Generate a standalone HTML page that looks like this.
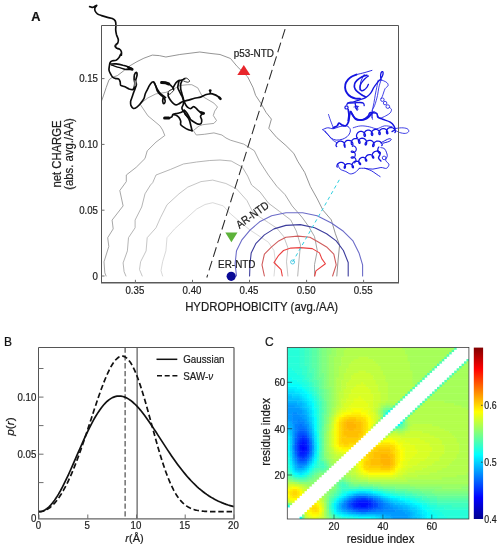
<!DOCTYPE html>
<html><head><meta charset="utf-8"><title>Figure</title>
<style>html,body{margin:0;padding:0;background:#fff}svg{display:block}text{stroke:#222;stroke-width:0.22px;paint-order:stroke}</style></head>
<body><svg width="501" height="550" viewBox="0 0 501 550" font-family="'Liberation Sans', sans-serif">
<rect width="501" height="550" fill="#fff"/>
<clipPath id="clipA"><rect x="101.5" y="25.5" width="297.0" height="257.3"/></clipPath>
<g clip-path="url(#clipA)">
<path d="M100.0,104.0 L101.3,101.5 L103.4,95.9 L106.2,87.5 L109.0,79.8 L112.0,77.5 L117.4,75.6 L122.9,71.4 L129.9,65.8 L136.9,61.7 L143.9,58.2 L152.3,55.1 L159.3,55.6 L165.9,57.0 L179.8,54.5 L199.8,52.0 L211.0,53.5 L220.0,54.5 L230.5,58.5 L237.1,66.4 L247.7,76.9 L253.0,87.5 L255.6,95.4 L260.9,103.3 L266.1,112.5 L271.4,119.1 L268.8,128.3 L276.7,137.5 L285.9,145.5 L293.8,153.4 L297.7,161.2 L304.7,172.4 L310.3,186.3 L317.3,198.9 L322.9,210.1 L331.3,219.9 L335.4,233.8 L339.6,245.0 L338.2,259.0 L336.8,276.0" fill="none" stroke="#828282" stroke-width="0.85" stroke-linejoin="round" stroke-linecap="round" />
<path d="M106.1,276.0 L104.8,272.8 L104.0,261.8 L108.8,246.5 L107.7,237.7 L113.2,228.9 L112.1,220.1 L123.1,205.9 L119.8,190.5 L126.3,181.6 L126.3,175.0 L136.2,167.3 L145.0,158.5 L147.2,150.9 L156.0,142.1 L164.8,135.5 L162.6,130.0 L159.9,125.8 L147.9,115.8 L139.9,103.9 L147.9,97.9 L155.9,93.9 L165.9,92.4 L173.9,88.9 L179.8,85.5 L187.8,84.7 L191.8,84.7 L197.8,87.9 L201.5,95.0 L204.3,97.5 L213.9,103.1 L217.5,107.0 L214.7,111.1 L213.3,115.5 L216.5,120.5 L213.9,123.4 L202.7,124.7 L199.0,126.0 L193.3,130.6 L196.3,135.0 L204.3,134.3 L213.9,132.9 L221.9,135.0 L226.0,138.0 L230.5,140.2 L243.7,144.1 L254.3,150.7 L259.5,161.3 L268.4,175.1 L276.8,186.3 L285.1,194.7 L292.1,205.9 L301.9,217.1 L308.9,226.8 L314.5,236.6 L317.3,250.6 L314.5,264.6 L314.5,276.0" fill="none" stroke="#969696" stroke-width="0.85" stroke-linejoin="round" stroke-linecap="round" />
<path d="M125.9,276.0 L124.1,271.7 L123.1,262.9 L127.4,250.9 L128.5,237.7 L135.1,227.8 L135.1,220.1 L141.7,207.0 L145.0,193.8 L150.5,185.0 L152.7,182.7 L156.0,175.0 L170.3,169.5 L183.4,164.0 L196.6,162.0 L209.8,160.5 L220.0,160.0 L231.2,161.0 L242.4,167.2 L247.7,176.1 L251.6,185.0 L260.0,191.9 L268.4,203.1 L279.6,211.5 L290.7,219.9 L296.3,231.0 L300.5,245.0 L299.1,259.0 L297.7,276.0" fill="none" stroke="#a8a8a8" stroke-width="0.85" stroke-linejoin="round" stroke-linecap="round" />
<path d="M142.2,276.0 L139.5,269.5 L140.6,261.8 L146.1,250.9 L147.2,237.7 L156.0,227.8 L160.4,217.9 L167.0,204.8 L179.0,193.8 L187.8,187.1 L201.0,181.6 L212.7,180.1 L225.9,183.5 L236.5,188.8 L247.0,200.6 L252.3,211.2 L260.0,217.1 L268.4,222.6 L276.8,228.2 L283.8,236.6 L287.9,247.8 L286.5,261.8 L287.9,276.0" fill="none" stroke="#bcbcbc" stroke-width="0.85" stroke-linejoin="round" stroke-linecap="round" />
<path d="M162.6,276.0 L161.0,270.6 L162.6,261.8 L165.9,250.9 L167.0,237.7 L174.6,228.9 L185.6,219.0 L196.6,209.1 L205.0,204.5 L212.7,202.7 L223.3,205.9 L229.1,212.5 L240.0,222.0 L250.0,230.0 L260.0,236.6 L268.4,242.2 L274.0,250.6 L275.4,261.8 L274.0,276.0" fill="none" stroke="#d2d2d2" stroke-width="0.85" stroke-linejoin="round" stroke-linecap="round" />
<path d="M236.5,276.0 L235.1,263.9 L236.5,250.7 L241.7,240.2 L250.0,230.1 L259.6,221.8 L271.6,215.8 L285.9,212.7 L302.7,212.7 L317.1,215.8 L331.4,223.0 L343.4,231.3 L353.0,240.9 L359.0,252.9 L362.6,264.9 L362.6,276.0" fill="none" stroke="#6c6cc8" stroke-width="1.1" stroke-linejoin="round" stroke-linecap="round" />
<path d="M249.6,276.0 L250.0,264.0 L251.2,252.9 L256.0,243.3 L264.4,234.9 L274.0,228.9 L285.9,225.4 L300.3,224.6 L314.7,227.8 L326.6,233.7 L336.2,240.9 L343.4,250.5 L348.2,262.5 L348.2,276.0" fill="none" stroke="#3c3c9c" stroke-width="1.1" stroke-linejoin="round" stroke-linecap="round" />
<path d="M264.4,276.0 L262.0,264.9 L264.4,254.1 L271.6,246.9 L278.7,240.9 L285.9,237.3 L297.9,236.1 L309.9,237.3 L318.3,242.1 L326.6,246.9 L333.8,254.1 L336.2,264.9 L332.6,276.0" fill="none" stroke="#d05c5c" stroke-width="1.1" stroke-linejoin="round" stroke-linecap="round" />
<path d="M282.3,276.0 L281.1,269.7 L274.0,262.5 L278.7,255.3 L283.5,250.5 L290.7,248.1 L300.3,247.6 L312.3,248.6 L319.5,252.9 L321.9,258.9 L325.4,263.7 L315.9,270.9 L314.7,276.0" fill="none" stroke="#ea4040" stroke-width="1.1" stroke-linejoin="round" stroke-linecap="round" />
</g>
<line x1="206.8" y1="277.5" x2="286.2" y2="25.5" stroke="#2a2a2a" stroke-width="1.05" stroke-dasharray="10 4.3" stroke-dashoffset="6.9"/>
<line x1="292.6" y1="262" x2="339.6" y2="179.3" stroke="#30d0e0" stroke-width="1" stroke-dasharray="3.5 3"/>
<circle cx="292.6" cy="262" r="2" fill="none" stroke="#30c0e0" stroke-width="0.8"/>
<polygon points="243.8,65 237.3,75 250.3,75" fill="#e8262c"/>
<text transform="translate(233.7,57.3) scale(0.885,1)" font-size="11.2" text-anchor="start" fill="#1c1c1c" >p53-NTD</text>
<polygon points="225.3,232.4 237.5,232.4 231.4,242.3" fill="#5db23a"/>
<circle cx="231.2" cy="276.3" r="4.6" fill="#0a0a96"/>
<text transform="translate(218.1,268.0) scale(0.885,1)" font-size="11.2" text-anchor="start" fill="#1c1c1c" >ER-NTD</text>
<text transform="translate(239.5,229.0) rotate(-36) scale(0.885,1)" font-size="11.2" text-anchor="start" fill="#1c1c1c" >AR-NTD</text>
<path d="M89.6,6.6 C90.0,6.7 91.2,7.4 92.0,7.4 C92.8,7.4 93.6,6.9 94.4,6.6 C95.2,6.2 96.7,5.2 96.8,5.4 C96.9,5.6 95.3,6.9 95.0,7.8 C94.7,8.7 94.6,9.8 95.0,10.8 C95.4,11.8 96.3,13.0 97.4,13.8 C98.5,14.6 99.9,15.0 101.6,15.6 C103.3,16.2 105.7,16.9 107.5,17.4 C109.3,17.9 111.0,18.0 112.3,18.6 C113.6,19.2 114.7,19.9 115.3,21.0 C115.9,22.1 115.9,23.7 115.9,25.1 C116.0,26.6 115.6,28.3 115.7,29.9 C115.8,31.5 116.1,33.1 116.5,34.7 C117.0,36.3 118.1,38.2 118.3,39.5 C118.5,40.9 118.3,41.9 117.8,42.9 C117.4,43.8 115.9,44.4 115.7,45.3 C115.4,46.1 115.6,47.3 116.3,47.9 C116.9,48.5 118.7,48.5 119.5,49.1 C120.4,49.7 121.0,50.5 121.3,51.5 C121.6,52.5 121.5,54.7 121.4,55.1 C121.4,55.5 121.2,53.6 120.8,54.0 C120.4,54.4 119.8,56.4 119.0,57.5 C118.2,58.5 117.2,59.7 116.0,60.3 C114.7,60.8 112.7,60.6 111.8,61.0 C110.8,61.4 110.5,61.8 110.1,62.6 C109.7,63.5 109.6,64.6 109.4,65.8 C109.2,67.1 108.8,68.8 109.0,70.0 C109.1,71.3 109.8,72.4 110.4,73.5 C111.0,74.7 111.7,76.2 112.5,77.0 C113.3,77.8 114.2,78.1 115.3,78.4 C116.3,78.8 117.9,78.5 118.8,79.1 C119.6,79.7 119.8,80.9 120.2,81.9 C120.5,83.0 120.0,84.6 120.8,85.4 C121.7,86.2 123.6,86.2 125.0,86.8 C126.4,87.4 128.0,88.4 129.2,88.9 C130.5,89.4 131.9,89.8 132.7,89.6 C133.5,89.4 133.8,88.6 134.1,87.5 C134.5,86.5 134.8,84.7 134.8,83.3 C134.8,81.9 134.2,80.5 134.1,79.1 C134.1,77.7 134.1,76.0 134.4,74.9 C134.8,73.8 135.8,72.4 136.2,72.4 C136.7,72.4 137.1,73.6 137.1,74.9 C137.0,76.3 135.8,78.9 135.7,80.5 C135.5,82.1 136.5,83.3 136.4,84.7 C136.2,86.1 135.4,87.5 135.0,88.9 C134.5,90.3 133.9,91.7 133.4,93.1 C132.9,94.5 132.5,95.9 132.0,97.3 C131.6,98.7 130.8,100.1 130.6,101.5 C130.5,102.9 130.6,104.5 131.0,105.7 C131.5,106.8 132.4,108.2 133.4,108.5 C134.4,108.7 135.8,107.9 136.9,107.1 C138.1,106.3 139.2,105.0 140.4,103.6 C141.6,102.2 143.1,100.3 143.9,98.7 C144.7,97.1 144.7,95.3 145.3,93.8 C145.9,92.3 146.7,91.0 147.4,89.6 C148.1,88.2 148.8,86.6 149.5,85.4 C150.2,84.2 150.9,83.2 151.6,82.6 C152.3,82.0 153.0,81.3 153.7,81.9 C154.4,82.5 155.1,84.7 155.8,86.1 C156.5,87.5 157.1,89.0 157.9,90.3 C158.7,91.6 159.7,92.9 160.7,93.8 C161.6,94.7 162.6,95.3 163.5,95.9 C164.3,96.5 165.2,97.3 165.6,97.6" fill="none" stroke="#0c0c0c" stroke-width="1.65" stroke-linejoin="round" stroke-linecap="round" />
<path d="M117.8,42.9 C117.4,43.2 115.5,43.9 115.0,44.6 C114.5,45.2 114.4,46.2 114.7,46.9 C115.1,47.7 116.3,48.5 117.1,48.9 C118.0,49.3 119.3,49.3 119.8,49.3" fill="none" stroke="#0c0c0c" stroke-width="0.7" stroke-linejoin="round" stroke-linecap="round" />
<path d="M110.6,64.0 C111.5,64.0 113.9,63.7 116.0,63.9 C118.0,64.1 120.7,64.6 122.9,65.2 C125.2,65.7 127.7,66.6 129.2,67.2 C130.8,67.9 131.7,68.5 132.2,68.8" fill="none" stroke="#0c0c0c" stroke-width="1.6" stroke-linejoin="round" stroke-linecap="round" />
<path d="M111.5,65.2 C112.7,65.5 116.4,66.7 118.8,67.4 C121.1,68.1 123.6,69.1 125.7,69.5 C127.9,69.9 130.9,69.6 131.9,69.6" fill="none" stroke="#0c0c0c" stroke-width="1.3" stroke-linejoin="round" stroke-linecap="round" />
<path d="M128.5,67.9 L132.2,69.2" fill="none" stroke="#0c0c0c" stroke-width="2.8" stroke-linejoin="round" stroke-linecap="round" />
<path d="M134.5,79.8 L136.4,81.2 L136.1,85.4 L134.1,86.8 Z" fill="#8a8a8a" stroke="none"/>
<path d="M154.0,82.5 C154.2,82.8 154.6,83.1 155.0,84.0 C155.4,84.8 155.8,86.4 156.2,87.6 C156.6,88.8 156.8,90.1 157.4,91.2 C158.0,92.3 158.9,93.3 159.8,94.2 C160.7,95.1 162.0,95.8 162.8,96.6 C163.6,97.3 164.2,98.0 164.6,98.9 C165.0,99.8 165.2,101.2 165.1,101.9 C164.9,102.7 164.3,103.7 163.9,103.6 C163.5,103.5 162.8,102.3 162.7,101.3 C162.5,100.4 163.1,98.6 163.1,98.1" fill="none" stroke="#0c0c0c" stroke-width="1.65" stroke-linejoin="round" stroke-linecap="round" />
<path d="M161.6,82.5 L165.8,82.8 L168.8,84.0" fill="none" stroke="#0c0c0c" stroke-width="3.0" stroke-linejoin="round" stroke-linecap="round" />
<path d="M161.6,82.5 C162.3,82.6 164.6,82.5 165.8,82.8 C167.0,83.0 167.9,83.5 168.8,84.0 C169.7,84.5 170.5,85.2 171.2,85.8 C171.9,86.4 172.6,87.0 173.0,87.6 C173.4,88.2 173.5,89.1 173.6,89.4" fill="none" stroke="#0c0c0c" stroke-width="1.65" stroke-linejoin="round" stroke-linecap="round" />
<path d="M173.0,88.2 C173.3,87.6 174.2,85.6 174.8,84.6 C175.4,83.6 175.9,82.8 176.6,82.2 C177.3,81.5 178.1,81.0 179.0,80.6 C179.9,80.3 181.0,80.5 181.9,80.1 C182.9,79.8 184.2,78.9 184.7,78.7" fill="none" stroke="#0c0c0c" stroke-width="1.65" stroke-linejoin="round" stroke-linecap="round" />
<path d="M181.9,79.9 C182.6,79.6 184.8,77.8 186.1,78.0 C187.4,78.2 189.5,80.3 189.7,81.0 C189.9,81.7 188.3,82.2 187.3,82.2 C186.3,82.2 184.3,81.2 183.7,81.0" fill="none" stroke="#0c0c0c" stroke-width="0.8" stroke-linejoin="round" stroke-linecap="round" />
<path d="M181.9,81.0 C181.7,81.5 180.9,82.7 180.7,84.0 C180.5,85.3 180.5,87.2 180.7,88.8 C180.9,90.4 181.5,92.1 181.9,93.6 C182.3,95.1 182.8,96.5 183.1,97.7 C183.4,99.0 183.7,100.1 183.7,101.3 C183.7,102.5 183.4,103.8 183.1,104.9 C182.8,106.0 181.9,106.9 181.9,107.9 C181.9,108.9 182.5,109.9 183.1,110.9 C183.7,111.9 184.7,112.8 185.5,113.9 C186.3,115.0 187.2,116.3 187.9,117.5 C188.6,118.7 189.2,119.7 189.7,121.1 C190.2,122.5 190.5,124.3 190.9,125.9 C191.3,127.5 191.9,129.9 192.1,130.7" fill="none" stroke="#0c0c0c" stroke-width="1.65" stroke-linejoin="round" stroke-linecap="round" />
<path d="M179.0,80.6 C178.9,81.2 178.6,82.8 178.4,84.0 C178.2,85.1 177.6,86.3 177.8,87.6 C178.0,88.9 178.9,90.4 179.6,91.8 C180.2,93.2 181.2,94.5 181.9,96.0 C182.6,97.4 183.0,99.1 183.7,100.7 C184.4,102.3 185.3,104.3 186.1,105.5 C186.9,106.7 187.7,107.4 188.5,107.9 C189.3,108.4 190.1,108.7 190.9,108.5 C191.7,108.3 192.5,106.8 193.3,106.7 C194.1,106.6 194.9,107.3 195.7,107.9 C196.5,108.5 197.2,109.5 198.1,110.3 C199.0,111.1 200.2,112.2 201.1,112.7 C202.0,113.2 203.1,113.2 203.5,113.3" fill="none" stroke="#0c0c0c" stroke-width="1.65" stroke-linejoin="round" stroke-linecap="round" />
<path d="M201.1,112.5 L203.6,113.4" fill="none" stroke="#0c0c0c" stroke-width="2.8" stroke-linejoin="round" stroke-linecap="round" />
<path d="M173.0,88.8 C172.3,89.1 170.0,90.1 169.1,90.9 C168.3,91.7 167.8,93.0 167.9,93.6 C168.1,94.1 168.9,94.8 169.9,94.3 C170.8,93.7 173.2,90.9 173.9,90.2" fill="none" stroke="#0c0c0c" stroke-width="0.8" stroke-linejoin="round" stroke-linecap="round" />
<path d="M168.4,93.3 C168.4,93.8 167.9,94.9 168.2,96.0 C168.4,97.0 169.2,98.3 170.0,99.5 C170.8,100.7 172.0,102.2 173.0,103.1 C174.0,104.0 175.0,104.8 176.0,104.9 C177.0,105.0 178.0,104.2 179.0,103.7 C180.0,103.2 181.1,102.3 181.9,101.9 C182.7,101.5 182.6,101.6 183.7,101.3 C184.8,101.0 186.7,100.6 188.5,100.1 C190.3,99.6 192.5,98.8 194.5,98.3 C196.5,97.8 198.9,97.6 200.5,97.1 C202.1,96.7 202.9,95.9 204.1,95.4 C205.3,94.9 206.7,94.5 207.7,94.2 C208.7,93.9 209.7,94.1 210.1,93.6 C210.5,93.0 210.2,91.3 210.2,90.8" fill="none" stroke="#0c0c0c" stroke-width="1.65" stroke-linejoin="round" stroke-linecap="round" />
<circle cx="210.2" cy="90.6" r="1.4" fill="#0c0c0c"/>
<path d="M210.1,93.6 C210.7,93.7 212.5,93.9 213.7,94.3 C214.9,94.7 216.2,95.2 217.3,96.0 C218.4,96.7 219.8,98.1 220.3,98.6" fill="none" stroke="#0c0c0c" stroke-width="1.75" stroke-linejoin="round" stroke-linecap="round" />
<path d="M219.4,97.7 L220.5,98.8" fill="none" stroke="#0c0c0c" stroke-width="2.5" stroke-linejoin="round" stroke-linecap="round" />
<path d="M164.6,118.1 L168.8,118.1" fill="none" stroke="#0c0c0c" stroke-width="3.0" stroke-linejoin="round" stroke-linecap="round" />
<path d="M164.6,118.1 C165.3,118.1 167.6,118.3 168.8,118.1 C170.0,117.9 171.1,117.5 171.8,116.9 C172.5,116.3 172.0,115.1 173.0,114.5 C174.0,113.9 176.3,113.7 177.8,113.3 C179.3,112.9 180.8,112.6 181.9,112.1 C183.0,111.6 183.5,110.2 184.3,110.3 C185.1,110.4 185.9,111.6 186.7,112.7 C187.5,113.8 188.4,115.7 189.1,116.9 C189.8,118.1 190.0,119.0 190.9,119.9 C191.8,120.8 193.3,121.6 194.5,122.3 C195.7,123.0 197.0,123.9 198.1,124.1 C199.2,124.3 200.5,124.2 201.1,123.5 C201.7,122.8 201.8,121.1 201.7,119.9 C201.6,118.7 200.4,117.3 200.5,116.3 C200.6,115.3 201.8,114.4 202.3,113.9 C202.8,113.4 203.3,113.4 203.5,113.3" fill="none" stroke="#0c0c0c" stroke-width="1.65" stroke-linejoin="round" stroke-linecap="round" />
<path d="M173.0,114.5 C173.6,114.7 175.6,114.9 176.6,115.4 C177.6,115.9 178.3,116.6 179.0,117.5 C179.7,118.5 180.4,119.9 180.7,121.1 C181.0,122.3 180.2,123.7 180.7,124.7 C181.2,125.7 182.5,126.3 183.7,127.1 C184.9,127.9 186.5,128.9 187.9,129.5 C189.3,130.1 191.4,130.5 192.1,130.7" fill="none" stroke="#0c0c0c" stroke-width="1.65" stroke-linejoin="round" stroke-linecap="round" />
<path d="M184.3,110.3 C184.4,110.9 184.4,112.9 184.9,113.9 C185.4,114.9 186.5,115.6 187.3,116.3 C188.1,117.0 189.3,117.8 189.7,118.1" fill="none" stroke="#0c0c0c" stroke-width="1.6" stroke-linejoin="round" stroke-linecap="round" />
<path d="M371.9,70.4 C370.8,70.7 367.5,71.8 364.9,72.5 C362.4,73.2 357.9,74.2 356.5,74.6" fill="none" stroke="#1414e0" stroke-width="0.9" stroke-linejoin="round" stroke-linecap="round" />
<path d="M356.5,74.6 C355.5,75.0 352.0,76.1 350.3,77.4 C348.5,78.7 346.9,80.5 346.1,82.3 C345.2,84.0 345.0,86.1 345.1,87.8 C345.2,89.6 345.8,91.2 346.8,92.7 C347.7,94.3 349.4,96.0 351.0,96.9 C352.5,97.9 354.3,98.3 355.8,98.6 C357.4,98.9 359.3,98.6 360.0,98.6" fill="none" stroke="#1414e0" stroke-width="1.9" stroke-linejoin="round" stroke-linecap="round" />
<path d="M367.0,75.3 C366.2,75.5 363.8,75.9 362.1,76.7 C360.5,77.5 358.5,78.9 357.2,80.2 C356.0,81.4 354.8,82.8 354.5,84.4 C354.1,85.9 354.5,87.8 355.2,89.2 C355.8,90.6 357.4,91.7 358.6,92.7 C359.9,93.8 361.7,94.8 362.8,95.5 C364.0,96.2 365.2,96.7 365.6,96.9" fill="none" stroke="#1414e0" stroke-width="1.7" stroke-linejoin="round" stroke-linecap="round" />
<path d="M368.4,76.0 C367.8,76.4 366.1,77.6 364.9,78.8 C363.8,79.9 362.3,81.6 361.4,83.0 C360.6,84.4 360.0,85.9 360.0,87.2 C360.0,88.4 360.7,90.2 361.4,90.6 C362.1,91.1 363.3,90.5 364.2,89.9 C365.2,89.4 366.3,88.1 367.0,87.2 C367.7,86.2 368.2,84.8 368.4,84.4" fill="none" stroke="#1414e0" stroke-width="1.3" stroke-linejoin="round" stroke-linecap="round" />
<path d="M364.2,74.6 C363.8,75.5 362.1,78.3 361.4,80.2 C360.7,82.0 360.3,84.1 360.0,85.8 C359.8,87.4 360.0,89.2 360.0,89.9" fill="none" stroke="#1414e0" stroke-width="1.0" stroke-linejoin="round" stroke-linecap="round" />
<path d="M381.0,80.2 C380.9,79.3 380.5,76.7 380.6,75.3 C380.7,73.9 381.3,72.2 381.7,71.8 C382.1,71.3 383.0,71.8 383.1,72.5 C383.2,73.2 382.9,74.8 382.4,76.0 C381.9,77.1 381.1,78.4 380.3,79.5 C379.5,80.5 378.6,81.0 377.5,82.3 C376.5,83.5 375.2,85.3 374.0,87.2 C372.8,89.0 371.9,91.7 370.5,93.4 C369.1,95.2 367.4,96.6 365.6,97.6 C363.9,98.7 362.0,99.0 360.0,99.7 C358.1,100.4 355.6,101.4 353.8,101.8 C351.9,102.3 350.0,102.1 348.9,102.5 C347.7,103.0 347.1,104.3 346.8,104.6" fill="none" stroke="#1414e0" stroke-width="1.3" stroke-linejoin="round" stroke-linecap="round" />
<path d="M378.2,80.2 C378.0,81.3 377.3,84.8 376.8,87.2 C376.3,89.5 375.9,91.6 375.4,94.1 C374.9,96.7 374.5,100.0 374.0,102.5 C373.5,105.1 373.0,106.9 372.6,109.5 C372.3,112.1 372.0,116.5 371.9,117.9" fill="none" stroke="#1414e0" stroke-width="0.8" stroke-linejoin="round" stroke-linecap="round" />
<path d="M381.0,80.2 C380.6,81.3 379.5,84.6 378.9,87.2 C378.3,89.7 378.2,92.5 377.5,95.5 C376.8,98.6 375.6,102.9 374.7,105.3 C373.8,107.8 372.4,109.4 371.9,110.2" fill="none" stroke="#1414e0" stroke-width="0.8" stroke-linejoin="round" stroke-linecap="round" />
<path d="M380.3,79.5 C380.9,79.7 382.6,80.3 383.8,80.9 C385.0,81.4 386.6,82.1 387.3,83.0 C388.0,83.8 388.3,84.8 388.0,85.8 C387.6,86.7 385.9,87.5 385.2,88.5 C384.5,89.6 384.3,90.8 383.8,92.0 C383.3,93.3 382.9,95.1 382.4,96.2 C381.9,97.3 381.2,98.2 381.0,98.6" fill="none" stroke="#1414e0" stroke-width="0.8" stroke-linejoin="round" stroke-linecap="round" />
<circle cx="382.4" cy="99.7" r="1.75" fill="none" stroke="#1414e0" stroke-width="0.8"/>
<circle cx="385.1" cy="103.1" r="1.75" fill="none" stroke="#1414e0" stroke-width="0.8"/>
<circle cx="387.8" cy="106.6" r="1.82" fill="none" stroke="#1414e0" stroke-width="0.8"/>
<path d="M389.4,107.4 C389.7,107.8 391.4,108.6 391.5,109.5 C391.6,110.4 391.0,112.0 390.1,113.0 C389.1,114.0 387.5,115.0 385.9,115.8 C384.3,116.6 381.7,118.0 380.3,117.9 C378.9,117.8 378.4,116.1 377.5,115.1 C376.6,114.0 375.6,111.8 374.7,111.6 C373.8,111.4 372.3,112.4 371.9,113.7 C371.6,115.0 372.5,118.4 372.6,119.3" fill="none" stroke="#1414e0" stroke-width="0.8" stroke-linejoin="round" stroke-linecap="round" />
<circle cx="346.5" cy="107.4" r="1.6" fill="none" stroke="#1414e0" stroke-width="1.2"/>
<path d="M347.5,103.2 C348.6,103.1 352.4,102.9 354.5,102.8 C356.5,102.7 358.5,102.4 360.0,102.5 C361.6,102.6 362.8,102.7 363.5,103.2 C364.2,103.7 364.1,105.2 364.2,105.6" fill="none" stroke="#1414e0" stroke-width="1.3" stroke-linejoin="round" stroke-linecap="round" />
<path d="M355.2,103.2 C355.3,103.9 355.5,106.2 355.8,107.4 C356.2,108.6 357.0,109.7 357.2,110.2" fill="none" stroke="#1414e0" stroke-width="1.3" stroke-linejoin="round" stroke-linecap="round" />
<path d="M354.0,107.0 C354.8,106.9 358.3,106.1 358.6,106.4 C358.9,106.7 356.2,108.9 355.8,108.8 C355.5,108.7 356.5,105.5 356.8,105.6 C357.2,105.7 357.8,108.9 357.9,109.5" fill="none" stroke="#1414e0" stroke-width="0.9" stroke-linejoin="round" stroke-linecap="round" />
<path d="M348.2,109.5 C348.3,110.4 348.9,113.2 348.9,115.1 C348.9,117.0 348.3,119.8 348.2,120.7" fill="none" stroke="#1414e0" stroke-width="1.7" stroke-linejoin="round" stroke-linecap="round" />
<path d="M351.0,111.6 C351.3,112.3 352.2,114.5 353.1,115.8 C353.9,117.1 354.7,118.6 355.8,119.3 C357.0,120.0 358.5,120.1 360.0,120.0 C361.6,119.9 363.5,119.3 364.9,118.6 C366.3,117.9 367.6,116.7 368.4,115.8 C369.2,114.9 369.0,113.6 369.8,113.0 C370.6,112.4 372.7,112.4 373.3,112.3" fill="none" stroke="#1414e0" stroke-width="1.6" stroke-linejoin="round" stroke-linecap="round" />
<path d="M350.3,111.6 C350.2,112.4 349.7,114.6 349.4,116.4 C349.1,118.1 349.1,120.5 348.4,122.1 C347.8,123.6 346.7,125.4 345.6,125.9 C344.5,126.3 342.9,125.4 341.8,124.9 C340.7,124.4 339.8,122.9 339.0,123.0 C338.2,123.2 338.0,125.1 337.1,125.9 C336.1,126.6 333.9,127.4 333.3,127.8" fill="none" stroke="#1414e0" stroke-width="1.7" stroke-linejoin="round" stroke-linecap="round" />
<path d="M333.3,127.8 C332.8,126.5 331.2,122.4 330.4,120.2 C329.6,118.0 328.8,115.4 328.5,114.5" fill="none" stroke="#1414e0" stroke-width="0.8" stroke-linejoin="round" stroke-linecap="round" />
<path d="M351.3,112.6 C351.9,113.5 353.5,117.0 355.1,118.3 C356.7,119.5 358.9,120.1 360.8,120.2 C362.7,120.2 364.9,119.4 366.5,118.7 C368.0,117.9 369.3,116.4 370.2,115.4 C371.2,114.4 371.8,113.1 372.1,112.6" fill="none" stroke="#1414e0" stroke-width="1.7" stroke-linejoin="round" stroke-linecap="round" />
<path d="M372.1,112.6 C372.9,112.7 375.9,112.7 376.9,113.5 C377.8,114.3 376.9,116.4 377.8,117.3 C378.8,118.3 380.5,118.4 382.6,119.2 C384.6,120.0 388.3,121.0 390.2,122.1 C392.1,123.2 393.2,124.6 393.9,125.9 C394.7,127.1 395.2,128.7 394.9,129.6 C394.6,130.6 392.5,131.2 392.1,131.5" fill="none" stroke="#1414e0" stroke-width="1.5" stroke-linejoin="round" stroke-linecap="round" />
<path d="M394.9,128.7 C396.0,128.5 399.5,127.8 401.5,127.8 C403.6,127.8 406.0,128.1 407.2,128.7 C408.4,129.3 409.1,130.8 408.7,131.5 C408.4,132.3 406.8,133.3 405.3,133.4 C403.8,133.6 401.2,133.0 399.6,132.5 C398.1,132.0 396.5,130.9 395.8,130.6" fill="none" stroke="#1414e0" stroke-width="0.8" stroke-linejoin="round" stroke-linecap="round" />
<path d="M322.8,129.6 C323.6,129.3 325.8,127.9 327.6,127.8 C329.3,127.6 331.4,128.9 333.3,128.7 C335.2,128.5 336.7,127.3 339.0,126.8 C341.2,126.3 344.6,125.4 346.5,125.9 C348.4,126.3 350.0,128.1 350.3,129.6 C350.7,131.2 349.7,133.8 348.4,135.3 C347.2,136.9 344.8,138.3 342.8,139.1 C340.7,139.9 338.0,140.2 336.1,140.1 C334.2,139.9 332.8,139.1 331.4,138.2 C330.0,137.2 329.0,135.8 327.6,134.4 C326.2,133.0 323.6,130.4 322.8,129.6" fill="none" stroke="#1414e0" stroke-width="0.9" stroke-linejoin="round" stroke-linecap="round" />
<path d="M357.5,137.8 L357.0,137.6 L356.6,136.9 L356.5,135.7 L356.8,134.3 L357.5,133.0 L358.7,132.0 L360.2,131.4 L361.7,131.4 L363.2,132.0 L364.4,133.0 L365.2,134.1 L365.5,135.3 L365.3,136.1 L364.9,136.5 L364.4,136.3 L364.0,135.5 L363.9,134.4 L364.2,133.0 L365.0,131.7 L366.3,130.5 L367.8,130.1 L369.4,130.2 L370.8,130.9 L371.9,132.0 L372.6,133.2 L372.8,134.3 L372.6,135.2 L372.2,135.5 L371.7,135.3 L371.3,134.5 L371.3,133.3 L371.7,132.0 L372.6,130.7 L373.8,129.8 L375.4,129.4 L376.9,129.5 L378.3,130.2 L379.4,131.2 L380.1,132.4 L380.3,133.6 L380.1,134.4 L379.7,134.7 L379.2,134.5 L378.8,133.7 L378.8,132.6 L379.2,131.2 L380.1,130.0 L381.4,129.0 L382.9,128.6 L384.4,128.7 L385.9,129.4 L387.0,130.5 L387.6,131.7 L387.8,132.8 L387.9,133.5 L387.5,133.9 L386.9,133.7 L386.5,133.0 L386.4,131.8 L386.7,130.4 L387.4,129.1 L388.6,128.1 L390.1,127.5 L391.6,127.5 L393.1,128.0 L394.3,129.0 L395.1,130.2 L395.4,131.3 L395.3,132.1 L394.9,132.5" fill="none" stroke="#1414e0" stroke-width="1.25" stroke-linejoin="round" stroke-linecap="round" />
<path d="M353.2,127.8 C354.4,127.4 358.1,126.0 360.8,125.9 C363.5,125.7 366.6,126.3 369.3,126.8 C372.0,127.3 374.4,128.9 376.9,128.7 C379.4,128.5 381.9,126.2 384.5,125.9 C387.0,125.5 390.8,126.6 392.1,126.8" fill="none" stroke="#1414e0" stroke-width="0.8" stroke-linejoin="round" stroke-linecap="round" />
<path d="M336.7,146.5 L336.2,146.1 L336.0,145.3 L336.3,144.1 L336.9,142.9 L338.0,141.9 L339.5,141.2 L341.0,141.1 L342.5,141.6 L343.8,142.5 L344.6,143.8 L345.0,145.1 L345.0,146.3 L344.6,147.1 L345.3,147.1 L344.8,146.9 L344.3,146.2 L344.0,145.1 L344.2,143.7 L344.8,142.3 L345.8,141.1 L347.2,140.4 L348.8,140.3 L350.3,140.6 L351.6,141.5 L352.5,142.5 L352.9,143.6 L352.9,144.5 L352.5,144.9 L351.7,144.7 L351.3,144.0 L351.2,142.8 L351.4,141.5 L352.2,140.1 L353.3,139.1 L354.8,138.5 L356.4,138.5 L357.8,139.0 L359.0,139.9 L359.8,141.1 L360.1,142.2 L360.0,143.1 L359.6,143.4 L359.1,143.2 L358.7,142.5 L358.3,140.5 L359.2,139.4 L360.4,138.6 L362.0,138.2 L363.5,138.4 L364.9,139.1 L366.0,140.2 L366.6,141.6 L366.7,143.0 L366.5,144.2 L366.0,144.9 L365.5,145.0 L365.1,144.6 L365.1,143.8 L365.5,142.7 L366.3,141.8 L367.5,140.8 L369.0,140.3 L370.5,140.3 L372.0,140.9 L373.1,141.9 L373.9,143.3 L374.2,144.6 L374.0,145.8 L373.6,146.5 L373.1,146.7 L372.7,146.4 L372.6,145.5 L372.9,144.4 L373.7,143.2 L374.0,143.2 L375.0,142.0 L376.4,141.2 L378.0,141.0 L379.5,141.3 L380.8,142.1 L381.7,143.2 L382.2,144.3 L382.2,145.1 L381.8,145.5" fill="none" stroke="#1414e0" stroke-width="1.25" stroke-linejoin="round" stroke-linecap="round" />
<path d="M380.9,142.8 C381.3,142.6 382.0,142.2 383.3,141.5 C384.6,140.8 387.5,139.1 388.9,138.8 C390.2,138.5 391.3,139.1 391.3,139.6 C391.3,140.0 390.2,140.9 388.9,141.5 C387.5,142.1 384.2,142.8 383.3,143.1" fill="none" stroke="#1414e0" stroke-width="1.0" stroke-linejoin="round" stroke-linecap="round" />
<path d="M325.0,130.8 C325.5,131.5 327.0,133.3 328.2,134.8 C329.4,136.3 330.7,138.3 332.2,139.6 C333.6,140.9 336.2,142.2 337.0,142.8" fill="none" stroke="#1414e0" stroke-width="0.8" stroke-linejoin="round" stroke-linecap="round" />
<path d="M352.3,146.3 L352.6,145.9 L353.3,145.8 L354.2,146.1 L355.2,146.7 L355.9,147.7 L356.3,148.9 L356.2,150.1 L355.6,151.2 L354.7,152.0 L353.6,152.5 L352.5,152.5 L351.6,152.3 L351.2,151.9 L351.2,151.4 L351.6,151.1 L352.4,151.1 L353.4,151.5 L354.2,152.2 L354.6,152.7 L355.2,153.8 L355.3,155.0 L355.0,156.2 L354.3,157.2 L353.4,157.9 L352.4,158.2 L351.6,158.1 L351.1,157.8 L351.1,157.4 L351.6,157.0 L352.4,156.8 L353.5,156.9 L354.5,157.5 L355.4,158.4 L355.9,159.5 L355.9,160.7 L355.4,161.9 L354.6,162.8" fill="none" stroke="#1414e0" stroke-width="1.1" stroke-linejoin="round" stroke-linecap="round" />
<path d="M337.3,167.0 L336.9,166.6 L336.9,165.9 L337.2,164.8 L337.9,163.7 L339.0,162.9 L340.4,162.4 L341.9,162.4 L343.3,162.9 L344.4,163.9 L345.2,165.1 L345.5,166.4 L345.4,167.5 L345.0,168.2 L344.6,168.3 L344.2,168.0 L344.2,167.2 L344.5,166.2 L345.2,165.1 L346.3,164.2 L347.7,163.7 L349.2,163.7 L349.3,163.7 L350.8,164.0 L352.0,164.7 L352.9,165.6 L353.4,166.6 L353.5,167.4 L353.2,167.8 L352.7,167.6 L352.2,167.0 L352.0,166.0 L352.1,164.6 L352.6,163.3 L353.5,162.2 L354.8,161.4 L356.3,161.2 L357.8,161.4 L358.7,161.7 L359.8,162.5 L360.4,163.3 L360.7,164.1 L360.5,164.5 L360.0,164.5 L359.4,164.0 L358.9,163.0 L358.7,161.7 L359.0,160.3 L359.6,159.0 L360.7,158.0 L362.1,157.4 L363.6,157.4 L365.3,158.2 L366.2,159.1 L366.7,160.1 L366.8,160.8 L366.5,161.2 L366.0,161.1 L365.5,160.5 L365.3,159.5 L365.3,158.1 L365.9,156.8 L366.8,155.6 L368.1,154.9 L369.5,154.6 L370.8,154.7 L372.1,155.3 L373.1,156.1 L373.7,157.0 L373.8,157.8 L373.6,158.2 L373.1,158.2 L372.6,157.6 L372.2,156.6 L372.1,155.3 L372.5,153.9 L373.3,152.6 L374.5,151.7 L375.0,151.5 L376.5,151.1 L377.9,151.2 L379.1,151.6 L380.0,152.3 L380.4,152.9 L380.3,153.4 L379.8,153.5 L379.1,153.2 L378.4,152.3 L377.9,151.1 L377.8,149.7 L378.1,148.2 L378.9,147.0" fill="none" stroke="#1414e0" stroke-width="1.25" stroke-linejoin="round" stroke-linecap="round" />
<path d="M380.9,147.6 C381.6,147.8 383.8,147.8 384.9,149.2 C385.9,150.5 387.1,153.7 387.3,155.5 C387.4,157.4 385.4,158.9 385.7,160.3 C385.9,161.8 388.7,163.0 388.9,164.3 C389.0,165.7 387.8,167.8 386.5,168.3 C385.1,168.9 383.2,167.4 380.9,167.5 C378.6,167.7 375.6,169.0 372.9,169.1 C370.2,169.3 367.2,168.5 364.9,168.3 C362.7,168.2 360.3,168.3 359.3,168.3" fill="none" stroke="#1414e0" stroke-width="0.9" stroke-linejoin="round" stroke-linecap="round" />
<path d="M337.8,164.3 C338.2,165.1 338.8,167.9 340.2,169.1 C341.5,170.3 344.0,170.7 345.8,171.5 C347.5,172.3 349.0,173.8 350.5,173.9 C352.1,174.0 353.9,173.2 355.3,172.3 C356.8,171.4 358.7,169.0 359.3,168.3" fill="none" stroke="#1414e0" stroke-width="0.9" stroke-linejoin="round" stroke-linecap="round" />
<path d="M364.9,168.3 C366.0,168.7 369.4,169.8 371.3,170.7 C373.2,171.7 374.6,172.9 376.1,173.9 C377.6,174.9 379.4,176.2 380.1,176.6" fill="none" stroke="#1414e0" stroke-width="0.9" stroke-linejoin="round" stroke-linecap="round" />
<circle cx="384.1" cy="157.9" r="1.8" fill="none" stroke="#1414e0" stroke-width="0.8"/>
<path d="M377.7,150.8 C378.1,151.3 380.0,152.8 380.1,154.0 C380.2,155.1 378.4,156.7 378.5,157.9 C378.6,159.1 380.5,160.6 380.9,161.1" fill="none" stroke="#1414e0" stroke-width="1.4" stroke-linejoin="round" stroke-linecap="round" />
<path d="M101.5,282.8 V25.5 H398.5 V282.8" fill="none" stroke="#555" stroke-width="1"/>
<line x1="101.0" y1="282.8" x2="399.0" y2="282.8" stroke="#5a5a5a" stroke-width="1.4"/>
<line x1="135.4" y1="282.8" x2="135.4" y2="279.8" stroke="#6e6e6e" stroke-width="1"/>
<text transform="translate(134.9,294.0) scale(0.88,1)" font-size="11.0" text-anchor="middle" fill="#1c1c1c" >0.35</text>
<line x1="192.5" y1="282.8" x2="192.5" y2="279.8" stroke="#6e6e6e" stroke-width="1"/>
<text transform="translate(192.0,294.0) scale(0.88,1)" font-size="11.0" text-anchor="middle" fill="#1c1c1c" >0.40</text>
<line x1="249.5" y1="282.8" x2="249.5" y2="279.8" stroke="#6e6e6e" stroke-width="1"/>
<text transform="translate(249.0,294.0) scale(0.88,1)" font-size="11.0" text-anchor="middle" fill="#1c1c1c" >0.45</text>
<line x1="306.6" y1="282.8" x2="306.6" y2="279.8" stroke="#6e6e6e" stroke-width="1"/>
<text transform="translate(306.1,294.0) scale(0.88,1)" font-size="11.0" text-anchor="middle" fill="#1c1c1c" >0.50</text>
<line x1="363.6" y1="282.8" x2="363.6" y2="279.8" stroke="#6e6e6e" stroke-width="1"/>
<text transform="translate(363.1,294.0) scale(0.88,1)" font-size="11.0" text-anchor="middle" fill="#1c1c1c" >0.55</text>
<line x1="101.5" y1="276.0" x2="104.5" y2="276.0" stroke="#6e6e6e" stroke-width="1"/>
<text transform="translate(98.0,279.8) scale(0.88,1)" font-size="11.0" text-anchor="end" fill="#1c1c1c" >0</text>
<line x1="101.5" y1="210.2" x2="104.5" y2="210.2" stroke="#6e6e6e" stroke-width="1"/>
<text transform="translate(98.0,214.0) scale(0.88,1)" font-size="11.0" text-anchor="end" fill="#1c1c1c" >0.05</text>
<line x1="101.5" y1="144.4" x2="104.5" y2="144.4" stroke="#6e6e6e" stroke-width="1"/>
<text transform="translate(98.0,148.2) scale(0.88,1)" font-size="11.0" text-anchor="end" fill="#1c1c1c" >0.10</text>
<line x1="101.5" y1="78.6" x2="104.5" y2="78.6" stroke="#6e6e6e" stroke-width="1"/>
<text transform="translate(98.0,82.4) scale(0.88,1)" font-size="11.0" text-anchor="end" fill="#1c1c1c" >0.15</text>
<text transform="translate(261.6,310.5) scale(0.905,1)" font-size="12.6" text-anchor="middle" fill="#1c1c1c" >HYDROPHOBICITY (avg./AA)</text>
<text transform="translate(60.8,154.0) rotate(-90) scale(0.905,1)" font-size="12.5" text-anchor="middle" fill="#1c1c1c" >net CHARGE</text>
<text transform="translate(72.9,154.0) rotate(-90) scale(0.905,1)" font-size="12.5" text-anchor="middle" fill="#1c1c1c" >(abs. avg./AA)</text>
<text transform="translate(31.2,21.4)" font-size="12.8" text-anchor="start" fill="#111" font-weight="bold">A</text>
<line x1="137.1" y1="347.5" x2="137.1" y2="518.8" stroke="#3a3a3a" stroke-width="1.0"/>
<line x1="125.1" y1="347.5" x2="125.1" y2="518.8" stroke="#333" stroke-width="1.05" stroke-dasharray="5.3 2.5"/>
<polyline points="39.00,511.70 40.95,511.51 42.90,510.96 44.85,510.03 46.80,508.75 48.75,507.12 50.70,505.14 52.65,502.84 54.60,500.23 56.55,497.33 58.50,494.16 60.45,490.74 62.40,487.09 64.35,483.24 66.30,479.22 68.25,475.04 70.20,470.75 72.15,466.37 74.10,461.92 76.05,457.43 78.00,452.94 79.95,448.47 81.90,444.05 83.85,439.71 85.80,435.46 87.75,431.34 89.70,427.36 91.65,423.56 93.60,419.94 95.55,416.54 97.50,413.36 99.45,410.41 101.40,407.72 103.35,405.29 105.30,403.14 107.25,401.26 109.20,399.66 111.15,398.36 113.10,397.34 115.05,396.60 117.00,396.15 118.95,395.99 120.90,396.09 122.85,396.47 124.80,397.10 126.75,397.98 128.70,399.10 130.65,400.44 132.60,402.00 134.55,403.76 136.50,405.70 138.45,407.82 140.40,410.09 142.35,412.50 144.30,415.04 146.25,417.69 148.20,420.43 150.15,423.26 152.10,426.15 154.05,429.10 156.00,432.08 157.95,435.09 159.90,438.12 161.85,441.14 163.80,444.15 165.75,447.15 167.70,450.11 169.65,453.03 171.60,455.91 173.55,458.73 175.50,461.48 177.45,464.17 179.40,466.79 181.35,469.33 183.30,471.79 185.25,474.16 187.20,476.45 189.15,478.65 191.10,480.76 193.05,482.77 195.00,484.70 196.95,486.54 198.90,488.28 200.85,489.94 202.80,491.51 204.75,492.99 206.70,494.39 208.65,495.71 210.60,496.95 212.55,498.11 214.50,499.20 216.45,500.22 218.40,501.17 220.35,502.06 222.30,502.88 224.25,503.64 226.20,504.35 228.15,505.01 230.10,505.61 232.05,506.17 234.00,506.69" fill="none" stroke="#111" stroke-width="1.7"/>
<polyline points="39.00,511.70 39.98,511.67 40.95,511.58 41.92,511.42 42.90,511.19 43.88,510.90 44.85,510.54 45.83,510.11 46.80,509.61 47.77,509.04 48.75,508.40 49.73,507.70 50.70,506.92 51.67,506.07 52.65,505.16 53.62,504.17 54.60,503.11 55.58,501.99 56.55,500.79 57.53,499.52 58.50,498.18 59.48,496.77 60.45,495.29 61.43,493.75 62.40,492.13 63.38,490.45 64.35,488.69 65.33,486.87 66.30,484.98 67.28,483.03 68.25,481.01 69.22,478.93 70.20,476.78 71.18,474.57 72.15,472.30 73.12,469.97 74.10,467.58 75.08,465.14 76.05,462.64 77.03,460.09 78.00,457.49 78.98,454.85 79.95,452.15 80.92,449.42 81.90,446.64 82.88,443.83 83.85,440.98 84.83,438.11 85.80,435.21 86.78,432.28 87.75,429.34 88.73,426.38 89.70,423.41 90.68,420.44 91.65,417.46 92.62,414.49 93.60,411.53 94.58,408.58 95.55,405.65 96.53,402.75 97.50,399.88 98.48,397.04 99.45,394.25 100.43,391.51 101.40,388.82 102.38,386.19 103.35,383.64 104.33,381.15 105.30,378.75 106.28,376.44 107.25,374.22 108.23,372.10 109.20,370.08 110.18,368.18 111.15,366.40 112.12,364.74 113.10,363.22 114.08,361.83 115.05,360.58 116.03,359.48 117.00,358.53 117.97,357.73 118.95,357.10 119.93,356.63 120.90,356.32 121.88,356.19 122.85,356.22 123.83,356.43 124.80,356.82 125.78,357.38 126.75,358.12 127.72,359.03 128.70,360.12 129.68,361.38 130.65,362.81 131.62,364.41 132.60,366.18 133.58,368.10 134.55,370.18 135.53,372.42 136.50,374.79 137.48,377.31 138.45,379.96 139.43,382.73 140.40,385.63 141.38,388.63 142.35,391.73 143.33,394.92 144.30,398.19 145.28,401.54 146.25,404.95 147.23,408.41 148.20,411.92 149.18,415.46 150.15,419.02 151.12,422.59 152.10,426.17 153.08,429.74 154.05,433.29 155.03,436.82 156.00,440.31 156.98,443.76 157.95,447.16 158.93,450.50 159.90,453.77 160.88,456.97 161.85,460.09 162.83,463.12 163.80,466.07 164.78,468.92 165.75,471.67 166.73,474.32 167.70,476.86 168.68,479.30 169.65,481.63 170.62,483.86 171.60,485.97 172.58,487.98 173.55,489.87 174.53,491.66 175.50,493.35 176.48,494.93 177.45,496.41 178.43,497.79 179.40,499.08 180.38,500.28 181.35,501.39 182.33,502.41 183.30,503.35 184.28,504.22 185.25,505.01 186.23,505.74 187.20,506.40 188.18,507.00 189.15,507.54 190.12,508.03 191.10,508.47 192.08,508.87 193.05,509.22 194.03,509.54 195.00,509.82 195.98,510.07 196.95,510.29 197.93,510.48 198.90,510.66 199.88,510.80 200.85,510.94 201.82,511.05 202.80,511.15 203.78,511.23 204.75,511.31 205.73,511.37 206.70,511.42 207.68,511.47 208.65,511.51 209.62,511.54 210.60,511.57 211.57,511.59 212.55,511.61 213.53,511.63 214.50,511.64 215.48,511.65 216.45,511.66 217.43,511.67 218.40,511.67 219.38,511.68 220.35,511.68 221.32,511.69 222.30,511.69 223.28,511.69 224.25,511.69 225.23,511.70 226.20,511.70 227.18,511.70 228.15,511.70 229.12,511.70 230.10,511.70 231.08,511.70 232.05,511.70 233.03,511.70 234.00,511.70" fill="none" stroke="#111" stroke-width="1.7" stroke-dasharray="5.5 2.8"/>
<path d="M38.5,518.8 V347.5 H234.0" fill="none" stroke="#555" stroke-width="1"/>
<path d="M38.0,518.8 H234.0 V347.5" fill="none" stroke="#666" stroke-width="1.3"/>
<line x1="39.0" y1="518.8" x2="39.0" y2="514.5" stroke="#6e6e6e" stroke-width="1"/>
<text transform="translate(38.4,529.2) scale(0.88,1)" font-size="11.0" text-anchor="middle" fill="#1c1c1c" >0</text>
<line x1="87.8" y1="518.8" x2="87.8" y2="514.5" stroke="#6e6e6e" stroke-width="1"/>
<text transform="translate(87.2,529.2) scale(0.88,1)" font-size="11.0" text-anchor="middle" fill="#1c1c1c" >5</text>
<line x1="136.5" y1="518.8" x2="136.5" y2="514.5" stroke="#6e6e6e" stroke-width="1"/>
<text transform="translate(135.9,529.2) scale(0.88,1)" font-size="11.0" text-anchor="middle" fill="#1c1c1c" >10</text>
<line x1="185.2" y1="518.8" x2="185.2" y2="514.5" stroke="#6e6e6e" stroke-width="1"/>
<text transform="translate(184.7,529.2) scale(0.88,1)" font-size="11.0" text-anchor="middle" fill="#1c1c1c" >15</text>
<line x1="234.0" y1="518.8" x2="234.0" y2="514.5" stroke="#6e6e6e" stroke-width="1"/>
<text transform="translate(233.4,529.2) scale(0.88,1)" font-size="11.0" text-anchor="middle" fill="#1c1c1c" >20</text>
<line x1="38.5" y1="368.5" x2="43.5" y2="368.5" stroke="#6e6e6e" stroke-width="1"/>
<line x1="38.5" y1="397.1" x2="43.5" y2="397.1" stroke="#6e6e6e" stroke-width="1"/>
<line x1="38.5" y1="425.6" x2="43.5" y2="425.6" stroke="#6e6e6e" stroke-width="1"/>
<line x1="38.5" y1="454.2" x2="43.5" y2="454.2" stroke="#6e6e6e" stroke-width="1"/>
<line x1="38.5" y1="482.6" x2="43.5" y2="482.6" stroke="#6e6e6e" stroke-width="1"/>
<text transform="translate(36.3,401.0) scale(0.88,1)" font-size="11.0" text-anchor="end" fill="#1c1c1c" >0.10</text>
<text transform="translate(36.3,458.2) scale(0.88,1)" font-size="11.0" text-anchor="end" fill="#1c1c1c" >0.05</text>
<text transform="translate(36.3,521.5) scale(0.88,1)" font-size="11.0" text-anchor="end" fill="#1c1c1c" >0</text>
<text transform="translate(14.2,426.5) rotate(-90)" font-size="11.8" text-anchor="middle" fill="#1c1c1c" ><tspan font-style="italic">p</tspan>(<tspan font-style="italic">r</tspan>)</text>
<text transform="translate(134.5,542.4) scale(0.95,1)" font-size="11.6" text-anchor="middle" fill="#1c1c1c" ><tspan font-style="italic">r</tspan>(Å)</text>
<text x="4" y="346" font-size="12" fill="#111">B</text>
<line x1="156.5" y1="359.3" x2="177.3" y2="359.3" stroke="#111" stroke-width="1.5"/>
<line x1="157" y1="375.8" x2="177.5" y2="375.8" stroke="#111" stroke-width="1.5" stroke-dasharray="5 2.7"/>
<text transform="translate(183.2,363.0) scale(0.89,1)" font-size="11.0" text-anchor="start" fill="#1c1c1c" >Gaussian</text>
<text transform="translate(183.2,379.5) scale(0.89,1)" font-size="11.0" text-anchor="start" fill="#1c1c1c" >SAW-<tspan font-style="italic">ν</tspan></text>
<g><rect x="287.30" y="516.18" width="12.77" height="2.82" fill="#fff"/><rect x="299.57" y="516.18" width="2.95" height="2.82" fill="#0dfff2"/><rect x="302.02" y="516.18" width="2.95" height="2.82" fill="#66ff99"/><rect x="304.48" y="516.18" width="2.95" height="2.82" fill="#bfff40"/><rect x="306.93" y="516.18" width="2.95" height="2.82" fill="#ccff33"/><rect x="309.39" y="516.18" width="2.95" height="2.82" fill="#d9ff26"/><rect x="311.84" y="516.18" width="5.41" height="2.82" fill="#e5ff1a"/><rect x="316.75" y="516.18" width="2.95" height="2.82" fill="#d9ff26"/><rect x="319.20" y="516.18" width="2.95" height="2.82" fill="#ccff33"/><rect x="321.66" y="516.18" width="2.95" height="2.82" fill="#bfff40"/><rect x="324.11" y="516.18" width="2.95" height="2.82" fill="#a6ff59"/><rect x="326.56" y="516.18" width="2.95" height="2.82" fill="#8cff73"/><rect x="329.02" y="516.18" width="2.95" height="2.82" fill="#73ff8c"/><rect x="331.47" y="516.18" width="2.95" height="2.82" fill="#59ffa6"/><rect x="333.93" y="516.18" width="2.95" height="2.82" fill="#4dffb3"/><rect x="336.38" y="516.18" width="2.95" height="2.82" fill="#40ffbf"/><rect x="338.84" y="516.18" width="2.95" height="2.82" fill="#33ffcc"/><rect x="341.29" y="516.18" width="5.41" height="2.82" fill="#26ffd9"/><rect x="346.20" y="516.18" width="7.86" height="2.82" fill="#1affe5"/><rect x="353.56" y="516.18" width="5.41" height="2.82" fill="#0dfff2"/><rect x="358.47" y="516.18" width="12.77" height="2.82" fill="#00ffff"/><rect x="370.74" y="516.18" width="5.41" height="2.82" fill="#00f2ff"/><rect x="375.65" y="516.18" width="2.95" height="2.82" fill="#00e5ff"/><rect x="378.10" y="516.18" width="2.95" height="2.82" fill="#00d9ff"/><rect x="380.55" y="516.18" width="2.95" height="2.82" fill="#00ccff"/><rect x="383.01" y="516.18" width="2.95" height="2.82" fill="#00bfff"/><rect x="385.46" y="516.18" width="5.41" height="2.82" fill="#00b3ff"/><rect x="390.37" y="516.18" width="2.95" height="2.82" fill="#00a6ff"/><rect x="392.82" y="516.18" width="15.22" height="2.82" fill="#0099ff"/><rect x="407.55" y="516.18" width="2.95" height="2.82" fill="#00a6ff"/><rect x="410.00" y="516.18" width="2.95" height="2.82" fill="#00b3ff"/><rect x="412.46" y="516.18" width="5.41" height="2.82" fill="#00bfff"/><rect x="417.36" y="516.18" width="2.95" height="2.82" fill="#00ccff"/><rect x="419.82" y="516.18" width="2.95" height="2.82" fill="#00d9ff"/><rect x="422.27" y="516.18" width="2.95" height="2.82" fill="#00e5ff"/><rect x="424.73" y="516.18" width="2.95" height="2.82" fill="#00f2ff"/><rect x="427.18" y="516.18" width="5.41" height="2.82" fill="#00ffff"/><rect x="432.09" y="516.18" width="5.41" height="2.82" fill="#0dfff2"/><rect x="437.00" y="516.18" width="10.32" height="2.82" fill="#1affe5"/><rect x="446.81" y="516.18" width="22.09" height="2.82" fill="#26ffd9"/><rect x="287.30" y="513.86" width="15.22" height="2.82" fill="#fff"/><rect x="302.02" y="513.86" width="2.95" height="2.82" fill="#80ff80"/><rect x="304.48" y="513.86" width="2.95" height="2.82" fill="#ccff33"/><rect x="306.93" y="513.86" width="2.95" height="2.82" fill="#e5ff1a"/><rect x="309.39" y="513.86" width="2.95" height="2.82" fill="#f2ff0d"/><rect x="311.84" y="513.86" width="5.41" height="2.82" fill="#ffff00"/><rect x="316.75" y="513.86" width="2.95" height="2.82" fill="#f2ff0d"/><rect x="319.20" y="513.86" width="2.95" height="2.82" fill="#e5ff1a"/><rect x="321.66" y="513.86" width="2.95" height="2.82" fill="#ccff33"/><rect x="324.11" y="513.86" width="2.95" height="2.82" fill="#a6ff59"/><rect x="326.56" y="513.86" width="2.95" height="2.82" fill="#80ff80"/><rect x="329.02" y="513.86" width="2.95" height="2.82" fill="#66ff99"/><rect x="331.47" y="513.86" width="2.95" height="2.82" fill="#4dffb3"/><rect x="333.93" y="513.86" width="2.95" height="2.82" fill="#33ffcc"/><rect x="336.38" y="513.86" width="2.95" height="2.82" fill="#1affe5"/><rect x="338.84" y="513.86" width="2.95" height="2.82" fill="#0dfff2"/><rect x="341.29" y="513.86" width="2.95" height="2.82" fill="#00ffff"/><rect x="343.74" y="513.86" width="5.41" height="2.82" fill="#00f2ff"/><rect x="348.65" y="513.86" width="5.41" height="2.82" fill="#00e5ff"/><rect x="353.56" y="513.86" width="5.41" height="2.82" fill="#00d9ff"/><rect x="358.47" y="513.86" width="17.68" height="2.82" fill="#00ccff"/><rect x="375.65" y="513.86" width="5.41" height="2.82" fill="#00bfff"/><rect x="380.55" y="513.86" width="5.41" height="2.82" fill="#00b3ff"/><rect x="385.46" y="513.86" width="5.41" height="2.82" fill="#00a6ff"/><rect x="390.37" y="513.86" width="17.68" height="2.82" fill="#0099ff"/><rect x="407.55" y="513.86" width="2.95" height="2.82" fill="#00a6ff"/><rect x="410.00" y="513.86" width="2.95" height="2.82" fill="#00b3ff"/><rect x="412.46" y="513.86" width="2.95" height="2.82" fill="#00bfff"/><rect x="414.91" y="513.86" width="5.41" height="2.82" fill="#00ccff"/><rect x="419.82" y="513.86" width="2.95" height="2.82" fill="#00d9ff"/><rect x="422.27" y="513.86" width="2.95" height="2.82" fill="#00e5ff"/><rect x="424.73" y="513.86" width="2.95" height="2.82" fill="#00f2ff"/><rect x="427.18" y="513.86" width="5.41" height="2.82" fill="#00ffff"/><rect x="432.09" y="513.86" width="5.41" height="2.82" fill="#0dfff2"/><rect x="437.00" y="513.86" width="7.86" height="2.82" fill="#1affe5"/><rect x="444.36" y="513.86" width="24.54" height="2.82" fill="#26ffd9"/><rect x="287.30" y="511.54" width="17.68" height="2.82" fill="#fff"/><rect x="304.48" y="511.54" width="2.95" height="2.82" fill="#d9ff26"/><rect x="306.93" y="511.54" width="2.95" height="2.82" fill="#f2ff0d"/><rect x="309.39" y="511.54" width="2.95" height="2.82" fill="#ffff00"/><rect x="311.84" y="511.54" width="7.86" height="2.82" fill="#fff200"/><rect x="319.20" y="511.54" width="2.95" height="2.82" fill="#f2ff0d"/><rect x="321.66" y="511.54" width="2.95" height="2.82" fill="#ccff33"/><rect x="324.11" y="511.54" width="2.95" height="2.82" fill="#a6ff59"/><rect x="326.56" y="511.54" width="2.95" height="2.82" fill="#80ff80"/><rect x="329.02" y="511.54" width="2.95" height="2.82" fill="#59ffa6"/><rect x="331.47" y="511.54" width="2.95" height="2.82" fill="#33ffcc"/><rect x="333.93" y="511.54" width="2.95" height="2.82" fill="#0dfff2"/><rect x="336.38" y="511.54" width="2.95" height="2.82" fill="#00f2ff"/><rect x="338.84" y="511.54" width="2.95" height="2.82" fill="#00e5ff"/><rect x="341.29" y="511.54" width="2.95" height="2.82" fill="#00d9ff"/><rect x="343.74" y="511.54" width="2.95" height="2.82" fill="#00ccff"/><rect x="346.20" y="511.54" width="2.95" height="2.82" fill="#00bfff"/><rect x="348.65" y="511.54" width="2.95" height="2.82" fill="#00b3ff"/><rect x="351.11" y="511.54" width="5.41" height="2.82" fill="#00a6ff"/><rect x="356.01" y="511.54" width="5.41" height="2.82" fill="#0099ff"/><rect x="360.92" y="511.54" width="5.41" height="2.82" fill="#008cff"/><rect x="365.83" y="511.54" width="39.76" height="2.82" fill="#0099ff"/><rect x="405.09" y="511.54" width="5.41" height="2.82" fill="#00a6ff"/><rect x="410.00" y="511.54" width="2.95" height="2.82" fill="#00b3ff"/><rect x="412.46" y="511.54" width="2.95" height="2.82" fill="#00bfff"/><rect x="414.91" y="511.54" width="2.95" height="2.82" fill="#00ccff"/><rect x="417.36" y="511.54" width="2.95" height="2.82" fill="#00d9ff"/><rect x="419.82" y="511.54" width="2.95" height="2.82" fill="#00e5ff"/><rect x="422.27" y="511.54" width="5.41" height="2.82" fill="#00f2ff"/><rect x="427.18" y="511.54" width="2.95" height="2.82" fill="#00ffff"/><rect x="429.64" y="511.54" width="5.41" height="2.82" fill="#0dfff2"/><rect x="434.54" y="511.54" width="7.86" height="2.82" fill="#1affe5"/><rect x="441.91" y="511.54" width="26.99" height="2.82" fill="#26ffd9"/><rect x="287.30" y="509.22" width="20.13" height="2.82" fill="#fff"/><rect x="306.93" y="509.22" width="2.95" height="2.82" fill="#ffff00"/><rect x="309.39" y="509.22" width="2.95" height="2.82" fill="#fff200"/><rect x="311.84" y="509.22" width="2.95" height="2.82" fill="#ffe500"/><rect x="314.29" y="509.22" width="2.95" height="2.82" fill="#ffd900"/><rect x="316.75" y="509.22" width="2.95" height="2.82" fill="#ffe500"/><rect x="319.20" y="509.22" width="2.95" height="2.82" fill="#ffff00"/><rect x="321.66" y="509.22" width="2.95" height="2.82" fill="#d9ff26"/><rect x="324.11" y="509.22" width="2.95" height="2.82" fill="#a6ff59"/><rect x="326.56" y="509.22" width="2.95" height="2.82" fill="#80ff80"/><rect x="329.02" y="509.22" width="2.95" height="2.82" fill="#4dffb3"/><rect x="331.47" y="509.22" width="2.95" height="2.82" fill="#26ffd9"/><rect x="333.93" y="509.22" width="2.95" height="2.82" fill="#00ffff"/><rect x="336.38" y="509.22" width="2.95" height="2.82" fill="#00d9ff"/><rect x="338.84" y="509.22" width="2.95" height="2.82" fill="#00ccff"/><rect x="341.29" y="509.22" width="2.95" height="2.82" fill="#00b3ff"/><rect x="343.74" y="509.22" width="2.95" height="2.82" fill="#00a6ff"/><rect x="346.20" y="509.22" width="2.95" height="2.82" fill="#0099ff"/><rect x="348.65" y="509.22" width="2.95" height="2.82" fill="#008cff"/><rect x="351.11" y="509.22" width="2.95" height="2.82" fill="#0080ff"/><rect x="353.56" y="509.22" width="2.95" height="2.82" fill="#0073ff"/><rect x="356.01" y="509.22" width="2.95" height="2.82" fill="#0066ff"/><rect x="358.47" y="509.22" width="10.32" height="2.82" fill="#0059ff"/><rect x="368.28" y="509.22" width="2.95" height="2.82" fill="#0066ff"/><rect x="370.74" y="509.22" width="5.41" height="2.82" fill="#0073ff"/><rect x="375.65" y="509.22" width="7.86" height="2.82" fill="#0080ff"/><rect x="383.01" y="509.22" width="12.77" height="2.82" fill="#008cff"/><rect x="395.28" y="509.22" width="7.86" height="2.82" fill="#0099ff"/><rect x="402.64" y="509.22" width="5.41" height="2.82" fill="#00a6ff"/><rect x="407.55" y="509.22" width="2.95" height="2.82" fill="#00b3ff"/><rect x="410.00" y="509.22" width="2.95" height="2.82" fill="#00bfff"/><rect x="412.46" y="509.22" width="5.41" height="2.82" fill="#00ccff"/><rect x="417.36" y="509.22" width="2.95" height="2.82" fill="#00d9ff"/><rect x="419.82" y="509.22" width="2.95" height="2.82" fill="#00e5ff"/><rect x="422.27" y="509.22" width="2.95" height="2.82" fill="#00f2ff"/><rect x="424.73" y="509.22" width="2.95" height="2.82" fill="#00ffff"/><rect x="427.18" y="509.22" width="5.41" height="2.82" fill="#0dfff2"/><rect x="432.09" y="509.22" width="7.86" height="2.82" fill="#1affe5"/><rect x="439.45" y="509.22" width="29.45" height="2.82" fill="#26ffd9"/><rect x="287.30" y="506.91" width="22.59" height="2.82" fill="#fff"/><rect x="309.39" y="506.91" width="2.95" height="2.82" fill="#ffe500"/><rect x="311.84" y="506.91" width="5.41" height="2.82" fill="#ffd900"/><rect x="316.75" y="506.91" width="2.95" height="2.82" fill="#ffe500"/><rect x="319.20" y="506.91" width="2.95" height="2.82" fill="#ffff00"/><rect x="321.66" y="506.91" width="2.95" height="2.82" fill="#d9ff26"/><rect x="324.11" y="506.91" width="2.95" height="2.82" fill="#a6ff59"/><rect x="326.56" y="506.91" width="2.95" height="2.82" fill="#73ff8c"/><rect x="329.02" y="506.91" width="2.95" height="2.82" fill="#40ffbf"/><rect x="331.47" y="506.91" width="2.95" height="2.82" fill="#1affe5"/><rect x="333.93" y="506.91" width="2.95" height="2.82" fill="#00f2ff"/><rect x="336.38" y="506.91" width="2.95" height="2.82" fill="#00ccff"/><rect x="338.84" y="506.91" width="2.95" height="2.82" fill="#00b3ff"/><rect x="341.29" y="506.91" width="2.95" height="2.82" fill="#0099ff"/><rect x="343.74" y="506.91" width="2.95" height="2.82" fill="#008cff"/><rect x="346.20" y="506.91" width="2.95" height="2.82" fill="#0073ff"/><rect x="348.65" y="506.91" width="2.95" height="2.82" fill="#0066ff"/><rect x="351.11" y="506.91" width="2.95" height="2.82" fill="#0059ff"/><rect x="353.56" y="506.91" width="5.41" height="2.82" fill="#0040ff"/><rect x="358.47" y="506.91" width="10.32" height="2.82" fill="#0033ff"/><rect x="368.28" y="506.91" width="2.95" height="2.82" fill="#0040ff"/><rect x="370.74" y="506.91" width="2.95" height="2.82" fill="#004dff"/><rect x="373.19" y="506.91" width="2.95" height="2.82" fill="#0059ff"/><rect x="375.65" y="506.91" width="5.41" height="2.82" fill="#0066ff"/><rect x="380.55" y="506.91" width="2.95" height="2.82" fill="#0073ff"/><rect x="383.01" y="506.91" width="5.41" height="2.82" fill="#0080ff"/><rect x="387.92" y="506.91" width="5.41" height="2.82" fill="#008cff"/><rect x="392.82" y="506.91" width="5.41" height="2.82" fill="#0099ff"/><rect x="397.73" y="506.91" width="5.41" height="2.82" fill="#00a6ff"/><rect x="402.64" y="506.91" width="5.41" height="2.82" fill="#00b3ff"/><rect x="407.55" y="506.91" width="2.95" height="2.82" fill="#00bfff"/><rect x="410.00" y="506.91" width="5.41" height="2.82" fill="#00ccff"/><rect x="414.91" y="506.91" width="2.95" height="2.82" fill="#00d9ff"/><rect x="417.36" y="506.91" width="2.95" height="2.82" fill="#00e5ff"/><rect x="419.82" y="506.91" width="2.95" height="2.82" fill="#00f2ff"/><rect x="422.27" y="506.91" width="2.95" height="2.82" fill="#00ffff"/><rect x="424.73" y="506.91" width="5.41" height="2.82" fill="#0dfff2"/><rect x="429.64" y="506.91" width="5.41" height="2.82" fill="#1affe5"/><rect x="434.54" y="506.91" width="10.32" height="2.82" fill="#26ffd9"/><rect x="444.36" y="506.91" width="24.54" height="2.82" fill="#33ffcc"/><rect x="287.30" y="504.59" width="2.95" height="2.82" fill="#1affe5"/><rect x="289.75" y="504.59" width="22.59" height="2.82" fill="#fff"/><rect x="311.84" y="504.59" width="5.41" height="2.82" fill="#ffe500"/><rect x="316.75" y="504.59" width="2.95" height="2.82" fill="#fff200"/><rect x="319.20" y="504.59" width="2.95" height="2.82" fill="#f2ff0d"/><rect x="321.66" y="504.59" width="2.95" height="2.82" fill="#ccff33"/><rect x="324.11" y="504.59" width="2.95" height="2.82" fill="#a6ff59"/><rect x="326.56" y="504.59" width="2.95" height="2.82" fill="#73ff8c"/><rect x="329.02" y="504.59" width="2.95" height="2.82" fill="#40ffbf"/><rect x="331.47" y="504.59" width="2.95" height="2.82" fill="#1affe5"/><rect x="333.93" y="504.59" width="2.95" height="2.82" fill="#00f2ff"/><rect x="336.38" y="504.59" width="2.95" height="2.82" fill="#00ccff"/><rect x="338.84" y="504.59" width="2.95" height="2.82" fill="#00b3ff"/><rect x="341.29" y="504.59" width="2.95" height="2.82" fill="#008cff"/><rect x="343.74" y="504.59" width="2.95" height="2.82" fill="#0080ff"/><rect x="346.20" y="504.59" width="2.95" height="2.82" fill="#0066ff"/><rect x="348.65" y="504.59" width="2.95" height="2.82" fill="#004dff"/><rect x="351.11" y="504.59" width="2.95" height="2.82" fill="#0040ff"/><rect x="353.56" y="504.59" width="2.95" height="2.82" fill="#0026ff"/><rect x="356.01" y="504.59" width="5.41" height="2.82" fill="#001aff"/><rect x="360.92" y="504.59" width="5.41" height="2.82" fill="#000dff"/><rect x="365.83" y="504.59" width="2.95" height="2.82" fill="#001aff"/><rect x="368.28" y="504.59" width="2.95" height="2.82" fill="#0026ff"/><rect x="370.74" y="504.59" width="2.95" height="2.82" fill="#0033ff"/><rect x="373.19" y="504.59" width="2.95" height="2.82" fill="#0040ff"/><rect x="375.65" y="504.59" width="2.95" height="2.82" fill="#004dff"/><rect x="378.10" y="504.59" width="2.95" height="2.82" fill="#0066ff"/><rect x="380.55" y="504.59" width="2.95" height="2.82" fill="#0073ff"/><rect x="383.01" y="504.59" width="2.95" height="2.82" fill="#0080ff"/><rect x="385.46" y="504.59" width="5.41" height="2.82" fill="#008cff"/><rect x="390.37" y="504.59" width="2.95" height="2.82" fill="#0099ff"/><rect x="392.82" y="504.59" width="5.41" height="2.82" fill="#00a6ff"/><rect x="397.73" y="504.59" width="5.41" height="2.82" fill="#00b3ff"/><rect x="402.64" y="504.59" width="5.41" height="2.82" fill="#00bfff"/><rect x="407.55" y="504.59" width="2.95" height="2.82" fill="#00ccff"/><rect x="410.00" y="504.59" width="2.95" height="2.82" fill="#00d9ff"/><rect x="412.46" y="504.59" width="5.41" height="2.82" fill="#00e5ff"/><rect x="417.36" y="504.59" width="2.95" height="2.82" fill="#00f2ff"/><rect x="419.82" y="504.59" width="2.95" height="2.82" fill="#00ffff"/><rect x="422.27" y="504.59" width="5.41" height="2.82" fill="#0dfff2"/><rect x="427.18" y="504.59" width="2.95" height="2.82" fill="#1affe5"/><rect x="429.64" y="504.59" width="7.86" height="2.82" fill="#26ffd9"/><rect x="437.00" y="504.59" width="15.22" height="2.82" fill="#33ffcc"/><rect x="451.72" y="504.59" width="17.18" height="2.82" fill="#40ffbf"/><rect x="287.30" y="502.27" width="2.95" height="2.82" fill="#73ff8c"/><rect x="289.75" y="502.27" width="2.95" height="2.82" fill="#99ff66"/><rect x="292.21" y="502.27" width="22.59" height="2.82" fill="#fff"/><rect x="314.29" y="502.27" width="2.95" height="2.82" fill="#fff200"/><rect x="316.75" y="502.27" width="2.95" height="2.82" fill="#ffff00"/><rect x="319.20" y="502.27" width="2.95" height="2.82" fill="#e5ff1a"/><rect x="321.66" y="502.27" width="2.95" height="2.82" fill="#ccff33"/><rect x="324.11" y="502.27" width="2.95" height="2.82" fill="#a6ff59"/><rect x="326.56" y="502.27" width="2.95" height="2.82" fill="#73ff8c"/><rect x="329.02" y="502.27" width="2.95" height="2.82" fill="#4dffb3"/><rect x="331.47" y="502.27" width="2.95" height="2.82" fill="#1affe5"/><rect x="333.93" y="502.27" width="2.95" height="2.82" fill="#00f2ff"/><rect x="336.38" y="502.27" width="2.95" height="2.82" fill="#00d9ff"/><rect x="338.84" y="502.27" width="2.95" height="2.82" fill="#00b3ff"/><rect x="341.29" y="502.27" width="2.95" height="2.82" fill="#0099ff"/><rect x="343.74" y="502.27" width="2.95" height="2.82" fill="#0080ff"/><rect x="346.20" y="502.27" width="2.95" height="2.82" fill="#0066ff"/><rect x="348.65" y="502.27" width="2.95" height="2.82" fill="#004dff"/><rect x="351.11" y="502.27" width="2.95" height="2.82" fill="#0033ff"/><rect x="353.56" y="502.27" width="2.95" height="2.82" fill="#0026ff"/><rect x="356.01" y="502.27" width="2.95" height="2.82" fill="#001aff"/><rect x="358.47" y="502.27" width="10.32" height="2.82" fill="#000dff"/><rect x="368.28" y="502.27" width="2.95" height="2.82" fill="#001aff"/><rect x="370.74" y="502.27" width="2.95" height="2.82" fill="#0033ff"/><rect x="373.19" y="502.27" width="2.95" height="2.82" fill="#0040ff"/><rect x="375.65" y="502.27" width="2.95" height="2.82" fill="#004dff"/><rect x="378.10" y="502.27" width="2.95" height="2.82" fill="#0066ff"/><rect x="380.55" y="502.27" width="2.95" height="2.82" fill="#0073ff"/><rect x="383.01" y="502.27" width="2.95" height="2.82" fill="#0080ff"/><rect x="385.46" y="502.27" width="2.95" height="2.82" fill="#008cff"/><rect x="387.92" y="502.27" width="2.95" height="2.82" fill="#0099ff"/><rect x="390.37" y="502.27" width="2.95" height="2.82" fill="#00a6ff"/><rect x="392.82" y="502.27" width="2.95" height="2.82" fill="#00b3ff"/><rect x="395.28" y="502.27" width="5.41" height="2.82" fill="#00bfff"/><rect x="400.19" y="502.27" width="5.41" height="2.82" fill="#00ccff"/><rect x="405.09" y="502.27" width="2.95" height="2.82" fill="#00d9ff"/><rect x="407.55" y="502.27" width="5.41" height="2.82" fill="#00e5ff"/><rect x="412.46" y="502.27" width="2.95" height="2.82" fill="#00f2ff"/><rect x="414.91" y="502.27" width="5.41" height="2.82" fill="#00ffff"/><rect x="419.82" y="502.27" width="2.95" height="2.82" fill="#0dfff2"/><rect x="422.27" y="502.27" width="5.41" height="2.82" fill="#1affe5"/><rect x="427.18" y="502.27" width="2.95" height="2.82" fill="#26ffd9"/><rect x="429.64" y="502.27" width="7.86" height="2.82" fill="#33ffcc"/><rect x="437.00" y="502.27" width="31.90" height="2.82" fill="#40ffbf"/><rect x="287.30" y="499.95" width="2.95" height="2.82" fill="#ccff33"/><rect x="289.75" y="499.95" width="2.95" height="2.82" fill="#d9ff26"/><rect x="292.21" y="499.95" width="2.95" height="2.82" fill="#e5ff1a"/><rect x="294.66" y="499.95" width="22.59" height="2.82" fill="#fff"/><rect x="316.75" y="499.95" width="2.95" height="2.82" fill="#e5ff1a"/><rect x="319.20" y="499.95" width="2.95" height="2.82" fill="#d9ff26"/><rect x="321.66" y="499.95" width="2.95" height="2.82" fill="#bfff40"/><rect x="324.11" y="499.95" width="2.95" height="2.82" fill="#99ff66"/><rect x="326.56" y="499.95" width="2.95" height="2.82" fill="#73ff8c"/><rect x="329.02" y="499.95" width="2.95" height="2.82" fill="#4dffb3"/><rect x="331.47" y="499.95" width="2.95" height="2.82" fill="#33ffcc"/><rect x="333.93" y="499.95" width="2.95" height="2.82" fill="#0dfff2"/><rect x="336.38" y="499.95" width="2.95" height="2.82" fill="#00e5ff"/><rect x="338.84" y="499.95" width="2.95" height="2.82" fill="#00ccff"/><rect x="341.29" y="499.95" width="2.95" height="2.82" fill="#00b3ff"/><rect x="343.74" y="499.95" width="2.95" height="2.82" fill="#008cff"/><rect x="346.20" y="499.95" width="2.95" height="2.82" fill="#0073ff"/><rect x="348.65" y="499.95" width="2.95" height="2.82" fill="#0059ff"/><rect x="351.11" y="499.95" width="2.95" height="2.82" fill="#004dff"/><rect x="353.56" y="499.95" width="2.95" height="2.82" fill="#0033ff"/><rect x="356.01" y="499.95" width="2.95" height="2.82" fill="#0026ff"/><rect x="358.47" y="499.95" width="10.32" height="2.82" fill="#001aff"/><rect x="368.28" y="499.95" width="2.95" height="2.82" fill="#0026ff"/><rect x="370.74" y="499.95" width="2.95" height="2.82" fill="#0040ff"/><rect x="373.19" y="499.95" width="2.95" height="2.82" fill="#004dff"/><rect x="375.65" y="499.95" width="2.95" height="2.82" fill="#0066ff"/><rect x="378.10" y="499.95" width="2.95" height="2.82" fill="#0073ff"/><rect x="380.55" y="499.95" width="2.95" height="2.82" fill="#0080ff"/><rect x="383.01" y="499.95" width="2.95" height="2.82" fill="#0099ff"/><rect x="385.46" y="499.95" width="2.95" height="2.82" fill="#00a6ff"/><rect x="387.92" y="499.95" width="2.95" height="2.82" fill="#00b3ff"/><rect x="390.37" y="499.95" width="2.95" height="2.82" fill="#00bfff"/><rect x="392.82" y="499.95" width="5.41" height="2.82" fill="#00ccff"/><rect x="397.73" y="499.95" width="5.41" height="2.82" fill="#00d9ff"/><rect x="402.64" y="499.95" width="2.95" height="2.82" fill="#00e5ff"/><rect x="405.09" y="499.95" width="5.41" height="2.82" fill="#00f2ff"/><rect x="410.00" y="499.95" width="2.95" height="2.82" fill="#00ffff"/><rect x="412.46" y="499.95" width="5.41" height="2.82" fill="#0dfff2"/><rect x="417.36" y="499.95" width="2.95" height="2.82" fill="#1affe5"/><rect x="419.82" y="499.95" width="5.41" height="2.82" fill="#26ffd9"/><rect x="424.73" y="499.95" width="5.41" height="2.82" fill="#33ffcc"/><rect x="429.64" y="499.95" width="7.86" height="2.82" fill="#40ffbf"/><rect x="437.00" y="499.95" width="31.90" height="2.82" fill="#4dffb3"/><rect x="287.30" y="497.63" width="2.95" height="2.82" fill="#e5ff1a"/><rect x="289.75" y="497.63" width="7.86" height="2.82" fill="#ffff00"/><rect x="297.12" y="497.63" width="22.59" height="2.82" fill="#fff"/><rect x="319.20" y="497.63" width="2.95" height="2.82" fill="#ccff33"/><rect x="321.66" y="497.63" width="2.95" height="2.82" fill="#b3ff4c"/><rect x="324.11" y="497.63" width="2.95" height="2.82" fill="#99ff66"/><rect x="326.56" y="497.63" width="2.95" height="2.82" fill="#80ff80"/><rect x="329.02" y="497.63" width="2.95" height="2.82" fill="#59ffa6"/><rect x="331.47" y="497.63" width="2.95" height="2.82" fill="#40ffbf"/><rect x="333.93" y="497.63" width="2.95" height="2.82" fill="#26ffd9"/><rect x="336.38" y="497.63" width="2.95" height="2.82" fill="#00ffff"/><rect x="338.84" y="497.63" width="2.95" height="2.82" fill="#00e5ff"/><rect x="341.29" y="497.63" width="2.95" height="2.82" fill="#00ccff"/><rect x="343.74" y="497.63" width="2.95" height="2.82" fill="#00b3ff"/><rect x="346.20" y="497.63" width="2.95" height="2.82" fill="#0099ff"/><rect x="348.65" y="497.63" width="2.95" height="2.82" fill="#0080ff"/><rect x="351.11" y="497.63" width="2.95" height="2.82" fill="#0066ff"/><rect x="353.56" y="497.63" width="2.95" height="2.82" fill="#0059ff"/><rect x="356.01" y="497.63" width="5.41" height="2.82" fill="#0040ff"/><rect x="360.92" y="497.63" width="5.41" height="2.82" fill="#0033ff"/><rect x="365.83" y="497.63" width="2.95" height="2.82" fill="#0040ff"/><rect x="368.28" y="497.63" width="2.95" height="2.82" fill="#004dff"/><rect x="370.74" y="497.63" width="2.95" height="2.82" fill="#0059ff"/><rect x="373.19" y="497.63" width="2.95" height="2.82" fill="#0073ff"/><rect x="375.65" y="497.63" width="2.95" height="2.82" fill="#0080ff"/><rect x="378.10" y="497.63" width="2.95" height="2.82" fill="#008cff"/><rect x="380.55" y="497.63" width="2.95" height="2.82" fill="#00a6ff"/><rect x="383.01" y="497.63" width="2.95" height="2.82" fill="#00b3ff"/><rect x="385.46" y="497.63" width="2.95" height="2.82" fill="#00bfff"/><rect x="387.92" y="497.63" width="2.95" height="2.82" fill="#00ccff"/><rect x="390.37" y="497.63" width="2.95" height="2.82" fill="#00d9ff"/><rect x="392.82" y="497.63" width="5.41" height="2.82" fill="#00e5ff"/><rect x="397.73" y="497.63" width="2.95" height="2.82" fill="#00f2ff"/><rect x="400.19" y="497.63" width="5.41" height="2.82" fill="#00ffff"/><rect x="405.09" y="497.63" width="5.41" height="2.82" fill="#0dfff2"/><rect x="410.00" y="497.63" width="5.41" height="2.82" fill="#1affe5"/><rect x="414.91" y="497.63" width="5.41" height="2.82" fill="#26ffd9"/><rect x="419.82" y="497.63" width="2.95" height="2.82" fill="#33ffcc"/><rect x="422.27" y="497.63" width="7.86" height="2.82" fill="#40ffbf"/><rect x="429.64" y="497.63" width="7.86" height="2.82" fill="#4dffb3"/><rect x="437.00" y="497.63" width="31.90" height="2.82" fill="#59ffa6"/><rect x="287.30" y="495.31" width="2.95" height="2.82" fill="#ffff00"/><rect x="289.75" y="495.31" width="2.95" height="2.82" fill="#fff200"/><rect x="292.21" y="495.31" width="5.41" height="2.82" fill="#ffe500"/><rect x="297.12" y="495.31" width="2.95" height="2.82" fill="#fff200"/><rect x="299.57" y="495.31" width="22.59" height="2.82" fill="#fff"/><rect x="321.66" y="495.31" width="2.95" height="2.82" fill="#a6ff59"/><rect x="324.11" y="495.31" width="2.95" height="2.82" fill="#99ff66"/><rect x="326.56" y="495.31" width="2.95" height="2.82" fill="#80ff80"/><rect x="329.02" y="495.31" width="2.95" height="2.82" fill="#66ff99"/><rect x="331.47" y="495.31" width="2.95" height="2.82" fill="#59ffa6"/><rect x="333.93" y="495.31" width="2.95" height="2.82" fill="#40ffbf"/><rect x="336.38" y="495.31" width="2.95" height="2.82" fill="#26ffd9"/><rect x="338.84" y="495.31" width="2.95" height="2.82" fill="#0dfff2"/><rect x="341.29" y="495.31" width="2.95" height="2.82" fill="#00f2ff"/><rect x="343.74" y="495.31" width="2.95" height="2.82" fill="#00d9ff"/><rect x="346.20" y="495.31" width="2.95" height="2.82" fill="#00bfff"/><rect x="348.65" y="495.31" width="2.95" height="2.82" fill="#00a6ff"/><rect x="351.11" y="495.31" width="2.95" height="2.82" fill="#0099ff"/><rect x="353.56" y="495.31" width="2.95" height="2.82" fill="#0080ff"/><rect x="356.01" y="495.31" width="2.95" height="2.82" fill="#0073ff"/><rect x="358.47" y="495.31" width="7.86" height="2.82" fill="#0066ff"/><rect x="365.83" y="495.31" width="2.95" height="2.82" fill="#0073ff"/><rect x="368.28" y="495.31" width="2.95" height="2.82" fill="#0080ff"/><rect x="370.74" y="495.31" width="2.95" height="2.82" fill="#008cff"/><rect x="373.19" y="495.31" width="2.95" height="2.82" fill="#0099ff"/><rect x="375.65" y="495.31" width="2.95" height="2.82" fill="#00a6ff"/><rect x="378.10" y="495.31" width="2.95" height="2.82" fill="#00b3ff"/><rect x="380.55" y="495.31" width="2.95" height="2.82" fill="#00ccff"/><rect x="383.01" y="495.31" width="2.95" height="2.82" fill="#00d9ff"/><rect x="385.46" y="495.31" width="2.95" height="2.82" fill="#00e5ff"/><rect x="387.92" y="495.31" width="2.95" height="2.82" fill="#00f2ff"/><rect x="390.37" y="495.31" width="5.41" height="2.82" fill="#00ffff"/><rect x="395.28" y="495.31" width="5.41" height="2.82" fill="#0dfff2"/><rect x="400.19" y="495.31" width="5.41" height="2.82" fill="#1affe5"/><rect x="405.09" y="495.31" width="5.41" height="2.82" fill="#26ffd9"/><rect x="410.00" y="495.31" width="5.41" height="2.82" fill="#33ffcc"/><rect x="414.91" y="495.31" width="7.86" height="2.82" fill="#40ffbf"/><rect x="422.27" y="495.31" width="5.41" height="2.82" fill="#4dffb3"/><rect x="427.18" y="495.31" width="10.32" height="2.82" fill="#59ffa6"/><rect x="437.00" y="495.31" width="31.90" height="2.82" fill="#66ff99"/><rect x="287.30" y="492.99" width="2.95" height="2.82" fill="#ffff00"/><rect x="289.75" y="492.99" width="2.95" height="2.82" fill="#ffe500"/><rect x="292.21" y="492.99" width="5.41" height="2.82" fill="#ffd900"/><rect x="297.12" y="492.99" width="2.95" height="2.82" fill="#ffe500"/><rect x="299.57" y="492.99" width="2.95" height="2.82" fill="#ffff00"/><rect x="302.02" y="492.99" width="22.59" height="2.82" fill="#fff"/><rect x="324.11" y="492.99" width="2.95" height="2.82" fill="#99ff66"/><rect x="326.56" y="492.99" width="2.95" height="2.82" fill="#8cff73"/><rect x="329.02" y="492.99" width="2.95" height="2.82" fill="#73ff8c"/><rect x="331.47" y="492.99" width="2.95" height="2.82" fill="#66ff99"/><rect x="333.93" y="492.99" width="2.95" height="2.82" fill="#4dffb3"/><rect x="336.38" y="492.99" width="2.95" height="2.82" fill="#40ffbf"/><rect x="338.84" y="492.99" width="2.95" height="2.82" fill="#26ffd9"/><rect x="341.29" y="492.99" width="2.95" height="2.82" fill="#0dfff2"/><rect x="343.74" y="492.99" width="2.95" height="2.82" fill="#00ffff"/><rect x="346.20" y="492.99" width="2.95" height="2.82" fill="#00e5ff"/><rect x="348.65" y="492.99" width="2.95" height="2.82" fill="#00d9ff"/><rect x="351.11" y="492.99" width="2.95" height="2.82" fill="#00ccff"/><rect x="353.56" y="492.99" width="2.95" height="2.82" fill="#00b3ff"/><rect x="356.01" y="492.99" width="12.77" height="2.82" fill="#00a6ff"/><rect x="368.28" y="492.99" width="2.95" height="2.82" fill="#00b3ff"/><rect x="370.74" y="492.99" width="2.95" height="2.82" fill="#00bfff"/><rect x="373.19" y="492.99" width="2.95" height="2.82" fill="#00ccff"/><rect x="375.65" y="492.99" width="2.95" height="2.82" fill="#00d9ff"/><rect x="378.10" y="492.99" width="2.95" height="2.82" fill="#00e5ff"/><rect x="380.55" y="492.99" width="2.95" height="2.82" fill="#00f2ff"/><rect x="383.01" y="492.99" width="2.95" height="2.82" fill="#00ffff"/><rect x="385.46" y="492.99" width="5.41" height="2.82" fill="#0dfff2"/><rect x="390.37" y="492.99" width="2.95" height="2.82" fill="#1affe5"/><rect x="392.82" y="492.99" width="5.41" height="2.82" fill="#26ffd9"/><rect x="397.73" y="492.99" width="7.86" height="2.82" fill="#33ffcc"/><rect x="405.09" y="492.99" width="7.86" height="2.82" fill="#40ffbf"/><rect x="412.46" y="492.99" width="5.41" height="2.82" fill="#4dffb3"/><rect x="417.36" y="492.99" width="7.86" height="2.82" fill="#59ffa6"/><rect x="424.73" y="492.99" width="10.32" height="2.82" fill="#66ff99"/><rect x="434.54" y="492.99" width="34.36" height="2.82" fill="#73ff8c"/><rect x="287.30" y="490.67" width="2.95" height="2.82" fill="#fff200"/><rect x="289.75" y="490.67" width="2.95" height="2.82" fill="#ffe500"/><rect x="292.21" y="490.67" width="5.41" height="2.82" fill="#ffd900"/><rect x="297.12" y="490.67" width="2.95" height="2.82" fill="#ffe500"/><rect x="299.57" y="490.67" width="2.95" height="2.82" fill="#ffff00"/><rect x="302.02" y="490.67" width="2.95" height="2.82" fill="#e5ff1a"/><rect x="304.48" y="490.67" width="22.59" height="2.82" fill="#fff"/><rect x="326.56" y="490.67" width="2.95" height="2.82" fill="#8cff73"/><rect x="329.02" y="490.67" width="2.95" height="2.82" fill="#80ff80"/><rect x="331.47" y="490.67" width="2.95" height="2.82" fill="#73ff8c"/><rect x="333.93" y="490.67" width="2.95" height="2.82" fill="#66ff99"/><rect x="336.38" y="490.67" width="2.95" height="2.82" fill="#4dffb3"/><rect x="338.84" y="490.67" width="2.95" height="2.82" fill="#40ffbf"/><rect x="341.29" y="490.67" width="2.95" height="2.82" fill="#26ffd9"/><rect x="343.74" y="490.67" width="2.95" height="2.82" fill="#1affe5"/><rect x="346.20" y="490.67" width="2.95" height="2.82" fill="#0dfff2"/><rect x="348.65" y="490.67" width="2.95" height="2.82" fill="#00ffff"/><rect x="351.11" y="490.67" width="5.41" height="2.82" fill="#00f2ff"/><rect x="356.01" y="490.67" width="2.95" height="2.82" fill="#00e5ff"/><rect x="358.47" y="490.67" width="7.86" height="2.82" fill="#00d9ff"/><rect x="365.83" y="490.67" width="5.41" height="2.82" fill="#00e5ff"/><rect x="370.74" y="490.67" width="2.95" height="2.82" fill="#00f2ff"/><rect x="373.19" y="490.67" width="2.95" height="2.82" fill="#00ffff"/><rect x="375.65" y="490.67" width="5.41" height="2.82" fill="#0dfff2"/><rect x="380.55" y="490.67" width="2.95" height="2.82" fill="#1affe5"/><rect x="383.01" y="490.67" width="2.95" height="2.82" fill="#26ffd9"/><rect x="385.46" y="490.67" width="5.41" height="2.82" fill="#33ffcc"/><rect x="390.37" y="490.67" width="5.41" height="2.82" fill="#40ffbf"/><rect x="395.28" y="490.67" width="10.32" height="2.82" fill="#4dffb3"/><rect x="405.09" y="490.67" width="7.86" height="2.82" fill="#59ffa6"/><rect x="412.46" y="490.67" width="10.32" height="2.82" fill="#66ff99"/><rect x="422.27" y="490.67" width="10.32" height="2.82" fill="#73ff8c"/><rect x="432.09" y="490.67" width="36.81" height="2.82" fill="#80ff80"/><rect x="287.30" y="488.35" width="2.95" height="2.82" fill="#ffff00"/><rect x="289.75" y="488.35" width="2.95" height="2.82" fill="#fff200"/><rect x="292.21" y="488.35" width="5.41" height="2.82" fill="#ffe500"/><rect x="297.12" y="488.35" width="2.95" height="2.82" fill="#fff200"/><rect x="299.57" y="488.35" width="2.95" height="2.82" fill="#f2ff0d"/><rect x="302.02" y="488.35" width="2.95" height="2.82" fill="#d9ff26"/><rect x="304.48" y="488.35" width="2.95" height="2.82" fill="#ccff33"/><rect x="306.93" y="488.35" width="22.59" height="2.82" fill="#fff"/><rect x="329.02" y="488.35" width="2.95" height="2.82" fill="#8cff73"/><rect x="331.47" y="488.35" width="2.95" height="2.82" fill="#80ff80"/><rect x="333.93" y="488.35" width="2.95" height="2.82" fill="#73ff8c"/><rect x="336.38" y="488.35" width="2.95" height="2.82" fill="#59ffa6"/><rect x="338.84" y="488.35" width="2.95" height="2.82" fill="#4dffb3"/><rect x="341.29" y="488.35" width="7.86" height="2.82" fill="#33ffcc"/><rect x="348.65" y="488.35" width="7.86" height="2.82" fill="#26ffd9"/><rect x="356.01" y="488.35" width="15.22" height="2.82" fill="#1affe5"/><rect x="370.74" y="488.35" width="2.95" height="2.82" fill="#26ffd9"/><rect x="373.19" y="488.35" width="5.41" height="2.82" fill="#33ffcc"/><rect x="378.10" y="488.35" width="5.41" height="2.82" fill="#40ffbf"/><rect x="383.01" y="488.35" width="5.41" height="2.82" fill="#4dffb3"/><rect x="387.92" y="488.35" width="7.86" height="2.82" fill="#59ffa6"/><rect x="395.28" y="488.35" width="12.77" height="2.82" fill="#66ff99"/><rect x="407.55" y="488.35" width="12.77" height="2.82" fill="#73ff8c"/><rect x="419.82" y="488.35" width="15.22" height="2.82" fill="#80ff80"/><rect x="434.54" y="488.35" width="34.36" height="2.82" fill="#8cff73"/><rect x="287.30" y="486.04" width="2.95" height="2.82" fill="#e5ff1a"/><rect x="289.75" y="486.04" width="2.95" height="2.82" fill="#f2ff0d"/><rect x="292.21" y="486.04" width="5.41" height="2.82" fill="#ffff00"/><rect x="297.12" y="486.04" width="2.95" height="2.82" fill="#f2ff0d"/><rect x="299.57" y="486.04" width="2.95" height="2.82" fill="#d9ff26"/><rect x="302.02" y="486.04" width="2.95" height="2.82" fill="#ccff33"/><rect x="304.48" y="486.04" width="2.95" height="2.82" fill="#bfff40"/><rect x="306.93" y="486.04" width="2.95" height="2.82" fill="#b3ff4c"/><rect x="309.39" y="486.04" width="22.59" height="2.82" fill="#fff"/><rect x="331.47" y="486.04" width="2.95" height="2.82" fill="#8cff73"/><rect x="333.93" y="486.04" width="2.95" height="2.82" fill="#80ff80"/><rect x="336.38" y="486.04" width="2.95" height="2.82" fill="#66ff99"/><rect x="338.84" y="486.04" width="2.95" height="2.82" fill="#4dffb3"/><rect x="341.29" y="486.04" width="7.86" height="2.82" fill="#40ffbf"/><rect x="348.65" y="486.04" width="10.32" height="2.82" fill="#4dffb3"/><rect x="358.47" y="486.04" width="5.41" height="2.82" fill="#40ffbf"/><rect x="363.38" y="486.04" width="10.32" height="2.82" fill="#4dffb3"/><rect x="373.19" y="486.04" width="5.41" height="2.82" fill="#59ffa6"/><rect x="378.10" y="486.04" width="5.41" height="2.82" fill="#66ff99"/><rect x="383.01" y="486.04" width="12.77" height="2.82" fill="#73ff8c"/><rect x="395.28" y="486.04" width="20.13" height="2.82" fill="#80ff80"/><rect x="414.91" y="486.04" width="27.49" height="2.82" fill="#8cff73"/><rect x="441.91" y="486.04" width="20.13" height="2.82" fill="#99ff66"/><rect x="461.54" y="486.04" width="7.36" height="2.82" fill="#8cff73"/><rect x="287.30" y="483.72" width="2.95" height="2.82" fill="#ccff33"/><rect x="289.75" y="483.72" width="5.41" height="2.82" fill="#d9ff26"/><rect x="294.66" y="483.72" width="5.41" height="2.82" fill="#ccff33"/><rect x="299.57" y="483.72" width="2.95" height="2.82" fill="#bfff40"/><rect x="302.02" y="483.72" width="2.95" height="2.82" fill="#b3ff4c"/><rect x="304.48" y="483.72" width="2.95" height="2.82" fill="#a6ff59"/><rect x="306.93" y="483.72" width="5.41" height="2.82" fill="#99ff66"/><rect x="311.84" y="483.72" width="22.59" height="2.82" fill="#fff"/><rect x="333.93" y="483.72" width="2.95" height="2.82" fill="#80ff80"/><rect x="336.38" y="483.72" width="2.95" height="2.82" fill="#66ff99"/><rect x="338.84" y="483.72" width="2.95" height="2.82" fill="#4dffb3"/><rect x="341.29" y="483.72" width="5.41" height="2.82" fill="#40ffbf"/><rect x="346.20" y="483.72" width="2.95" height="2.82" fill="#4dffb3"/><rect x="348.65" y="483.72" width="5.41" height="2.82" fill="#66ff99"/><rect x="353.56" y="483.72" width="5.41" height="2.82" fill="#73ff8c"/><rect x="358.47" y="483.72" width="2.95" height="2.82" fill="#66ff99"/><rect x="360.92" y="483.72" width="12.77" height="2.82" fill="#73ff8c"/><rect x="373.19" y="483.72" width="7.86" height="2.82" fill="#80ff80"/><rect x="380.55" y="483.72" width="29.95" height="2.82" fill="#8cff73"/><rect x="410.00" y="483.72" width="58.90" height="2.82" fill="#99ff66"/><rect x="287.30" y="481.40" width="7.86" height="2.82" fill="#b3ff4c"/><rect x="294.66" y="481.40" width="2.95" height="2.82" fill="#a6ff59"/><rect x="297.12" y="481.40" width="2.95" height="2.82" fill="#99ff66"/><rect x="299.57" y="481.40" width="15.22" height="2.82" fill="#8cff73"/><rect x="314.29" y="481.40" width="22.59" height="2.82" fill="#fff"/><rect x="336.38" y="481.40" width="2.95" height="2.82" fill="#73ff8c"/><rect x="338.84" y="481.40" width="2.95" height="2.82" fill="#59ffa6"/><rect x="341.29" y="481.40" width="2.95" height="2.82" fill="#4dffb3"/><rect x="343.74" y="481.40" width="2.95" height="2.82" fill="#59ffa6"/><rect x="346.20" y="481.40" width="2.95" height="2.82" fill="#66ff99"/><rect x="348.65" y="481.40" width="2.95" height="2.82" fill="#73ff8c"/><rect x="351.11" y="481.40" width="2.95" height="2.82" fill="#80ff80"/><rect x="353.56" y="481.40" width="15.22" height="2.82" fill="#8cff73"/><rect x="368.28" y="481.40" width="12.77" height="2.82" fill="#99ff66"/><rect x="380.55" y="481.40" width="88.35" height="2.82" fill="#a6ff59"/><rect x="287.30" y="479.08" width="2.95" height="2.82" fill="#99ff66"/><rect x="289.75" y="479.08" width="2.95" height="2.82" fill="#8cff73"/><rect x="292.21" y="479.08" width="2.95" height="2.82" fill="#80ff80"/><rect x="294.66" y="479.08" width="5.41" height="2.82" fill="#73ff8c"/><rect x="299.57" y="479.08" width="7.86" height="2.82" fill="#66ff99"/><rect x="306.93" y="479.08" width="2.95" height="2.82" fill="#73ff8c"/><rect x="309.39" y="479.08" width="5.41" height="2.82" fill="#80ff80"/><rect x="314.29" y="479.08" width="2.95" height="2.82" fill="#8cff73"/><rect x="316.75" y="479.08" width="22.59" height="2.82" fill="#fff"/><rect x="338.84" y="479.08" width="2.95" height="2.82" fill="#73ff8c"/><rect x="341.29" y="479.08" width="2.95" height="2.82" fill="#66ff99"/><rect x="343.74" y="479.08" width="2.95" height="2.82" fill="#73ff8c"/><rect x="346.20" y="479.08" width="2.95" height="2.82" fill="#80ff80"/><rect x="348.65" y="479.08" width="2.95" height="2.82" fill="#8cff73"/><rect x="351.11" y="479.08" width="7.86" height="2.82" fill="#99ff66"/><rect x="358.47" y="479.08" width="10.32" height="2.82" fill="#a6ff59"/><rect x="368.28" y="479.08" width="39.76" height="2.82" fill="#b3ff4c"/><rect x="407.55" y="479.08" width="61.35" height="2.82" fill="#a6ff59"/><rect x="287.30" y="476.76" width="2.95" height="2.82" fill="#73ff8c"/><rect x="289.75" y="476.76" width="2.95" height="2.82" fill="#66ff99"/><rect x="292.21" y="476.76" width="2.95" height="2.82" fill="#59ffa6"/><rect x="294.66" y="476.76" width="2.95" height="2.82" fill="#4dffb3"/><rect x="297.12" y="476.76" width="7.86" height="2.82" fill="#40ffbf"/><rect x="304.48" y="476.76" width="2.95" height="2.82" fill="#4dffb3"/><rect x="306.93" y="476.76" width="2.95" height="2.82" fill="#59ffa6"/><rect x="309.39" y="476.76" width="2.95" height="2.82" fill="#66ff99"/><rect x="311.84" y="476.76" width="2.95" height="2.82" fill="#73ff8c"/><rect x="314.29" y="476.76" width="2.95" height="2.82" fill="#80ff80"/><rect x="316.75" y="476.76" width="2.95" height="2.82" fill="#8cff73"/><rect x="319.20" y="476.76" width="22.59" height="2.82" fill="#fff"/><rect x="341.29" y="476.76" width="5.41" height="2.82" fill="#8cff73"/><rect x="346.20" y="476.76" width="5.41" height="2.82" fill="#99ff66"/><rect x="351.11" y="476.76" width="5.41" height="2.82" fill="#a6ff59"/><rect x="356.01" y="476.76" width="5.41" height="2.82" fill="#b3ff4c"/><rect x="360.92" y="476.76" width="7.86" height="2.82" fill="#bfff40"/><rect x="368.28" y="476.76" width="27.49" height="2.82" fill="#ccff33"/><rect x="395.28" y="476.76" width="10.32" height="2.82" fill="#bfff40"/><rect x="405.09" y="476.76" width="37.31" height="2.82" fill="#b3ff4c"/><rect x="441.91" y="476.76" width="26.99" height="2.82" fill="#a6ff59"/><rect x="287.30" y="474.44" width="2.95" height="2.82" fill="#66ff99"/><rect x="289.75" y="474.44" width="2.95" height="2.82" fill="#4dffb3"/><rect x="292.21" y="474.44" width="2.95" height="2.82" fill="#33ffcc"/><rect x="294.66" y="474.44" width="5.41" height="2.82" fill="#1affe5"/><rect x="299.57" y="474.44" width="2.95" height="2.82" fill="#0dfff2"/><rect x="302.02" y="474.44" width="2.95" height="2.82" fill="#1affe5"/><rect x="304.48" y="474.44" width="2.95" height="2.82" fill="#26ffd9"/><rect x="306.93" y="474.44" width="2.95" height="2.82" fill="#40ffbf"/><rect x="309.39" y="474.44" width="2.95" height="2.82" fill="#4dffb3"/><rect x="311.84" y="474.44" width="2.95" height="2.82" fill="#66ff99"/><rect x="314.29" y="474.44" width="2.95" height="2.82" fill="#73ff8c"/><rect x="316.75" y="474.44" width="2.95" height="2.82" fill="#80ff80"/><rect x="319.20" y="474.44" width="2.95" height="2.82" fill="#8cff73"/><rect x="321.66" y="474.44" width="22.59" height="2.82" fill="#fff"/><rect x="343.74" y="474.44" width="2.95" height="2.82" fill="#99ff66"/><rect x="346.20" y="474.44" width="5.41" height="2.82" fill="#a6ff59"/><rect x="351.11" y="474.44" width="5.41" height="2.82" fill="#b3ff4c"/><rect x="356.01" y="474.44" width="2.95" height="2.82" fill="#bfff40"/><rect x="358.47" y="474.44" width="5.41" height="2.82" fill="#ccff33"/><rect x="363.38" y="474.44" width="5.41" height="2.82" fill="#d9ff26"/><rect x="368.28" y="474.44" width="25.04" height="2.82" fill="#e5ff1a"/><rect x="392.82" y="474.44" width="5.41" height="2.82" fill="#d9ff26"/><rect x="397.73" y="474.44" width="5.41" height="2.82" fill="#ccff33"/><rect x="402.64" y="474.44" width="15.22" height="2.82" fill="#bfff40"/><rect x="417.36" y="474.44" width="39.76" height="2.82" fill="#b3ff4c"/><rect x="456.63" y="474.44" width="12.27" height="2.82" fill="#a6ff59"/><rect x="287.30" y="472.12" width="2.95" height="2.82" fill="#4dffb3"/><rect x="289.75" y="472.12" width="2.95" height="2.82" fill="#33ffcc"/><rect x="292.21" y="472.12" width="2.95" height="2.82" fill="#0dfff2"/><rect x="294.66" y="472.12" width="2.95" height="2.82" fill="#00ffff"/><rect x="297.12" y="472.12" width="2.95" height="2.82" fill="#00f2ff"/><rect x="299.57" y="472.12" width="2.95" height="2.82" fill="#00e5ff"/><rect x="302.02" y="472.12" width="2.95" height="2.82" fill="#00f2ff"/><rect x="304.48" y="472.12" width="2.95" height="2.82" fill="#0dfff2"/><rect x="306.93" y="472.12" width="2.95" height="2.82" fill="#1affe5"/><rect x="309.39" y="472.12" width="2.95" height="2.82" fill="#40ffbf"/><rect x="311.84" y="472.12" width="2.95" height="2.82" fill="#4dffb3"/><rect x="314.29" y="472.12" width="2.95" height="2.82" fill="#66ff99"/><rect x="316.75" y="472.12" width="2.95" height="2.82" fill="#73ff8c"/><rect x="319.20" y="472.12" width="5.41" height="2.82" fill="#80ff80"/><rect x="324.11" y="472.12" width="22.59" height="2.82" fill="#fff"/><rect x="346.20" y="472.12" width="5.41" height="2.82" fill="#b3ff4c"/><rect x="351.11" y="472.12" width="5.41" height="2.82" fill="#bfff40"/><rect x="356.01" y="472.12" width="2.95" height="2.82" fill="#ccff33"/><rect x="358.47" y="472.12" width="2.95" height="2.82" fill="#d9ff26"/><rect x="360.92" y="472.12" width="2.95" height="2.82" fill="#e5ff1a"/><rect x="363.38" y="472.12" width="5.41" height="2.82" fill="#f2ff0d"/><rect x="368.28" y="472.12" width="25.04" height="2.82" fill="#ffff00"/><rect x="392.82" y="472.12" width="2.95" height="2.82" fill="#f2ff0d"/><rect x="395.28" y="472.12" width="2.95" height="2.82" fill="#e5ff1a"/><rect x="397.73" y="472.12" width="5.41" height="2.82" fill="#d9ff26"/><rect x="402.64" y="472.12" width="5.41" height="2.82" fill="#ccff33"/><rect x="407.55" y="472.12" width="22.59" height="2.82" fill="#bfff40"/><rect x="429.64" y="472.12" width="37.31" height="2.82" fill="#b3ff4c"/><rect x="466.45" y="472.12" width="2.45" height="2.82" fill="#a6ff59"/><rect x="287.30" y="469.80" width="2.95" height="2.82" fill="#40ffbf"/><rect x="289.75" y="469.80" width="2.95" height="2.82" fill="#1affe5"/><rect x="292.21" y="469.80" width="2.95" height="2.82" fill="#00f2ff"/><rect x="294.66" y="469.80" width="2.95" height="2.82" fill="#00d9ff"/><rect x="297.12" y="469.80" width="5.41" height="2.82" fill="#00ccff"/><rect x="302.02" y="469.80" width="2.95" height="2.82" fill="#00d9ff"/><rect x="304.48" y="469.80" width="2.95" height="2.82" fill="#00e5ff"/><rect x="306.93" y="469.80" width="2.95" height="2.82" fill="#00ffff"/><rect x="309.39" y="469.80" width="2.95" height="2.82" fill="#26ffd9"/><rect x="311.84" y="469.80" width="2.95" height="2.82" fill="#40ffbf"/><rect x="314.29" y="469.80" width="2.95" height="2.82" fill="#4dffb3"/><rect x="316.75" y="469.80" width="2.95" height="2.82" fill="#59ffa6"/><rect x="319.20" y="469.80" width="5.41" height="2.82" fill="#66ff99"/><rect x="324.11" y="469.80" width="2.95" height="2.82" fill="#73ff8c"/><rect x="326.56" y="469.80" width="22.59" height="2.82" fill="#fff"/><rect x="348.65" y="469.80" width="2.95" height="2.82" fill="#b3ff4c"/><rect x="351.11" y="469.80" width="2.95" height="2.82" fill="#bfff40"/><rect x="353.56" y="469.80" width="2.95" height="2.82" fill="#ccff33"/><rect x="356.01" y="469.80" width="2.95" height="2.82" fill="#d9ff26"/><rect x="358.47" y="469.80" width="2.95" height="2.82" fill="#e5ff1a"/><rect x="360.92" y="469.80" width="2.95" height="2.82" fill="#f2ff0d"/><rect x="363.38" y="469.80" width="2.95" height="2.82" fill="#ffff00"/><rect x="365.83" y="469.80" width="2.95" height="2.82" fill="#fff200"/><rect x="368.28" y="469.80" width="22.59" height="2.82" fill="#ffe500"/><rect x="390.37" y="469.80" width="5.41" height="2.82" fill="#fff200"/><rect x="395.28" y="469.80" width="2.95" height="2.82" fill="#f2ff0d"/><rect x="397.73" y="469.80" width="2.95" height="2.82" fill="#e5ff1a"/><rect x="400.19" y="469.80" width="5.41" height="2.82" fill="#d9ff26"/><rect x="405.09" y="469.80" width="10.32" height="2.82" fill="#ccff33"/><rect x="414.91" y="469.80" width="22.59" height="2.82" fill="#bfff40"/><rect x="437.00" y="469.80" width="31.90" height="2.82" fill="#b3ff4c"/><rect x="287.30" y="467.48" width="2.95" height="2.82" fill="#33ffcc"/><rect x="289.75" y="467.48" width="2.95" height="2.82" fill="#0dfff2"/><rect x="292.21" y="467.48" width="2.95" height="2.82" fill="#00e5ff"/><rect x="294.66" y="467.48" width="2.95" height="2.82" fill="#00bfff"/><rect x="297.12" y="467.48" width="7.86" height="2.82" fill="#00b3ff"/><rect x="304.48" y="467.48" width="2.95" height="2.82" fill="#00ccff"/><rect x="306.93" y="467.48" width="2.95" height="2.82" fill="#00e5ff"/><rect x="309.39" y="467.48" width="2.95" height="2.82" fill="#0dfff2"/><rect x="311.84" y="467.48" width="2.95" height="2.82" fill="#26ffd9"/><rect x="314.29" y="467.48" width="2.95" height="2.82" fill="#40ffbf"/><rect x="316.75" y="467.48" width="7.86" height="2.82" fill="#4dffb3"/><rect x="324.11" y="467.48" width="2.95" height="2.82" fill="#59ffa6"/><rect x="326.56" y="467.48" width="2.95" height="2.82" fill="#73ff8c"/><rect x="329.02" y="467.48" width="22.59" height="2.82" fill="#fff"/><rect x="351.11" y="467.48" width="2.95" height="2.82" fill="#bfff40"/><rect x="353.56" y="467.48" width="2.95" height="2.82" fill="#ccff33"/><rect x="356.01" y="467.48" width="2.95" height="2.82" fill="#d9ff26"/><rect x="358.47" y="467.48" width="2.95" height="2.82" fill="#f2ff0d"/><rect x="360.92" y="467.48" width="2.95" height="2.82" fill="#ffff00"/><rect x="363.38" y="467.48" width="2.95" height="2.82" fill="#ffe500"/><rect x="365.83" y="467.48" width="15.22" height="2.82" fill="#ffd900"/><rect x="380.55" y="467.48" width="10.32" height="2.82" fill="#ffcc00"/><rect x="390.37" y="467.48" width="2.95" height="2.82" fill="#ffd900"/><rect x="392.82" y="467.48" width="2.95" height="2.82" fill="#ffe500"/><rect x="395.28" y="467.48" width="2.95" height="2.82" fill="#ffff00"/><rect x="397.73" y="467.48" width="2.95" height="2.82" fill="#f2ff0d"/><rect x="400.19" y="467.48" width="2.95" height="2.82" fill="#e5ff1a"/><rect x="402.64" y="467.48" width="5.41" height="2.82" fill="#d9ff26"/><rect x="407.55" y="467.48" width="15.22" height="2.82" fill="#ccff33"/><rect x="422.27" y="467.48" width="20.13" height="2.82" fill="#bfff40"/><rect x="441.91" y="467.48" width="26.99" height="2.82" fill="#b3ff4c"/><rect x="287.30" y="465.16" width="2.95" height="2.82" fill="#26ffd9"/><rect x="289.75" y="465.16" width="2.95" height="2.82" fill="#00ffff"/><rect x="292.21" y="465.16" width="2.95" height="2.82" fill="#00d9ff"/><rect x="294.66" y="465.16" width="2.95" height="2.82" fill="#00b3ff"/><rect x="297.12" y="465.16" width="2.95" height="2.82" fill="#0099ff"/><rect x="299.57" y="465.16" width="2.95" height="2.82" fill="#008cff"/><rect x="302.02" y="465.16" width="2.95" height="2.82" fill="#0099ff"/><rect x="304.48" y="465.16" width="2.95" height="2.82" fill="#00b3ff"/><rect x="306.93" y="465.16" width="2.95" height="2.82" fill="#00ccff"/><rect x="309.39" y="465.16" width="2.95" height="2.82" fill="#00f2ff"/><rect x="311.84" y="465.16" width="2.95" height="2.82" fill="#0dfff2"/><rect x="314.29" y="465.16" width="2.95" height="2.82" fill="#26ffd9"/><rect x="316.75" y="465.16" width="2.95" height="2.82" fill="#33ffcc"/><rect x="319.20" y="465.16" width="5.41" height="2.82" fill="#40ffbf"/><rect x="324.11" y="465.16" width="2.95" height="2.82" fill="#4dffb3"/><rect x="326.56" y="465.16" width="2.95" height="2.82" fill="#66ff99"/><rect x="329.02" y="465.16" width="2.95" height="2.82" fill="#8cff73"/><rect x="331.47" y="465.16" width="22.59" height="2.82" fill="#fff"/><rect x="353.56" y="465.16" width="2.95" height="2.82" fill="#ccff33"/><rect x="356.01" y="465.16" width="2.95" height="2.82" fill="#e5ff1a"/><rect x="358.47" y="465.16" width="2.95" height="2.82" fill="#f2ff0d"/><rect x="360.92" y="465.16" width="2.95" height="2.82" fill="#fff200"/><rect x="363.38" y="465.16" width="5.41" height="2.82" fill="#ffd900"/><rect x="368.28" y="465.16" width="12.77" height="2.82" fill="#ffcc00"/><rect x="380.55" y="465.16" width="10.32" height="2.82" fill="#ffbf00"/><rect x="390.37" y="465.16" width="2.95" height="2.82" fill="#ffcc00"/><rect x="392.82" y="465.16" width="2.95" height="2.82" fill="#ffd900"/><rect x="395.28" y="465.16" width="2.95" height="2.82" fill="#fff200"/><rect x="397.73" y="465.16" width="2.95" height="2.82" fill="#ffff00"/><rect x="400.19" y="465.16" width="2.95" height="2.82" fill="#f2ff0d"/><rect x="402.64" y="465.16" width="2.95" height="2.82" fill="#e5ff1a"/><rect x="405.09" y="465.16" width="7.86" height="2.82" fill="#d9ff26"/><rect x="412.46" y="465.16" width="15.22" height="2.82" fill="#ccff33"/><rect x="427.18" y="465.16" width="20.13" height="2.82" fill="#bfff40"/><rect x="446.81" y="465.16" width="22.09" height="2.82" fill="#b3ff4c"/><rect x="287.30" y="462.85" width="2.95" height="2.82" fill="#26ffd9"/><rect x="289.75" y="462.85" width="2.95" height="2.82" fill="#00f2ff"/><rect x="292.21" y="462.85" width="2.95" height="2.82" fill="#00ccff"/><rect x="294.66" y="462.85" width="2.95" height="2.82" fill="#00a6ff"/><rect x="297.12" y="462.85" width="2.95" height="2.82" fill="#008cff"/><rect x="299.57" y="462.85" width="5.41" height="2.82" fill="#0080ff"/><rect x="304.48" y="462.85" width="2.95" height="2.82" fill="#008cff"/><rect x="306.93" y="462.85" width="2.95" height="2.82" fill="#00b3ff"/><rect x="309.39" y="462.85" width="2.95" height="2.82" fill="#00d9ff"/><rect x="311.84" y="462.85" width="2.95" height="2.82" fill="#00ffff"/><rect x="314.29" y="462.85" width="2.95" height="2.82" fill="#1affe5"/><rect x="316.75" y="462.85" width="2.95" height="2.82" fill="#33ffcc"/><rect x="319.20" y="462.85" width="5.41" height="2.82" fill="#40ffbf"/><rect x="324.11" y="462.85" width="2.95" height="2.82" fill="#59ffa6"/><rect x="326.56" y="462.85" width="2.95" height="2.82" fill="#73ff8c"/><rect x="329.02" y="462.85" width="2.95" height="2.82" fill="#8cff73"/><rect x="331.47" y="462.85" width="2.95" height="2.82" fill="#99ff66"/><rect x="333.93" y="462.85" width="22.59" height="2.82" fill="#fff"/><rect x="356.01" y="462.85" width="2.95" height="2.82" fill="#e5ff1a"/><rect x="358.47" y="462.85" width="2.95" height="2.82" fill="#ffff00"/><rect x="360.92" y="462.85" width="2.95" height="2.82" fill="#fff200"/><rect x="363.38" y="462.85" width="2.95" height="2.82" fill="#ffd900"/><rect x="365.83" y="462.85" width="5.41" height="2.82" fill="#ffcc00"/><rect x="370.74" y="462.85" width="12.77" height="2.82" fill="#ffbf00"/><rect x="383.01" y="462.85" width="7.86" height="2.82" fill="#ffb300"/><rect x="390.37" y="462.85" width="2.95" height="2.82" fill="#ffbf00"/><rect x="392.82" y="462.85" width="2.95" height="2.82" fill="#ffcc00"/><rect x="395.28" y="462.85" width="2.95" height="2.82" fill="#ffe500"/><rect x="397.73" y="462.85" width="2.95" height="2.82" fill="#ffff00"/><rect x="400.19" y="462.85" width="2.95" height="2.82" fill="#f2ff0d"/><rect x="402.64" y="462.85" width="5.41" height="2.82" fill="#e5ff1a"/><rect x="407.55" y="462.85" width="10.32" height="2.82" fill="#d9ff26"/><rect x="417.36" y="462.85" width="15.22" height="2.82" fill="#ccff33"/><rect x="432.09" y="462.85" width="17.68" height="2.82" fill="#bfff40"/><rect x="449.27" y="462.85" width="19.63" height="2.82" fill="#b3ff4c"/><rect x="287.30" y="460.53" width="2.95" height="2.82" fill="#1affe5"/><rect x="289.75" y="460.53" width="2.95" height="2.82" fill="#00f2ff"/><rect x="292.21" y="460.53" width="2.95" height="2.82" fill="#00bfff"/><rect x="294.66" y="460.53" width="2.95" height="2.82" fill="#0099ff"/><rect x="297.12" y="460.53" width="2.95" height="2.82" fill="#0073ff"/><rect x="299.57" y="460.53" width="5.41" height="2.82" fill="#0066ff"/><rect x="304.48" y="460.53" width="2.95" height="2.82" fill="#0073ff"/><rect x="306.93" y="460.53" width="2.95" height="2.82" fill="#0099ff"/><rect x="309.39" y="460.53" width="2.95" height="2.82" fill="#00bfff"/><rect x="311.84" y="460.53" width="2.95" height="2.82" fill="#00e5ff"/><rect x="314.29" y="460.53" width="2.95" height="2.82" fill="#0dfff2"/><rect x="316.75" y="460.53" width="2.95" height="2.82" fill="#33ffcc"/><rect x="319.20" y="460.53" width="2.95" height="2.82" fill="#40ffbf"/><rect x="321.66" y="460.53" width="2.95" height="2.82" fill="#4dffb3"/><rect x="324.11" y="460.53" width="2.95" height="2.82" fill="#66ff99"/><rect x="326.56" y="460.53" width="2.95" height="2.82" fill="#80ff80"/><rect x="329.02" y="460.53" width="2.95" height="2.82" fill="#99ff66"/><rect x="331.47" y="460.53" width="2.95" height="2.82" fill="#a6ff59"/><rect x="333.93" y="460.53" width="2.95" height="2.82" fill="#b3ff4c"/><rect x="336.38" y="460.53" width="22.59" height="2.82" fill="#fff"/><rect x="358.47" y="460.53" width="2.95" height="2.82" fill="#f2ff0d"/><rect x="360.92" y="460.53" width="2.95" height="2.82" fill="#fff200"/><rect x="363.38" y="460.53" width="2.95" height="2.82" fill="#ffd900"/><rect x="365.83" y="460.53" width="5.41" height="2.82" fill="#ffcc00"/><rect x="370.74" y="460.53" width="10.32" height="2.82" fill="#ffbf00"/><rect x="380.55" y="460.53" width="10.32" height="2.82" fill="#ffb300"/><rect x="390.37" y="460.53" width="2.95" height="2.82" fill="#ffbf00"/><rect x="392.82" y="460.53" width="2.95" height="2.82" fill="#ffcc00"/><rect x="395.28" y="460.53" width="2.95" height="2.82" fill="#ffe500"/><rect x="397.73" y="460.53" width="2.95" height="2.82" fill="#fff200"/><rect x="400.19" y="460.53" width="2.95" height="2.82" fill="#f2ff0d"/><rect x="402.64" y="460.53" width="5.41" height="2.82" fill="#e5ff1a"/><rect x="407.55" y="460.53" width="12.77" height="2.82" fill="#d9ff26"/><rect x="419.82" y="460.53" width="15.22" height="2.82" fill="#ccff33"/><rect x="434.54" y="460.53" width="17.68" height="2.82" fill="#bfff40"/><rect x="451.72" y="460.53" width="17.18" height="2.82" fill="#b3ff4c"/><rect x="287.30" y="458.21" width="2.95" height="2.82" fill="#1affe5"/><rect x="289.75" y="458.21" width="2.95" height="2.82" fill="#00e5ff"/><rect x="292.21" y="458.21" width="2.95" height="2.82" fill="#00b3ff"/><rect x="294.66" y="458.21" width="2.95" height="2.82" fill="#008cff"/><rect x="297.12" y="458.21" width="2.95" height="2.82" fill="#0066ff"/><rect x="299.57" y="458.21" width="5.41" height="2.82" fill="#004dff"/><rect x="304.48" y="458.21" width="2.95" height="2.82" fill="#0059ff"/><rect x="306.93" y="458.21" width="2.95" height="2.82" fill="#0080ff"/><rect x="309.39" y="458.21" width="2.95" height="2.82" fill="#00a6ff"/><rect x="311.84" y="458.21" width="2.95" height="2.82" fill="#00d9ff"/><rect x="314.29" y="458.21" width="2.95" height="2.82" fill="#00ffff"/><rect x="316.75" y="458.21" width="2.95" height="2.82" fill="#26ffd9"/><rect x="319.20" y="458.21" width="2.95" height="2.82" fill="#4dffb3"/><rect x="321.66" y="458.21" width="2.95" height="2.82" fill="#66ff99"/><rect x="324.11" y="458.21" width="2.95" height="2.82" fill="#73ff8c"/><rect x="326.56" y="458.21" width="2.95" height="2.82" fill="#8cff73"/><rect x="329.02" y="458.21" width="2.95" height="2.82" fill="#99ff66"/><rect x="331.47" y="458.21" width="2.95" height="2.82" fill="#a6ff59"/><rect x="333.93" y="458.21" width="5.41" height="2.82" fill="#b3ff4c"/><rect x="338.84" y="458.21" width="22.59" height="2.82" fill="#fff"/><rect x="360.92" y="458.21" width="2.95" height="2.82" fill="#fff200"/><rect x="363.38" y="458.21" width="2.95" height="2.82" fill="#ffe500"/><rect x="365.83" y="458.21" width="2.95" height="2.82" fill="#ffd900"/><rect x="368.28" y="458.21" width="2.95" height="2.82" fill="#ffcc00"/><rect x="370.74" y="458.21" width="10.32" height="2.82" fill="#ffbf00"/><rect x="380.55" y="458.21" width="10.32" height="2.82" fill="#ffb300"/><rect x="390.37" y="458.21" width="2.95" height="2.82" fill="#ffbf00"/><rect x="392.82" y="458.21" width="2.95" height="2.82" fill="#ffcc00"/><rect x="395.28" y="458.21" width="2.95" height="2.82" fill="#ffe500"/><rect x="397.73" y="458.21" width="2.95" height="2.82" fill="#fff200"/><rect x="400.19" y="458.21" width="2.95" height="2.82" fill="#ffff00"/><rect x="402.64" y="458.21" width="2.95" height="2.82" fill="#f2ff0d"/><rect x="405.09" y="458.21" width="5.41" height="2.82" fill="#e5ff1a"/><rect x="410.00" y="458.21" width="15.22" height="2.82" fill="#d9ff26"/><rect x="424.73" y="458.21" width="15.22" height="2.82" fill="#ccff33"/><rect x="439.45" y="458.21" width="15.22" height="2.82" fill="#bfff40"/><rect x="454.18" y="458.21" width="14.72" height="2.82" fill="#b3ff4c"/><rect x="287.30" y="455.89" width="2.95" height="2.82" fill="#1affe5"/><rect x="289.75" y="455.89" width="2.95" height="2.82" fill="#00e5ff"/><rect x="292.21" y="455.89" width="2.95" height="2.82" fill="#00a6ff"/><rect x="294.66" y="455.89" width="2.95" height="2.82" fill="#0080ff"/><rect x="297.12" y="455.89" width="2.95" height="2.82" fill="#0059ff"/><rect x="299.57" y="455.89" width="2.95" height="2.82" fill="#0040ff"/><rect x="302.02" y="455.89" width="2.95" height="2.82" fill="#0033ff"/><rect x="304.48" y="455.89" width="2.95" height="2.82" fill="#004dff"/><rect x="306.93" y="455.89" width="2.95" height="2.82" fill="#0066ff"/><rect x="309.39" y="455.89" width="2.95" height="2.82" fill="#0099ff"/><rect x="311.84" y="455.89" width="2.95" height="2.82" fill="#00ccff"/><rect x="314.29" y="455.89" width="2.95" height="2.82" fill="#00f2ff"/><rect x="316.75" y="455.89" width="2.95" height="2.82" fill="#26ffd9"/><rect x="319.20" y="455.89" width="2.95" height="2.82" fill="#4dffb3"/><rect x="321.66" y="455.89" width="2.95" height="2.82" fill="#66ff99"/><rect x="324.11" y="455.89" width="2.95" height="2.82" fill="#80ff80"/><rect x="326.56" y="455.89" width="2.95" height="2.82" fill="#99ff66"/><rect x="329.02" y="455.89" width="2.95" height="2.82" fill="#a6ff59"/><rect x="331.47" y="455.89" width="2.95" height="2.82" fill="#b3ff4c"/><rect x="333.93" y="455.89" width="7.86" height="2.82" fill="#bfff40"/><rect x="341.29" y="455.89" width="22.59" height="2.82" fill="#fff"/><rect x="363.38" y="455.89" width="2.95" height="2.82" fill="#ffe500"/><rect x="365.83" y="455.89" width="2.95" height="2.82" fill="#ffd900"/><rect x="368.28" y="455.89" width="5.41" height="2.82" fill="#ffcc00"/><rect x="373.19" y="455.89" width="7.86" height="2.82" fill="#ffbf00"/><rect x="380.55" y="455.89" width="10.32" height="2.82" fill="#ffb300"/><rect x="390.37" y="455.89" width="2.95" height="2.82" fill="#ffbf00"/><rect x="392.82" y="455.89" width="2.95" height="2.82" fill="#ffcc00"/><rect x="395.28" y="455.89" width="2.95" height="2.82" fill="#ffe500"/><rect x="397.73" y="455.89" width="2.95" height="2.82" fill="#fff200"/><rect x="400.19" y="455.89" width="2.95" height="2.82" fill="#ffff00"/><rect x="402.64" y="455.89" width="2.95" height="2.82" fill="#f2ff0d"/><rect x="405.09" y="455.89" width="7.86" height="2.82" fill="#e5ff1a"/><rect x="412.46" y="455.89" width="15.22" height="2.82" fill="#d9ff26"/><rect x="427.18" y="455.89" width="12.77" height="2.82" fill="#ccff33"/><rect x="439.45" y="455.89" width="17.68" height="2.82" fill="#bfff40"/><rect x="456.63" y="455.89" width="12.27" height="2.82" fill="#b3ff4c"/><rect x="287.30" y="453.57" width="2.95" height="2.82" fill="#0dfff2"/><rect x="289.75" y="453.57" width="2.95" height="2.82" fill="#00d9ff"/><rect x="292.21" y="453.57" width="2.95" height="2.82" fill="#00a6ff"/><rect x="294.66" y="453.57" width="2.95" height="2.82" fill="#0073ff"/><rect x="297.12" y="453.57" width="2.95" height="2.82" fill="#0040ff"/><rect x="299.57" y="453.57" width="5.41" height="2.82" fill="#0026ff"/><rect x="304.48" y="453.57" width="2.95" height="2.82" fill="#0033ff"/><rect x="306.93" y="453.57" width="2.95" height="2.82" fill="#0059ff"/><rect x="309.39" y="453.57" width="2.95" height="2.82" fill="#0080ff"/><rect x="311.84" y="453.57" width="2.95" height="2.82" fill="#00b3ff"/><rect x="314.29" y="453.57" width="2.95" height="2.82" fill="#00f2ff"/><rect x="316.75" y="453.57" width="2.95" height="2.82" fill="#1affe5"/><rect x="319.20" y="453.57" width="2.95" height="2.82" fill="#4dffb3"/><rect x="321.66" y="453.57" width="2.95" height="2.82" fill="#66ff99"/><rect x="324.11" y="453.57" width="2.95" height="2.82" fill="#8cff73"/><rect x="326.56" y="453.57" width="2.95" height="2.82" fill="#99ff66"/><rect x="329.02" y="453.57" width="2.95" height="2.82" fill="#a6ff59"/><rect x="331.47" y="453.57" width="2.95" height="2.82" fill="#b3ff4c"/><rect x="333.93" y="453.57" width="2.95" height="2.82" fill="#bfff40"/><rect x="336.38" y="453.57" width="7.86" height="2.82" fill="#ccff33"/><rect x="343.74" y="453.57" width="22.59" height="2.82" fill="#fff"/><rect x="365.83" y="453.57" width="2.95" height="2.82" fill="#ffd900"/><rect x="368.28" y="453.57" width="5.41" height="2.82" fill="#ffcc00"/><rect x="373.19" y="453.57" width="7.86" height="2.82" fill="#ffbf00"/><rect x="380.55" y="453.57" width="7.86" height="2.82" fill="#ffb300"/><rect x="387.92" y="453.57" width="5.41" height="2.82" fill="#ffbf00"/><rect x="392.82" y="453.57" width="2.95" height="2.82" fill="#ffcc00"/><rect x="395.28" y="453.57" width="2.95" height="2.82" fill="#ffe500"/><rect x="397.73" y="453.57" width="2.95" height="2.82" fill="#fff200"/><rect x="400.19" y="453.57" width="2.95" height="2.82" fill="#ffff00"/><rect x="402.64" y="453.57" width="2.95" height="2.82" fill="#f2ff0d"/><rect x="405.09" y="453.57" width="10.32" height="2.82" fill="#e5ff1a"/><rect x="414.91" y="453.57" width="15.22" height="2.82" fill="#d9ff26"/><rect x="429.64" y="453.57" width="12.77" height="2.82" fill="#ccff33"/><rect x="441.91" y="453.57" width="15.22" height="2.82" fill="#bfff40"/><rect x="456.63" y="453.57" width="12.27" height="2.82" fill="#b3ff4c"/><rect x="287.30" y="451.25" width="2.95" height="2.82" fill="#0dfff2"/><rect x="289.75" y="451.25" width="2.95" height="2.82" fill="#00d9ff"/><rect x="292.21" y="451.25" width="2.95" height="2.82" fill="#0099ff"/><rect x="294.66" y="451.25" width="2.95" height="2.82" fill="#0066ff"/><rect x="297.12" y="451.25" width="2.95" height="2.82" fill="#0040ff"/><rect x="299.57" y="451.25" width="5.41" height="2.82" fill="#001aff"/><rect x="304.48" y="451.25" width="2.95" height="2.82" fill="#0026ff"/><rect x="306.93" y="451.25" width="2.95" height="2.82" fill="#0040ff"/><rect x="309.39" y="451.25" width="2.95" height="2.82" fill="#0073ff"/><rect x="311.84" y="451.25" width="2.95" height="2.82" fill="#00a6ff"/><rect x="314.29" y="451.25" width="2.95" height="2.82" fill="#00e5ff"/><rect x="316.75" y="451.25" width="2.95" height="2.82" fill="#1affe5"/><rect x="319.20" y="451.25" width="2.95" height="2.82" fill="#4dffb3"/><rect x="321.66" y="451.25" width="2.95" height="2.82" fill="#66ff99"/><rect x="324.11" y="451.25" width="2.95" height="2.82" fill="#8cff73"/><rect x="326.56" y="451.25" width="2.95" height="2.82" fill="#99ff66"/><rect x="329.02" y="451.25" width="2.95" height="2.82" fill="#b3ff4c"/><rect x="331.47" y="451.25" width="2.95" height="2.82" fill="#bfff40"/><rect x="333.93" y="451.25" width="2.95" height="2.82" fill="#ccff33"/><rect x="336.38" y="451.25" width="5.41" height="2.82" fill="#d9ff26"/><rect x="341.29" y="451.25" width="5.41" height="2.82" fill="#e5ff1a"/><rect x="346.20" y="451.25" width="22.59" height="2.82" fill="#fff"/><rect x="368.28" y="451.25" width="2.95" height="2.82" fill="#ffd900"/><rect x="370.74" y="451.25" width="2.95" height="2.82" fill="#ffcc00"/><rect x="373.19" y="451.25" width="17.68" height="2.82" fill="#ffbf00"/><rect x="390.37" y="451.25" width="2.95" height="2.82" fill="#ffcc00"/><rect x="392.82" y="451.25" width="2.95" height="2.82" fill="#ffd900"/><rect x="395.28" y="451.25" width="2.95" height="2.82" fill="#ffe500"/><rect x="397.73" y="451.25" width="2.95" height="2.82" fill="#fff200"/><rect x="400.19" y="451.25" width="2.95" height="2.82" fill="#ffff00"/><rect x="402.64" y="451.25" width="2.95" height="2.82" fill="#f2ff0d"/><rect x="405.09" y="451.25" width="12.77" height="2.82" fill="#e5ff1a"/><rect x="417.36" y="451.25" width="12.77" height="2.82" fill="#d9ff26"/><rect x="429.64" y="451.25" width="15.22" height="2.82" fill="#ccff33"/><rect x="444.36" y="451.25" width="15.22" height="2.82" fill="#bfff40"/><rect x="459.08" y="451.25" width="9.82" height="2.82" fill="#b3ff4c"/><rect x="287.30" y="448.93" width="2.95" height="2.82" fill="#00ffff"/><rect x="289.75" y="448.93" width="2.95" height="2.82" fill="#00ccff"/><rect x="292.21" y="448.93" width="2.95" height="2.82" fill="#0099ff"/><rect x="294.66" y="448.93" width="2.95" height="2.82" fill="#0059ff"/><rect x="297.12" y="448.93" width="2.95" height="2.82" fill="#0033ff"/><rect x="299.57" y="448.93" width="2.95" height="2.82" fill="#001aff"/><rect x="302.02" y="448.93" width="2.95" height="2.82" fill="#000dff"/><rect x="304.48" y="448.93" width="2.95" height="2.82" fill="#001aff"/><rect x="306.93" y="448.93" width="2.95" height="2.82" fill="#0033ff"/><rect x="309.39" y="448.93" width="2.95" height="2.82" fill="#0066ff"/><rect x="311.84" y="448.93" width="2.95" height="2.82" fill="#00a6ff"/><rect x="314.29" y="448.93" width="2.95" height="2.82" fill="#00d9ff"/><rect x="316.75" y="448.93" width="2.95" height="2.82" fill="#1affe5"/><rect x="319.20" y="448.93" width="2.95" height="2.82" fill="#40ffbf"/><rect x="321.66" y="448.93" width="2.95" height="2.82" fill="#66ff99"/><rect x="324.11" y="448.93" width="2.95" height="2.82" fill="#8cff73"/><rect x="326.56" y="448.93" width="2.95" height="2.82" fill="#a6ff59"/><rect x="329.02" y="448.93" width="2.95" height="2.82" fill="#b3ff4c"/><rect x="331.47" y="448.93" width="2.95" height="2.82" fill="#bfff40"/><rect x="333.93" y="448.93" width="2.95" height="2.82" fill="#d9ff26"/><rect x="336.38" y="448.93" width="2.95" height="2.82" fill="#e5ff1a"/><rect x="338.84" y="448.93" width="5.41" height="2.82" fill="#f2ff0d"/><rect x="343.74" y="448.93" width="2.95" height="2.82" fill="#ffff00"/><rect x="346.20" y="448.93" width="2.95" height="2.82" fill="#f2ff0d"/><rect x="348.65" y="448.93" width="22.59" height="2.82" fill="#fff"/><rect x="370.74" y="448.93" width="2.95" height="2.82" fill="#ffd900"/><rect x="373.19" y="448.93" width="5.41" height="2.82" fill="#ffcc00"/><rect x="378.10" y="448.93" width="12.77" height="2.82" fill="#ffbf00"/><rect x="390.37" y="448.93" width="2.95" height="2.82" fill="#ffcc00"/><rect x="392.82" y="448.93" width="2.95" height="2.82" fill="#ffd900"/><rect x="395.28" y="448.93" width="2.95" height="2.82" fill="#ffe500"/><rect x="397.73" y="448.93" width="2.95" height="2.82" fill="#fff200"/><rect x="400.19" y="448.93" width="2.95" height="2.82" fill="#ffff00"/><rect x="402.64" y="448.93" width="2.95" height="2.82" fill="#f2ff0d"/><rect x="405.09" y="448.93" width="12.77" height="2.82" fill="#e5ff1a"/><rect x="417.36" y="448.93" width="15.22" height="2.82" fill="#d9ff26"/><rect x="432.09" y="448.93" width="12.77" height="2.82" fill="#ccff33"/><rect x="444.36" y="448.93" width="15.22" height="2.82" fill="#bfff40"/><rect x="459.08" y="448.93" width="9.82" height="2.82" fill="#b3ff4c"/><rect x="287.30" y="446.61" width="2.95" height="2.82" fill="#00ffff"/><rect x="289.75" y="446.61" width="2.95" height="2.82" fill="#00ccff"/><rect x="292.21" y="446.61" width="2.95" height="2.82" fill="#008cff"/><rect x="294.66" y="446.61" width="2.95" height="2.82" fill="#0059ff"/><rect x="297.12" y="446.61" width="2.95" height="2.82" fill="#0033ff"/><rect x="299.57" y="446.61" width="2.95" height="2.82" fill="#000dff"/><rect x="302.02" y="446.61" width="2.95" height="2.82" fill="#0000ff"/><rect x="304.48" y="446.61" width="2.95" height="2.82" fill="#000dff"/><rect x="306.93" y="446.61" width="2.95" height="2.82" fill="#0033ff"/><rect x="309.39" y="446.61" width="2.95" height="2.82" fill="#0066ff"/><rect x="311.84" y="446.61" width="2.95" height="2.82" fill="#0099ff"/><rect x="314.29" y="446.61" width="2.95" height="2.82" fill="#00d9ff"/><rect x="316.75" y="446.61" width="2.95" height="2.82" fill="#0dfff2"/><rect x="319.20" y="446.61" width="2.95" height="2.82" fill="#40ffbf"/><rect x="321.66" y="446.61" width="2.95" height="2.82" fill="#66ff99"/><rect x="324.11" y="446.61" width="2.95" height="2.82" fill="#8cff73"/><rect x="326.56" y="446.61" width="2.95" height="2.82" fill="#a6ff59"/><rect x="329.02" y="446.61" width="2.95" height="2.82" fill="#b3ff4c"/><rect x="331.47" y="446.61" width="2.95" height="2.82" fill="#ccff33"/><rect x="333.93" y="446.61" width="2.95" height="2.82" fill="#e5ff1a"/><rect x="336.38" y="446.61" width="2.95" height="2.82" fill="#f2ff0d"/><rect x="338.84" y="446.61" width="2.95" height="2.82" fill="#ffff00"/><rect x="341.29" y="446.61" width="10.32" height="2.82" fill="#fff200"/><rect x="351.11" y="446.61" width="22.59" height="2.82" fill="#fff"/><rect x="373.19" y="446.61" width="2.95" height="2.82" fill="#ffd900"/><rect x="375.65" y="446.61" width="15.22" height="2.82" fill="#ffcc00"/><rect x="390.37" y="446.61" width="5.41" height="2.82" fill="#ffd900"/><rect x="395.28" y="446.61" width="2.95" height="2.82" fill="#fff200"/><rect x="397.73" y="446.61" width="2.95" height="2.82" fill="#ffff00"/><rect x="400.19" y="446.61" width="5.41" height="2.82" fill="#f2ff0d"/><rect x="405.09" y="446.61" width="10.32" height="2.82" fill="#e5ff1a"/><rect x="414.91" y="446.61" width="17.68" height="2.82" fill="#d9ff26"/><rect x="432.09" y="446.61" width="12.77" height="2.82" fill="#ccff33"/><rect x="444.36" y="446.61" width="15.22" height="2.82" fill="#bfff40"/><rect x="459.08" y="446.61" width="9.82" height="2.82" fill="#b3ff4c"/><rect x="287.30" y="444.29" width="2.95" height="2.82" fill="#00ffff"/><rect x="289.75" y="444.29" width="2.95" height="2.82" fill="#00ccff"/><rect x="292.21" y="444.29" width="2.95" height="2.82" fill="#008cff"/><rect x="294.66" y="444.29" width="2.95" height="2.82" fill="#0059ff"/><rect x="297.12" y="444.29" width="2.95" height="2.82" fill="#0033ff"/><rect x="299.57" y="444.29" width="5.41" height="2.82" fill="#000dff"/><rect x="304.48" y="444.29" width="2.95" height="2.82" fill="#001aff"/><rect x="306.93" y="444.29" width="2.95" height="2.82" fill="#0033ff"/><rect x="309.39" y="444.29" width="2.95" height="2.82" fill="#0066ff"/><rect x="311.84" y="444.29" width="2.95" height="2.82" fill="#0099ff"/><rect x="314.29" y="444.29" width="2.95" height="2.82" fill="#00d9ff"/><rect x="316.75" y="444.29" width="2.95" height="2.82" fill="#0dfff2"/><rect x="319.20" y="444.29" width="2.95" height="2.82" fill="#40ffbf"/><rect x="321.66" y="444.29" width="2.95" height="2.82" fill="#66ff99"/><rect x="324.11" y="444.29" width="2.95" height="2.82" fill="#8cff73"/><rect x="326.56" y="444.29" width="2.95" height="2.82" fill="#a6ff59"/><rect x="329.02" y="444.29" width="2.95" height="2.82" fill="#bfff40"/><rect x="331.47" y="444.29" width="2.95" height="2.82" fill="#d9ff26"/><rect x="333.93" y="444.29" width="2.95" height="2.82" fill="#f2ff0d"/><rect x="336.38" y="444.29" width="2.95" height="2.82" fill="#ffff00"/><rect x="338.84" y="444.29" width="5.41" height="2.82" fill="#ffe500"/><rect x="343.74" y="444.29" width="5.41" height="2.82" fill="#ffd900"/><rect x="348.65" y="444.29" width="5.41" height="2.82" fill="#ffe500"/><rect x="353.56" y="444.29" width="22.59" height="2.82" fill="#fff"/><rect x="375.65" y="444.29" width="2.95" height="2.82" fill="#ffe500"/><rect x="378.10" y="444.29" width="15.22" height="2.82" fill="#ffd900"/><rect x="392.82" y="444.29" width="2.95" height="2.82" fill="#ffe500"/><rect x="395.28" y="444.29" width="2.95" height="2.82" fill="#fff200"/><rect x="397.73" y="444.29" width="2.95" height="2.82" fill="#ffff00"/><rect x="400.19" y="444.29" width="2.95" height="2.82" fill="#f2ff0d"/><rect x="402.64" y="444.29" width="12.77" height="2.82" fill="#e5ff1a"/><rect x="414.91" y="444.29" width="15.22" height="2.82" fill="#d9ff26"/><rect x="429.64" y="444.29" width="15.22" height="2.82" fill="#ccff33"/><rect x="444.36" y="444.29" width="15.22" height="2.82" fill="#bfff40"/><rect x="459.08" y="444.29" width="9.82" height="2.82" fill="#b3ff4c"/><rect x="287.30" y="441.98" width="2.95" height="2.82" fill="#00ffff"/><rect x="289.75" y="441.98" width="2.95" height="2.82" fill="#00ccff"/><rect x="292.21" y="441.98" width="2.95" height="2.82" fill="#0099ff"/><rect x="294.66" y="441.98" width="2.95" height="2.82" fill="#0059ff"/><rect x="297.12" y="441.98" width="2.95" height="2.82" fill="#0033ff"/><rect x="299.57" y="441.98" width="2.95" height="2.82" fill="#001aff"/><rect x="302.02" y="441.98" width="2.95" height="2.82" fill="#000dff"/><rect x="304.48" y="441.98" width="2.95" height="2.82" fill="#001aff"/><rect x="306.93" y="441.98" width="2.95" height="2.82" fill="#0040ff"/><rect x="309.39" y="441.98" width="2.95" height="2.82" fill="#0066ff"/><rect x="311.84" y="441.98" width="2.95" height="2.82" fill="#00a6ff"/><rect x="314.29" y="441.98" width="2.95" height="2.82" fill="#00d9ff"/><rect x="316.75" y="441.98" width="2.95" height="2.82" fill="#0dfff2"/><rect x="319.20" y="441.98" width="2.95" height="2.82" fill="#40ffbf"/><rect x="321.66" y="441.98" width="2.95" height="2.82" fill="#66ff99"/><rect x="324.11" y="441.98" width="2.95" height="2.82" fill="#8cff73"/><rect x="326.56" y="441.98" width="2.95" height="2.82" fill="#a6ff59"/><rect x="329.02" y="441.98" width="2.95" height="2.82" fill="#bfff40"/><rect x="331.47" y="441.98" width="2.95" height="2.82" fill="#d9ff26"/><rect x="333.93" y="441.98" width="2.95" height="2.82" fill="#f2ff0d"/><rect x="336.38" y="441.98" width="2.95" height="2.82" fill="#fff200"/><rect x="338.84" y="441.98" width="5.41" height="2.82" fill="#ffd900"/><rect x="343.74" y="441.98" width="5.41" height="2.82" fill="#ffcc00"/><rect x="348.65" y="441.98" width="7.86" height="2.82" fill="#ffd900"/><rect x="356.01" y="441.98" width="22.59" height="2.82" fill="#fff"/><rect x="378.10" y="441.98" width="2.95" height="2.82" fill="#ffff00"/><rect x="380.55" y="441.98" width="10.32" height="2.82" fill="#ffe500"/><rect x="390.37" y="441.98" width="5.41" height="2.82" fill="#fff200"/><rect x="395.28" y="441.98" width="2.95" height="2.82" fill="#ffff00"/><rect x="397.73" y="441.98" width="5.41" height="2.82" fill="#f2ff0d"/><rect x="402.64" y="441.98" width="7.86" height="2.82" fill="#e5ff1a"/><rect x="410.00" y="441.98" width="20.13" height="2.82" fill="#d9ff26"/><rect x="429.64" y="441.98" width="12.77" height="2.82" fill="#ccff33"/><rect x="441.91" y="441.98" width="17.68" height="2.82" fill="#bfff40"/><rect x="459.08" y="441.98" width="9.82" height="2.82" fill="#b3ff4c"/><rect x="287.30" y="439.66" width="2.95" height="2.82" fill="#00ffff"/><rect x="289.75" y="439.66" width="2.95" height="2.82" fill="#00ccff"/><rect x="292.21" y="439.66" width="2.95" height="2.82" fill="#0099ff"/><rect x="294.66" y="439.66" width="2.95" height="2.82" fill="#0066ff"/><rect x="297.12" y="439.66" width="2.95" height="2.82" fill="#0040ff"/><rect x="299.57" y="439.66" width="2.95" height="2.82" fill="#0026ff"/><rect x="302.02" y="439.66" width="2.95" height="2.82" fill="#001aff"/><rect x="304.48" y="439.66" width="2.95" height="2.82" fill="#0026ff"/><rect x="306.93" y="439.66" width="2.95" height="2.82" fill="#0040ff"/><rect x="309.39" y="439.66" width="2.95" height="2.82" fill="#0073ff"/><rect x="311.84" y="439.66" width="2.95" height="2.82" fill="#00a6ff"/><rect x="314.29" y="439.66" width="2.95" height="2.82" fill="#00e5ff"/><rect x="316.75" y="439.66" width="2.95" height="2.82" fill="#1affe5"/><rect x="319.20" y="439.66" width="2.95" height="2.82" fill="#40ffbf"/><rect x="321.66" y="439.66" width="2.95" height="2.82" fill="#66ff99"/><rect x="324.11" y="439.66" width="2.95" height="2.82" fill="#8cff73"/><rect x="326.56" y="439.66" width="2.95" height="2.82" fill="#a6ff59"/><rect x="329.02" y="439.66" width="2.95" height="2.82" fill="#bfff40"/><rect x="331.47" y="439.66" width="2.95" height="2.82" fill="#d9ff26"/><rect x="333.93" y="439.66" width="2.95" height="2.82" fill="#f2ff0d"/><rect x="336.38" y="439.66" width="2.95" height="2.82" fill="#fff200"/><rect x="338.84" y="439.66" width="2.95" height="2.82" fill="#ffd900"/><rect x="341.29" y="439.66" width="15.22" height="2.82" fill="#ffcc00"/><rect x="356.01" y="439.66" width="2.95" height="2.82" fill="#ffd900"/><rect x="358.47" y="439.66" width="22.59" height="2.82" fill="#fff"/><rect x="380.55" y="439.66" width="2.95" height="2.82" fill="#e5ff1a"/><rect x="383.01" y="439.66" width="12.77" height="2.82" fill="#ffff00"/><rect x="395.28" y="439.66" width="2.95" height="2.82" fill="#f2ff0d"/><rect x="397.73" y="439.66" width="7.86" height="2.82" fill="#e5ff1a"/><rect x="405.09" y="439.66" width="20.13" height="2.82" fill="#d9ff26"/><rect x="424.73" y="439.66" width="17.68" height="2.82" fill="#ccff33"/><rect x="441.91" y="439.66" width="15.22" height="2.82" fill="#bfff40"/><rect x="456.63" y="439.66" width="12.27" height="2.82" fill="#b3ff4c"/><rect x="287.30" y="437.34" width="2.95" height="2.82" fill="#00f2ff"/><rect x="289.75" y="437.34" width="2.95" height="2.82" fill="#00ccff"/><rect x="292.21" y="437.34" width="2.95" height="2.82" fill="#0099ff"/><rect x="294.66" y="437.34" width="2.95" height="2.82" fill="#0066ff"/><rect x="297.12" y="437.34" width="2.95" height="2.82" fill="#004dff"/><rect x="299.57" y="437.34" width="2.95" height="2.82" fill="#0033ff"/><rect x="302.02" y="437.34" width="2.95" height="2.82" fill="#0026ff"/><rect x="304.48" y="437.34" width="2.95" height="2.82" fill="#0033ff"/><rect x="306.93" y="437.34" width="2.95" height="2.82" fill="#004dff"/><rect x="309.39" y="437.34" width="2.95" height="2.82" fill="#0080ff"/><rect x="311.84" y="437.34" width="2.95" height="2.82" fill="#00b3ff"/><rect x="314.29" y="437.34" width="2.95" height="2.82" fill="#00e5ff"/><rect x="316.75" y="437.34" width="2.95" height="2.82" fill="#1affe5"/><rect x="319.20" y="437.34" width="2.95" height="2.82" fill="#40ffbf"/><rect x="321.66" y="437.34" width="2.95" height="2.82" fill="#66ff99"/><rect x="324.11" y="437.34" width="2.95" height="2.82" fill="#8cff73"/><rect x="326.56" y="437.34" width="2.95" height="2.82" fill="#a6ff59"/><rect x="329.02" y="437.34" width="2.95" height="2.82" fill="#bfff40"/><rect x="331.47" y="437.34" width="2.95" height="2.82" fill="#d9ff26"/><rect x="333.93" y="437.34" width="2.95" height="2.82" fill="#f2ff0d"/><rect x="336.38" y="437.34" width="2.95" height="2.82" fill="#fff200"/><rect x="338.84" y="437.34" width="2.95" height="2.82" fill="#ffd900"/><rect x="341.29" y="437.34" width="17.68" height="2.82" fill="#ffcc00"/><rect x="358.47" y="437.34" width="2.95" height="2.82" fill="#ffd900"/><rect x="360.92" y="437.34" width="22.59" height="2.82" fill="#fff"/><rect x="383.01" y="437.34" width="2.95" height="2.82" fill="#ccff33"/><rect x="385.46" y="437.34" width="7.86" height="2.82" fill="#f2ff0d"/><rect x="392.82" y="437.34" width="7.86" height="2.82" fill="#e5ff1a"/><rect x="400.19" y="437.34" width="20.13" height="2.82" fill="#d9ff26"/><rect x="419.82" y="437.34" width="20.13" height="2.82" fill="#ccff33"/><rect x="439.45" y="437.34" width="17.68" height="2.82" fill="#bfff40"/><rect x="456.63" y="437.34" width="12.27" height="2.82" fill="#b3ff4c"/><rect x="287.30" y="435.02" width="2.95" height="2.82" fill="#00f2ff"/><rect x="289.75" y="435.02" width="2.95" height="2.82" fill="#00ccff"/><rect x="292.21" y="435.02" width="2.95" height="2.82" fill="#0099ff"/><rect x="294.66" y="435.02" width="2.95" height="2.82" fill="#0073ff"/><rect x="297.12" y="435.02" width="2.95" height="2.82" fill="#004dff"/><rect x="299.57" y="435.02" width="2.95" height="2.82" fill="#0040ff"/><rect x="302.02" y="435.02" width="2.95" height="2.82" fill="#0033ff"/><rect x="304.48" y="435.02" width="2.95" height="2.82" fill="#0040ff"/><rect x="306.93" y="435.02" width="2.95" height="2.82" fill="#0066ff"/><rect x="309.39" y="435.02" width="2.95" height="2.82" fill="#008cff"/><rect x="311.84" y="435.02" width="2.95" height="2.82" fill="#00bfff"/><rect x="314.29" y="435.02" width="2.95" height="2.82" fill="#00e5ff"/><rect x="316.75" y="435.02" width="2.95" height="2.82" fill="#1affe5"/><rect x="319.20" y="435.02" width="2.95" height="2.82" fill="#4dffb3"/><rect x="321.66" y="435.02" width="2.95" height="2.82" fill="#66ff99"/><rect x="324.11" y="435.02" width="2.95" height="2.82" fill="#8cff73"/><rect x="326.56" y="435.02" width="2.95" height="2.82" fill="#a6ff59"/><rect x="329.02" y="435.02" width="2.95" height="2.82" fill="#bfff40"/><rect x="331.47" y="435.02" width="2.95" height="2.82" fill="#d9ff26"/><rect x="333.93" y="435.02" width="2.95" height="2.82" fill="#f2ff0d"/><rect x="336.38" y="435.02" width="2.95" height="2.82" fill="#fff200"/><rect x="338.84" y="435.02" width="2.95" height="2.82" fill="#ffd900"/><rect x="341.29" y="435.02" width="5.41" height="2.82" fill="#ffcc00"/><rect x="346.20" y="435.02" width="12.77" height="2.82" fill="#ffbf00"/><rect x="358.47" y="435.02" width="2.95" height="2.82" fill="#ffcc00"/><rect x="360.92" y="435.02" width="2.95" height="2.82" fill="#ffd900"/><rect x="363.38" y="435.02" width="22.59" height="2.82" fill="#fff"/><rect x="385.46" y="435.02" width="2.95" height="2.82" fill="#b3ff4c"/><rect x="387.92" y="435.02" width="2.95" height="2.82" fill="#e5ff1a"/><rect x="390.37" y="435.02" width="10.32" height="2.82" fill="#d9ff26"/><rect x="400.19" y="435.02" width="34.86" height="2.82" fill="#ccff33"/><rect x="434.54" y="435.02" width="20.13" height="2.82" fill="#bfff40"/><rect x="454.18" y="435.02" width="14.72" height="2.82" fill="#b3ff4c"/><rect x="287.30" y="432.70" width="2.95" height="2.82" fill="#00e5ff"/><rect x="289.75" y="432.70" width="2.95" height="2.82" fill="#00bfff"/><rect x="292.21" y="432.70" width="2.95" height="2.82" fill="#0099ff"/><rect x="294.66" y="432.70" width="2.95" height="2.82" fill="#0073ff"/><rect x="297.12" y="432.70" width="2.95" height="2.82" fill="#0059ff"/><rect x="299.57" y="432.70" width="5.41" height="2.82" fill="#004dff"/><rect x="304.48" y="432.70" width="2.95" height="2.82" fill="#0059ff"/><rect x="306.93" y="432.70" width="2.95" height="2.82" fill="#0073ff"/><rect x="309.39" y="432.70" width="2.95" height="2.82" fill="#0099ff"/><rect x="311.84" y="432.70" width="2.95" height="2.82" fill="#00bfff"/><rect x="314.29" y="432.70" width="2.95" height="2.82" fill="#00f2ff"/><rect x="316.75" y="432.70" width="2.95" height="2.82" fill="#1affe5"/><rect x="319.20" y="432.70" width="2.95" height="2.82" fill="#4dffb3"/><rect x="321.66" y="432.70" width="2.95" height="2.82" fill="#66ff99"/><rect x="324.11" y="432.70" width="2.95" height="2.82" fill="#8cff73"/><rect x="326.56" y="432.70" width="2.95" height="2.82" fill="#a6ff59"/><rect x="329.02" y="432.70" width="2.95" height="2.82" fill="#bfff40"/><rect x="331.47" y="432.70" width="2.95" height="2.82" fill="#d9ff26"/><rect x="333.93" y="432.70" width="2.95" height="2.82" fill="#f2ff0d"/><rect x="336.38" y="432.70" width="2.95" height="2.82" fill="#fff200"/><rect x="338.84" y="432.70" width="2.95" height="2.82" fill="#ffd900"/><rect x="341.29" y="432.70" width="2.95" height="2.82" fill="#ffcc00"/><rect x="343.74" y="432.70" width="15.22" height="2.82" fill="#ffbf00"/><rect x="358.47" y="432.70" width="5.41" height="2.82" fill="#ffcc00"/><rect x="363.38" y="432.70" width="2.95" height="2.82" fill="#ffe500"/><rect x="365.83" y="432.70" width="22.59" height="2.82" fill="#fff"/><rect x="387.92" y="432.70" width="2.95" height="2.82" fill="#a6ff59"/><rect x="390.37" y="432.70" width="7.86" height="2.82" fill="#ccff33"/><rect x="397.73" y="432.70" width="7.86" height="2.82" fill="#bfff40"/><rect x="405.09" y="432.70" width="25.04" height="2.82" fill="#ccff33"/><rect x="429.64" y="432.70" width="22.59" height="2.82" fill="#bfff40"/><rect x="451.72" y="432.70" width="17.18" height="2.82" fill="#b3ff4c"/><rect x="287.30" y="430.38" width="2.95" height="2.82" fill="#00d9ff"/><rect x="289.75" y="430.38" width="2.95" height="2.82" fill="#00bfff"/><rect x="292.21" y="430.38" width="2.95" height="2.82" fill="#0099ff"/><rect x="294.66" y="430.38" width="2.95" height="2.82" fill="#0080ff"/><rect x="297.12" y="430.38" width="2.95" height="2.82" fill="#0066ff"/><rect x="299.57" y="430.38" width="5.41" height="2.82" fill="#0059ff"/><rect x="304.48" y="430.38" width="2.95" height="2.82" fill="#0066ff"/><rect x="306.93" y="430.38" width="2.95" height="2.82" fill="#0080ff"/><rect x="309.39" y="430.38" width="2.95" height="2.82" fill="#00a6ff"/><rect x="311.84" y="430.38" width="2.95" height="2.82" fill="#00ccff"/><rect x="314.29" y="430.38" width="2.95" height="2.82" fill="#00f2ff"/><rect x="316.75" y="430.38" width="2.95" height="2.82" fill="#26ffd9"/><rect x="319.20" y="430.38" width="2.95" height="2.82" fill="#4dffb3"/><rect x="321.66" y="430.38" width="2.95" height="2.82" fill="#66ff99"/><rect x="324.11" y="430.38" width="2.95" height="2.82" fill="#80ff80"/><rect x="326.56" y="430.38" width="2.95" height="2.82" fill="#a6ff59"/><rect x="329.02" y="430.38" width="2.95" height="2.82" fill="#bfff40"/><rect x="331.47" y="430.38" width="2.95" height="2.82" fill="#d9ff26"/><rect x="333.93" y="430.38" width="2.95" height="2.82" fill="#f2ff0d"/><rect x="336.38" y="430.38" width="2.95" height="2.82" fill="#fff200"/><rect x="338.84" y="430.38" width="2.95" height="2.82" fill="#ffd900"/><rect x="341.29" y="430.38" width="2.95" height="2.82" fill="#ffcc00"/><rect x="343.74" y="430.38" width="17.68" height="2.82" fill="#ffbf00"/><rect x="360.92" y="430.38" width="2.95" height="2.82" fill="#ffcc00"/><rect x="363.38" y="430.38" width="2.95" height="2.82" fill="#ffd900"/><rect x="365.83" y="430.38" width="2.95" height="2.82" fill="#ffff00"/><rect x="368.28" y="430.38" width="22.59" height="2.82" fill="#fff"/><rect x="390.37" y="430.38" width="2.95" height="2.82" fill="#8cff73"/><rect x="392.82" y="430.38" width="2.95" height="2.82" fill="#bfff40"/><rect x="395.28" y="430.38" width="2.95" height="2.82" fill="#b3ff4c"/><rect x="397.73" y="430.38" width="5.41" height="2.82" fill="#a6ff59"/><rect x="402.64" y="430.38" width="2.95" height="2.82" fill="#b3ff4c"/><rect x="405.09" y="430.38" width="5.41" height="2.82" fill="#bfff40"/><rect x="410.00" y="430.38" width="12.77" height="2.82" fill="#ccff33"/><rect x="422.27" y="430.38" width="27.49" height="2.82" fill="#bfff40"/><rect x="449.27" y="430.38" width="19.63" height="2.82" fill="#b3ff4c"/><rect x="287.30" y="428.06" width="2.95" height="2.82" fill="#00ccff"/><rect x="289.75" y="428.06" width="2.95" height="2.82" fill="#00b3ff"/><rect x="292.21" y="428.06" width="2.95" height="2.82" fill="#0099ff"/><rect x="294.66" y="428.06" width="2.95" height="2.82" fill="#0080ff"/><rect x="297.12" y="428.06" width="2.95" height="2.82" fill="#0073ff"/><rect x="299.57" y="428.06" width="5.41" height="2.82" fill="#0066ff"/><rect x="304.48" y="428.06" width="2.95" height="2.82" fill="#0073ff"/><rect x="306.93" y="428.06" width="2.95" height="2.82" fill="#008cff"/><rect x="309.39" y="428.06" width="2.95" height="2.82" fill="#00a6ff"/><rect x="311.84" y="428.06" width="2.95" height="2.82" fill="#00ccff"/><rect x="314.29" y="428.06" width="2.95" height="2.82" fill="#00ffff"/><rect x="316.75" y="428.06" width="2.95" height="2.82" fill="#26ffd9"/><rect x="319.20" y="428.06" width="2.95" height="2.82" fill="#40ffbf"/><rect x="321.66" y="428.06" width="2.95" height="2.82" fill="#66ff99"/><rect x="324.11" y="428.06" width="2.95" height="2.82" fill="#80ff80"/><rect x="326.56" y="428.06" width="2.95" height="2.82" fill="#99ff66"/><rect x="329.02" y="428.06" width="2.95" height="2.82" fill="#b3ff4c"/><rect x="331.47" y="428.06" width="2.95" height="2.82" fill="#d9ff26"/><rect x="333.93" y="428.06" width="2.95" height="2.82" fill="#f2ff0d"/><rect x="336.38" y="428.06" width="2.95" height="2.82" fill="#fff200"/><rect x="338.84" y="428.06" width="2.95" height="2.82" fill="#ffd900"/><rect x="341.29" y="428.06" width="2.95" height="2.82" fill="#ffcc00"/><rect x="343.74" y="428.06" width="5.41" height="2.82" fill="#ffbf00"/><rect x="348.65" y="428.06" width="5.41" height="2.82" fill="#ffb300"/><rect x="353.56" y="428.06" width="7.86" height="2.82" fill="#ffbf00"/><rect x="360.92" y="428.06" width="2.95" height="2.82" fill="#ffcc00"/><rect x="363.38" y="428.06" width="2.95" height="2.82" fill="#ffd900"/><rect x="365.83" y="428.06" width="2.95" height="2.82" fill="#ffe500"/><rect x="368.28" y="428.06" width="2.95" height="2.82" fill="#e5ff1a"/><rect x="370.74" y="428.06" width="22.59" height="2.82" fill="#fff"/><rect x="392.82" y="428.06" width="2.95" height="2.82" fill="#66ff99"/><rect x="395.28" y="428.06" width="2.95" height="2.82" fill="#99ff66"/><rect x="397.73" y="428.06" width="5.41" height="2.82" fill="#8cff73"/><rect x="402.64" y="428.06" width="2.95" height="2.82" fill="#99ff66"/><rect x="405.09" y="428.06" width="2.95" height="2.82" fill="#a6ff59"/><rect x="407.55" y="428.06" width="2.95" height="2.82" fill="#b3ff4c"/><rect x="410.00" y="428.06" width="34.86" height="2.82" fill="#bfff40"/><rect x="444.36" y="428.06" width="24.54" height="2.82" fill="#b3ff4c"/><rect x="287.30" y="425.74" width="2.95" height="2.82" fill="#00bfff"/><rect x="289.75" y="425.74" width="2.95" height="2.82" fill="#00b3ff"/><rect x="292.21" y="425.74" width="2.95" height="2.82" fill="#0099ff"/><rect x="294.66" y="425.74" width="2.95" height="2.82" fill="#0080ff"/><rect x="297.12" y="425.74" width="7.86" height="2.82" fill="#0073ff"/><rect x="304.48" y="425.74" width="2.95" height="2.82" fill="#0080ff"/><rect x="306.93" y="425.74" width="2.95" height="2.82" fill="#0099ff"/><rect x="309.39" y="425.74" width="2.95" height="2.82" fill="#00b3ff"/><rect x="311.84" y="425.74" width="2.95" height="2.82" fill="#00d9ff"/><rect x="314.29" y="425.74" width="2.95" height="2.82" fill="#00ffff"/><rect x="316.75" y="425.74" width="2.95" height="2.82" fill="#26ffd9"/><rect x="319.20" y="425.74" width="2.95" height="2.82" fill="#40ffbf"/><rect x="321.66" y="425.74" width="2.95" height="2.82" fill="#66ff99"/><rect x="324.11" y="425.74" width="2.95" height="2.82" fill="#80ff80"/><rect x="326.56" y="425.74" width="2.95" height="2.82" fill="#99ff66"/><rect x="329.02" y="425.74" width="2.95" height="2.82" fill="#b3ff4c"/><rect x="331.47" y="425.74" width="2.95" height="2.82" fill="#ccff33"/><rect x="333.93" y="425.74" width="2.95" height="2.82" fill="#f2ff0d"/><rect x="336.38" y="425.74" width="2.95" height="2.82" fill="#fff200"/><rect x="338.84" y="425.74" width="2.95" height="2.82" fill="#ffd900"/><rect x="341.29" y="425.74" width="2.95" height="2.82" fill="#ffcc00"/><rect x="343.74" y="425.74" width="2.95" height="2.82" fill="#ffbf00"/><rect x="346.20" y="425.74" width="10.32" height="2.82" fill="#ffb300"/><rect x="356.01" y="425.74" width="5.41" height="2.82" fill="#ffbf00"/><rect x="360.92" y="425.74" width="2.95" height="2.82" fill="#ffcc00"/><rect x="363.38" y="425.74" width="2.95" height="2.82" fill="#ffd900"/><rect x="365.83" y="425.74" width="2.95" height="2.82" fill="#ffe500"/><rect x="368.28" y="425.74" width="2.95" height="2.82" fill="#ffff00"/><rect x="370.74" y="425.74" width="2.95" height="2.82" fill="#ccff33"/><rect x="373.19" y="425.74" width="22.59" height="2.82" fill="#fff"/><rect x="395.28" y="425.74" width="2.95" height="2.82" fill="#33ffcc"/><rect x="397.73" y="425.74" width="5.41" height="2.82" fill="#66ff99"/><rect x="402.64" y="425.74" width="2.95" height="2.82" fill="#80ff80"/><rect x="405.09" y="425.74" width="2.95" height="2.82" fill="#99ff66"/><rect x="407.55" y="425.74" width="2.95" height="2.82" fill="#b3ff4c"/><rect x="410.00" y="425.74" width="29.95" height="2.82" fill="#bfff40"/><rect x="439.45" y="425.74" width="29.45" height="2.82" fill="#b3ff4c"/><rect x="287.30" y="423.42" width="2.95" height="2.82" fill="#00b3ff"/><rect x="289.75" y="423.42" width="2.95" height="2.82" fill="#00a6ff"/><rect x="292.21" y="423.42" width="2.95" height="2.82" fill="#0099ff"/><rect x="294.66" y="423.42" width="5.41" height="2.82" fill="#0080ff"/><rect x="299.57" y="423.42" width="2.95" height="2.82" fill="#0073ff"/><rect x="302.02" y="423.42" width="2.95" height="2.82" fill="#0080ff"/><rect x="304.48" y="423.42" width="2.95" height="2.82" fill="#008cff"/><rect x="306.93" y="423.42" width="2.95" height="2.82" fill="#0099ff"/><rect x="309.39" y="423.42" width="2.95" height="2.82" fill="#00bfff"/><rect x="311.84" y="423.42" width="2.95" height="2.82" fill="#00d9ff"/><rect x="314.29" y="423.42" width="2.95" height="2.82" fill="#00ffff"/><rect x="316.75" y="423.42" width="2.95" height="2.82" fill="#26ffd9"/><rect x="319.20" y="423.42" width="2.95" height="2.82" fill="#40ffbf"/><rect x="321.66" y="423.42" width="2.95" height="2.82" fill="#59ffa6"/><rect x="324.11" y="423.42" width="2.95" height="2.82" fill="#80ff80"/><rect x="326.56" y="423.42" width="2.95" height="2.82" fill="#99ff66"/><rect x="329.02" y="423.42" width="2.95" height="2.82" fill="#b3ff4c"/><rect x="331.47" y="423.42" width="2.95" height="2.82" fill="#ccff33"/><rect x="333.93" y="423.42" width="2.95" height="2.82" fill="#f2ff0d"/><rect x="336.38" y="423.42" width="2.95" height="2.82" fill="#fff200"/><rect x="338.84" y="423.42" width="2.95" height="2.82" fill="#ffd900"/><rect x="341.29" y="423.42" width="2.95" height="2.82" fill="#ffcc00"/><rect x="343.74" y="423.42" width="2.95" height="2.82" fill="#ffbf00"/><rect x="346.20" y="423.42" width="10.32" height="2.82" fill="#ffb300"/><rect x="356.01" y="423.42" width="5.41" height="2.82" fill="#ffbf00"/><rect x="360.92" y="423.42" width="2.95" height="2.82" fill="#ffcc00"/><rect x="363.38" y="423.42" width="2.95" height="2.82" fill="#ffd900"/><rect x="365.83" y="423.42" width="2.95" height="2.82" fill="#ffe500"/><rect x="368.28" y="423.42" width="2.95" height="2.82" fill="#ffff00"/><rect x="370.74" y="423.42" width="2.95" height="2.82" fill="#f2ff0d"/><rect x="373.19" y="423.42" width="2.95" height="2.82" fill="#b3ff4c"/><rect x="375.65" y="423.42" width="22.59" height="2.82" fill="#fff"/><rect x="397.73" y="423.42" width="2.95" height="2.82" fill="#0dfff2"/><rect x="400.19" y="423.42" width="2.95" height="2.82" fill="#59ffa6"/><rect x="402.64" y="423.42" width="2.95" height="2.82" fill="#73ff8c"/><rect x="405.09" y="423.42" width="2.95" height="2.82" fill="#8cff73"/><rect x="407.55" y="423.42" width="2.95" height="2.82" fill="#a6ff59"/><rect x="410.00" y="423.42" width="2.95" height="2.82" fill="#b3ff4c"/><rect x="412.46" y="423.42" width="20.13" height="2.82" fill="#bfff40"/><rect x="432.09" y="423.42" width="36.81" height="2.82" fill="#b3ff4c"/><rect x="287.30" y="421.11" width="2.95" height="2.82" fill="#00b3ff"/><rect x="289.75" y="421.11" width="2.95" height="2.82" fill="#00a6ff"/><rect x="292.21" y="421.11" width="5.41" height="2.82" fill="#008cff"/><rect x="297.12" y="421.11" width="7.86" height="2.82" fill="#0080ff"/><rect x="304.48" y="421.11" width="2.95" height="2.82" fill="#0099ff"/><rect x="306.93" y="421.11" width="2.95" height="2.82" fill="#00a6ff"/><rect x="309.39" y="421.11" width="2.95" height="2.82" fill="#00bfff"/><rect x="311.84" y="421.11" width="2.95" height="2.82" fill="#00e5ff"/><rect x="314.29" y="421.11" width="2.95" height="2.82" fill="#00ffff"/><rect x="316.75" y="421.11" width="2.95" height="2.82" fill="#26ffd9"/><rect x="319.20" y="421.11" width="2.95" height="2.82" fill="#40ffbf"/><rect x="321.66" y="421.11" width="2.95" height="2.82" fill="#59ffa6"/><rect x="324.11" y="421.11" width="2.95" height="2.82" fill="#73ff8c"/><rect x="326.56" y="421.11" width="2.95" height="2.82" fill="#8cff73"/><rect x="329.02" y="421.11" width="2.95" height="2.82" fill="#a6ff59"/><rect x="331.47" y="421.11" width="2.95" height="2.82" fill="#ccff33"/><rect x="333.93" y="421.11" width="2.95" height="2.82" fill="#e5ff1a"/><rect x="336.38" y="421.11" width="2.95" height="2.82" fill="#fff200"/><rect x="338.84" y="421.11" width="2.95" height="2.82" fill="#ffd900"/><rect x="341.29" y="421.11" width="2.95" height="2.82" fill="#ffcc00"/><rect x="343.74" y="421.11" width="2.95" height="2.82" fill="#ffbf00"/><rect x="346.20" y="421.11" width="7.86" height="2.82" fill="#ffb300"/><rect x="353.56" y="421.11" width="7.86" height="2.82" fill="#ffbf00"/><rect x="360.92" y="421.11" width="2.95" height="2.82" fill="#ffcc00"/><rect x="363.38" y="421.11" width="2.95" height="2.82" fill="#ffd900"/><rect x="365.83" y="421.11" width="2.95" height="2.82" fill="#ffe500"/><rect x="368.28" y="421.11" width="2.95" height="2.82" fill="#ffff00"/><rect x="370.74" y="421.11" width="2.95" height="2.82" fill="#f2ff0d"/><rect x="373.19" y="421.11" width="2.95" height="2.82" fill="#e5ff1a"/><rect x="375.65" y="421.11" width="2.95" height="2.82" fill="#a6ff59"/><rect x="378.10" y="421.11" width="22.59" height="2.82" fill="#fff"/><rect x="400.19" y="421.11" width="2.95" height="2.82" fill="#0dfff2"/><rect x="402.64" y="421.11" width="2.95" height="2.82" fill="#73ff8c"/><rect x="405.09" y="421.11" width="2.95" height="2.82" fill="#8cff73"/><rect x="407.55" y="421.11" width="2.95" height="2.82" fill="#a6ff59"/><rect x="410.00" y="421.11" width="58.90" height="2.82" fill="#b3ff4c"/><rect x="287.30" y="418.79" width="2.95" height="2.82" fill="#00a6ff"/><rect x="289.75" y="418.79" width="2.95" height="2.82" fill="#0099ff"/><rect x="292.21" y="418.79" width="5.41" height="2.82" fill="#008cff"/><rect x="297.12" y="418.79" width="2.95" height="2.82" fill="#0080ff"/><rect x="299.57" y="418.79" width="5.41" height="2.82" fill="#008cff"/><rect x="304.48" y="418.79" width="2.95" height="2.82" fill="#0099ff"/><rect x="306.93" y="418.79" width="2.95" height="2.82" fill="#00b3ff"/><rect x="309.39" y="418.79" width="2.95" height="2.82" fill="#00ccff"/><rect x="311.84" y="418.79" width="2.95" height="2.82" fill="#00e5ff"/><rect x="314.29" y="418.79" width="2.95" height="2.82" fill="#00ffff"/><rect x="316.75" y="418.79" width="2.95" height="2.82" fill="#26ffd9"/><rect x="319.20" y="418.79" width="2.95" height="2.82" fill="#40ffbf"/><rect x="321.66" y="418.79" width="2.95" height="2.82" fill="#59ffa6"/><rect x="324.11" y="418.79" width="2.95" height="2.82" fill="#73ff8c"/><rect x="326.56" y="418.79" width="2.95" height="2.82" fill="#8cff73"/><rect x="329.02" y="418.79" width="2.95" height="2.82" fill="#a6ff59"/><rect x="331.47" y="418.79" width="2.95" height="2.82" fill="#bfff40"/><rect x="333.93" y="418.79" width="2.95" height="2.82" fill="#e5ff1a"/><rect x="336.38" y="418.79" width="2.95" height="2.82" fill="#ffff00"/><rect x="338.84" y="418.79" width="2.95" height="2.82" fill="#ffe500"/><rect x="341.29" y="418.79" width="2.95" height="2.82" fill="#ffd900"/><rect x="343.74" y="418.79" width="2.95" height="2.82" fill="#ffcc00"/><rect x="346.20" y="418.79" width="10.32" height="2.82" fill="#ffbf00"/><rect x="356.01" y="418.79" width="5.41" height="2.82" fill="#ffcc00"/><rect x="360.92" y="418.79" width="5.41" height="2.82" fill="#ffd900"/><rect x="365.83" y="418.79" width="2.95" height="2.82" fill="#fff200"/><rect x="368.28" y="418.79" width="2.95" height="2.82" fill="#ffff00"/><rect x="370.74" y="418.79" width="2.95" height="2.82" fill="#f2ff0d"/><rect x="373.19" y="418.79" width="2.95" height="2.82" fill="#d9ff26"/><rect x="375.65" y="418.79" width="2.95" height="2.82" fill="#ccff33"/><rect x="378.10" y="418.79" width="2.95" height="2.82" fill="#8cff73"/><rect x="380.55" y="418.79" width="22.59" height="2.82" fill="#fff"/><rect x="402.64" y="418.79" width="2.95" height="2.82" fill="#33ffcc"/><rect x="405.09" y="418.79" width="2.95" height="2.82" fill="#99ff66"/><rect x="407.55" y="418.79" width="2.95" height="2.82" fill="#a6ff59"/><rect x="410.00" y="418.79" width="58.90" height="2.82" fill="#b3ff4c"/><rect x="287.30" y="416.47" width="5.41" height="2.82" fill="#0099ff"/><rect x="292.21" y="416.47" width="10.32" height="2.82" fill="#008cff"/><rect x="302.02" y="416.47" width="2.95" height="2.82" fill="#0099ff"/><rect x="304.48" y="416.47" width="2.95" height="2.82" fill="#00a6ff"/><rect x="306.93" y="416.47" width="2.95" height="2.82" fill="#00b3ff"/><rect x="309.39" y="416.47" width="2.95" height="2.82" fill="#00ccff"/><rect x="311.84" y="416.47" width="2.95" height="2.82" fill="#00e5ff"/><rect x="314.29" y="416.47" width="2.95" height="2.82" fill="#00ffff"/><rect x="316.75" y="416.47" width="2.95" height="2.82" fill="#26ffd9"/><rect x="319.20" y="416.47" width="2.95" height="2.82" fill="#40ffbf"/><rect x="321.66" y="416.47" width="2.95" height="2.82" fill="#59ffa6"/><rect x="324.11" y="416.47" width="2.95" height="2.82" fill="#73ff8c"/><rect x="326.56" y="416.47" width="2.95" height="2.82" fill="#8cff73"/><rect x="329.02" y="416.47" width="2.95" height="2.82" fill="#a6ff59"/><rect x="331.47" y="416.47" width="2.95" height="2.82" fill="#bfff40"/><rect x="333.93" y="416.47" width="2.95" height="2.82" fill="#d9ff26"/><rect x="336.38" y="416.47" width="2.95" height="2.82" fill="#f2ff0d"/><rect x="338.84" y="416.47" width="2.95" height="2.82" fill="#fff200"/><rect x="341.29" y="416.47" width="2.95" height="2.82" fill="#ffe500"/><rect x="343.74" y="416.47" width="5.41" height="2.82" fill="#ffd900"/><rect x="348.65" y="416.47" width="7.86" height="2.82" fill="#ffcc00"/><rect x="356.01" y="416.47" width="7.86" height="2.82" fill="#ffd900"/><rect x="363.38" y="416.47" width="2.95" height="2.82" fill="#ffe500"/><rect x="365.83" y="416.47" width="2.95" height="2.82" fill="#fff200"/><rect x="368.28" y="416.47" width="2.95" height="2.82" fill="#ffff00"/><rect x="370.74" y="416.47" width="2.95" height="2.82" fill="#e5ff1a"/><rect x="373.19" y="416.47" width="2.95" height="2.82" fill="#d9ff26"/><rect x="375.65" y="416.47" width="2.95" height="2.82" fill="#ccff33"/><rect x="378.10" y="416.47" width="2.95" height="2.82" fill="#bfff40"/><rect x="380.55" y="416.47" width="2.95" height="2.82" fill="#66ff99"/><rect x="383.01" y="416.47" width="22.59" height="2.82" fill="#fff"/><rect x="405.09" y="416.47" width="2.95" height="2.82" fill="#4dffb3"/><rect x="407.55" y="416.47" width="61.35" height="2.82" fill="#b3ff4c"/><rect x="287.30" y="414.15" width="5.41" height="2.82" fill="#0099ff"/><rect x="292.21" y="414.15" width="7.86" height="2.82" fill="#008cff"/><rect x="299.57" y="414.15" width="5.41" height="2.82" fill="#0099ff"/><rect x="304.48" y="414.15" width="2.95" height="2.82" fill="#00a6ff"/><rect x="306.93" y="414.15" width="2.95" height="2.82" fill="#00bfff"/><rect x="309.39" y="414.15" width="2.95" height="2.82" fill="#00d9ff"/><rect x="311.84" y="414.15" width="2.95" height="2.82" fill="#00f2ff"/><rect x="314.29" y="414.15" width="2.95" height="2.82" fill="#0dfff2"/><rect x="316.75" y="414.15" width="2.95" height="2.82" fill="#26ffd9"/><rect x="319.20" y="414.15" width="2.95" height="2.82" fill="#40ffbf"/><rect x="321.66" y="414.15" width="2.95" height="2.82" fill="#59ffa6"/><rect x="324.11" y="414.15" width="2.95" height="2.82" fill="#73ff8c"/><rect x="326.56" y="414.15" width="2.95" height="2.82" fill="#80ff80"/><rect x="329.02" y="414.15" width="2.95" height="2.82" fill="#99ff66"/><rect x="331.47" y="414.15" width="2.95" height="2.82" fill="#b3ff4c"/><rect x="333.93" y="414.15" width="2.95" height="2.82" fill="#ccff33"/><rect x="336.38" y="414.15" width="2.95" height="2.82" fill="#e5ff1a"/><rect x="338.84" y="414.15" width="2.95" height="2.82" fill="#f2ff0d"/><rect x="341.29" y="414.15" width="2.95" height="2.82" fill="#ffff00"/><rect x="343.74" y="414.15" width="2.95" height="2.82" fill="#fff200"/><rect x="346.20" y="414.15" width="15.22" height="2.82" fill="#ffe500"/><rect x="360.92" y="414.15" width="5.41" height="2.82" fill="#fff200"/><rect x="365.83" y="414.15" width="2.95" height="2.82" fill="#ffff00"/><rect x="368.28" y="414.15" width="2.95" height="2.82" fill="#f2ff0d"/><rect x="370.74" y="414.15" width="2.95" height="2.82" fill="#e5ff1a"/><rect x="373.19" y="414.15" width="2.95" height="2.82" fill="#d9ff26"/><rect x="375.65" y="414.15" width="2.95" height="2.82" fill="#ccff33"/><rect x="378.10" y="414.15" width="2.95" height="2.82" fill="#b3ff4c"/><rect x="380.55" y="414.15" width="2.95" height="2.82" fill="#99ff66"/><rect x="383.01" y="414.15" width="2.95" height="2.82" fill="#33ffcc"/><rect x="385.46" y="414.15" width="22.59" height="2.82" fill="#fff"/><rect x="407.55" y="414.15" width="2.95" height="2.82" fill="#59ffa6"/><rect x="410.00" y="414.15" width="58.90" height="2.82" fill="#b3ff4c"/><rect x="287.30" y="411.83" width="5.41" height="2.82" fill="#0099ff"/><rect x="292.21" y="411.83" width="5.41" height="2.82" fill="#008cff"/><rect x="297.12" y="411.83" width="5.41" height="2.82" fill="#0099ff"/><rect x="302.02" y="411.83" width="2.95" height="2.82" fill="#00a6ff"/><rect x="304.48" y="411.83" width="2.95" height="2.82" fill="#00b3ff"/><rect x="306.93" y="411.83" width="2.95" height="2.82" fill="#00bfff"/><rect x="309.39" y="411.83" width="2.95" height="2.82" fill="#00d9ff"/><rect x="311.84" y="411.83" width="2.95" height="2.82" fill="#00f2ff"/><rect x="314.29" y="411.83" width="2.95" height="2.82" fill="#0dfff2"/><rect x="316.75" y="411.83" width="2.95" height="2.82" fill="#26ffd9"/><rect x="319.20" y="411.83" width="2.95" height="2.82" fill="#40ffbf"/><rect x="321.66" y="411.83" width="2.95" height="2.82" fill="#59ffa6"/><rect x="324.11" y="411.83" width="2.95" height="2.82" fill="#66ff99"/><rect x="326.56" y="411.83" width="2.95" height="2.82" fill="#80ff80"/><rect x="329.02" y="411.83" width="2.95" height="2.82" fill="#99ff66"/><rect x="331.47" y="411.83" width="2.95" height="2.82" fill="#a6ff59"/><rect x="333.93" y="411.83" width="2.95" height="2.82" fill="#bfff40"/><rect x="336.38" y="411.83" width="2.95" height="2.82" fill="#d9ff26"/><rect x="338.84" y="411.83" width="2.95" height="2.82" fill="#e5ff1a"/><rect x="341.29" y="411.83" width="2.95" height="2.82" fill="#f2ff0d"/><rect x="343.74" y="411.83" width="7.86" height="2.82" fill="#ffff00"/><rect x="351.11" y="411.83" width="10.32" height="2.82" fill="#fff200"/><rect x="360.92" y="411.83" width="5.41" height="2.82" fill="#ffff00"/><rect x="365.83" y="411.83" width="2.95" height="2.82" fill="#f2ff0d"/><rect x="368.28" y="411.83" width="5.41" height="2.82" fill="#e5ff1a"/><rect x="373.19" y="411.83" width="2.95" height="2.82" fill="#d9ff26"/><rect x="375.65" y="411.83" width="2.95" height="2.82" fill="#bfff40"/><rect x="378.10" y="411.83" width="2.95" height="2.82" fill="#a6ff59"/><rect x="380.55" y="411.83" width="2.95" height="2.82" fill="#8cff73"/><rect x="383.01" y="411.83" width="2.95" height="2.82" fill="#66ff99"/><rect x="385.46" y="411.83" width="2.95" height="2.82" fill="#0dfff2"/><rect x="387.92" y="411.83" width="22.59" height="2.82" fill="#fff"/><rect x="410.00" y="411.83" width="2.95" height="2.82" fill="#59ffa6"/><rect x="412.46" y="411.83" width="56.44" height="2.82" fill="#b3ff4c"/><rect x="287.30" y="409.51" width="15.22" height="2.82" fill="#0099ff"/><rect x="302.02" y="409.51" width="2.95" height="2.82" fill="#00a6ff"/><rect x="304.48" y="409.51" width="2.95" height="2.82" fill="#00b3ff"/><rect x="306.93" y="409.51" width="2.95" height="2.82" fill="#00ccff"/><rect x="309.39" y="409.51" width="2.95" height="2.82" fill="#00d9ff"/><rect x="311.84" y="409.51" width="2.95" height="2.82" fill="#00f2ff"/><rect x="314.29" y="409.51" width="2.95" height="2.82" fill="#0dfff2"/><rect x="316.75" y="409.51" width="2.95" height="2.82" fill="#26ffd9"/><rect x="319.20" y="409.51" width="2.95" height="2.82" fill="#40ffbf"/><rect x="321.66" y="409.51" width="2.95" height="2.82" fill="#4dffb3"/><rect x="324.11" y="409.51" width="2.95" height="2.82" fill="#66ff99"/><rect x="326.56" y="409.51" width="2.95" height="2.82" fill="#80ff80"/><rect x="329.02" y="409.51" width="2.95" height="2.82" fill="#8cff73"/><rect x="331.47" y="409.51" width="2.95" height="2.82" fill="#a6ff59"/><rect x="333.93" y="409.51" width="2.95" height="2.82" fill="#b3ff4c"/><rect x="336.38" y="409.51" width="2.95" height="2.82" fill="#ccff33"/><rect x="338.84" y="409.51" width="2.95" height="2.82" fill="#d9ff26"/><rect x="341.29" y="409.51" width="5.41" height="2.82" fill="#e5ff1a"/><rect x="346.20" y="409.51" width="7.86" height="2.82" fill="#f2ff0d"/><rect x="353.56" y="409.51" width="7.86" height="2.82" fill="#ffff00"/><rect x="360.92" y="409.51" width="7.86" height="2.82" fill="#f2ff0d"/><rect x="368.28" y="409.51" width="2.95" height="2.82" fill="#e5ff1a"/><rect x="370.74" y="409.51" width="2.95" height="2.82" fill="#d9ff26"/><rect x="373.19" y="409.51" width="2.95" height="2.82" fill="#ccff33"/><rect x="375.65" y="409.51" width="2.95" height="2.82" fill="#bfff40"/><rect x="378.10" y="409.51" width="2.95" height="2.82" fill="#a6ff59"/><rect x="380.55" y="409.51" width="2.95" height="2.82" fill="#8cff73"/><rect x="383.01" y="409.51" width="2.95" height="2.82" fill="#66ff99"/><rect x="385.46" y="409.51" width="2.95" height="2.82" fill="#59ffa6"/><rect x="387.92" y="409.51" width="2.95" height="2.82" fill="#0dfff2"/><rect x="390.37" y="409.51" width="22.59" height="2.82" fill="#fff"/><rect x="412.46" y="409.51" width="2.95" height="2.82" fill="#59ffa6"/><rect x="414.91" y="409.51" width="53.99" height="2.82" fill="#b3ff4c"/><rect x="287.30" y="407.19" width="12.77" height="2.82" fill="#0099ff"/><rect x="299.57" y="407.19" width="2.95" height="2.82" fill="#00a6ff"/><rect x="302.02" y="407.19" width="2.95" height="2.82" fill="#00b3ff"/><rect x="304.48" y="407.19" width="2.95" height="2.82" fill="#00bfff"/><rect x="306.93" y="407.19" width="2.95" height="2.82" fill="#00ccff"/><rect x="309.39" y="407.19" width="2.95" height="2.82" fill="#00e5ff"/><rect x="311.84" y="407.19" width="2.95" height="2.82" fill="#00ffff"/><rect x="314.29" y="407.19" width="2.95" height="2.82" fill="#0dfff2"/><rect x="316.75" y="407.19" width="2.95" height="2.82" fill="#26ffd9"/><rect x="319.20" y="407.19" width="2.95" height="2.82" fill="#40ffbf"/><rect x="321.66" y="407.19" width="2.95" height="2.82" fill="#59ffa6"/><rect x="324.11" y="407.19" width="2.95" height="2.82" fill="#66ff99"/><rect x="326.56" y="407.19" width="2.95" height="2.82" fill="#80ff80"/><rect x="329.02" y="407.19" width="2.95" height="2.82" fill="#8cff73"/><rect x="331.47" y="407.19" width="2.95" height="2.82" fill="#a6ff59"/><rect x="333.93" y="407.19" width="2.95" height="2.82" fill="#b3ff4c"/><rect x="336.38" y="407.19" width="2.95" height="2.82" fill="#bfff40"/><rect x="338.84" y="407.19" width="2.95" height="2.82" fill="#ccff33"/><rect x="341.29" y="407.19" width="5.41" height="2.82" fill="#d9ff26"/><rect x="346.20" y="407.19" width="5.41" height="2.82" fill="#e5ff1a"/><rect x="351.11" y="407.19" width="12.77" height="2.82" fill="#f2ff0d"/><rect x="363.38" y="407.19" width="7.86" height="2.82" fill="#e5ff1a"/><rect x="370.74" y="407.19" width="2.95" height="2.82" fill="#d9ff26"/><rect x="373.19" y="407.19" width="2.95" height="2.82" fill="#ccff33"/><rect x="375.65" y="407.19" width="2.95" height="2.82" fill="#bfff40"/><rect x="378.10" y="407.19" width="2.95" height="2.82" fill="#b3ff4c"/><rect x="380.55" y="407.19" width="2.95" height="2.82" fill="#99ff66"/><rect x="383.01" y="407.19" width="2.95" height="2.82" fill="#80ff80"/><rect x="385.46" y="407.19" width="5.41" height="2.82" fill="#73ff8c"/><rect x="390.37" y="407.19" width="2.95" height="2.82" fill="#33ffcc"/><rect x="392.82" y="407.19" width="22.59" height="2.82" fill="#fff"/><rect x="414.91" y="407.19" width="2.95" height="2.82" fill="#4dffb3"/><rect x="417.36" y="407.19" width="49.58" height="2.82" fill="#b3ff4c"/><rect x="466.45" y="407.19" width="2.45" height="2.82" fill="#a6ff59"/><rect x="287.30" y="404.87" width="7.86" height="2.82" fill="#0099ff"/><rect x="294.66" y="404.87" width="5.41" height="2.82" fill="#00a6ff"/><rect x="299.57" y="404.87" width="2.95" height="2.82" fill="#00b3ff"/><rect x="302.02" y="404.87" width="2.95" height="2.82" fill="#00bfff"/><rect x="304.48" y="404.87" width="2.95" height="2.82" fill="#00ccff"/><rect x="306.93" y="404.87" width="2.95" height="2.82" fill="#00d9ff"/><rect x="309.39" y="404.87" width="2.95" height="2.82" fill="#00e5ff"/><rect x="311.84" y="404.87" width="2.95" height="2.82" fill="#00ffff"/><rect x="314.29" y="404.87" width="2.95" height="2.82" fill="#1affe5"/><rect x="316.75" y="404.87" width="2.95" height="2.82" fill="#26ffd9"/><rect x="319.20" y="404.87" width="2.95" height="2.82" fill="#40ffbf"/><rect x="321.66" y="404.87" width="2.95" height="2.82" fill="#59ffa6"/><rect x="324.11" y="404.87" width="2.95" height="2.82" fill="#66ff99"/><rect x="326.56" y="404.87" width="2.95" height="2.82" fill="#80ff80"/><rect x="329.02" y="404.87" width="2.95" height="2.82" fill="#8cff73"/><rect x="331.47" y="404.87" width="2.95" height="2.82" fill="#99ff66"/><rect x="333.93" y="404.87" width="2.95" height="2.82" fill="#a6ff59"/><rect x="336.38" y="404.87" width="5.41" height="2.82" fill="#bfff40"/><rect x="341.29" y="404.87" width="2.95" height="2.82" fill="#ccff33"/><rect x="343.74" y="404.87" width="5.41" height="2.82" fill="#d9ff26"/><rect x="348.65" y="404.87" width="20.13" height="2.82" fill="#e5ff1a"/><rect x="368.28" y="404.87" width="5.41" height="2.82" fill="#d9ff26"/><rect x="373.19" y="404.87" width="5.41" height="2.82" fill="#ccff33"/><rect x="378.10" y="404.87" width="2.95" height="2.82" fill="#bfff40"/><rect x="380.55" y="404.87" width="2.95" height="2.82" fill="#a6ff59"/><rect x="383.01" y="404.87" width="2.95" height="2.82" fill="#99ff66"/><rect x="385.46" y="404.87" width="5.41" height="2.82" fill="#8cff73"/><rect x="390.37" y="404.87" width="2.95" height="2.82" fill="#99ff66"/><rect x="392.82" y="404.87" width="2.95" height="2.82" fill="#4dffb3"/><rect x="395.28" y="404.87" width="22.59" height="2.82" fill="#fff"/><rect x="417.36" y="404.87" width="2.95" height="2.82" fill="#4dffb3"/><rect x="419.82" y="404.87" width="42.22" height="2.82" fill="#b3ff4c"/><rect x="461.54" y="404.87" width="7.36" height="2.82" fill="#a6ff59"/><rect x="287.30" y="402.55" width="10.32" height="2.82" fill="#00a6ff"/><rect x="297.12" y="402.55" width="5.41" height="2.82" fill="#00b3ff"/><rect x="302.02" y="402.55" width="2.95" height="2.82" fill="#00bfff"/><rect x="304.48" y="402.55" width="2.95" height="2.82" fill="#00ccff"/><rect x="306.93" y="402.55" width="2.95" height="2.82" fill="#00e5ff"/><rect x="309.39" y="402.55" width="2.95" height="2.82" fill="#00f2ff"/><rect x="311.84" y="402.55" width="2.95" height="2.82" fill="#00ffff"/><rect x="314.29" y="402.55" width="2.95" height="2.82" fill="#1affe5"/><rect x="316.75" y="402.55" width="2.95" height="2.82" fill="#33ffcc"/><rect x="319.20" y="402.55" width="2.95" height="2.82" fill="#40ffbf"/><rect x="321.66" y="402.55" width="2.95" height="2.82" fill="#59ffa6"/><rect x="324.11" y="402.55" width="2.95" height="2.82" fill="#66ff99"/><rect x="326.56" y="402.55" width="2.95" height="2.82" fill="#80ff80"/><rect x="329.02" y="402.55" width="2.95" height="2.82" fill="#8cff73"/><rect x="331.47" y="402.55" width="2.95" height="2.82" fill="#99ff66"/><rect x="333.93" y="402.55" width="2.95" height="2.82" fill="#a6ff59"/><rect x="336.38" y="402.55" width="2.95" height="2.82" fill="#b3ff4c"/><rect x="338.84" y="402.55" width="2.95" height="2.82" fill="#bfff40"/><rect x="341.29" y="402.55" width="2.95" height="2.82" fill="#ccff33"/><rect x="343.74" y="402.55" width="7.86" height="2.82" fill="#d9ff26"/><rect x="351.11" y="402.55" width="17.68" height="2.82" fill="#e5ff1a"/><rect x="368.28" y="402.55" width="5.41" height="2.82" fill="#d9ff26"/><rect x="373.19" y="402.55" width="5.41" height="2.82" fill="#ccff33"/><rect x="378.10" y="402.55" width="2.95" height="2.82" fill="#bfff40"/><rect x="380.55" y="402.55" width="5.41" height="2.82" fill="#b3ff4c"/><rect x="385.46" y="402.55" width="7.86" height="2.82" fill="#a6ff59"/><rect x="392.82" y="402.55" width="2.95" height="2.82" fill="#b3ff4c"/><rect x="395.28" y="402.55" width="2.95" height="2.82" fill="#59ffa6"/><rect x="397.73" y="402.55" width="22.59" height="2.82" fill="#fff"/><rect x="419.82" y="402.55" width="2.95" height="2.82" fill="#4dffb3"/><rect x="422.27" y="402.55" width="32.40" height="2.82" fill="#b3ff4c"/><rect x="454.18" y="402.55" width="14.72" height="2.82" fill="#a6ff59"/><rect x="287.30" y="400.24" width="10.32" height="2.82" fill="#00b3ff"/><rect x="297.12" y="400.24" width="5.41" height="2.82" fill="#00bfff"/><rect x="302.02" y="400.24" width="2.95" height="2.82" fill="#00ccff"/><rect x="304.48" y="400.24" width="2.95" height="2.82" fill="#00d9ff"/><rect x="306.93" y="400.24" width="2.95" height="2.82" fill="#00e5ff"/><rect x="309.39" y="400.24" width="2.95" height="2.82" fill="#00f2ff"/><rect x="311.84" y="400.24" width="2.95" height="2.82" fill="#0dfff2"/><rect x="314.29" y="400.24" width="2.95" height="2.82" fill="#1affe5"/><rect x="316.75" y="400.24" width="2.95" height="2.82" fill="#33ffcc"/><rect x="319.20" y="400.24" width="2.95" height="2.82" fill="#40ffbf"/><rect x="321.66" y="400.24" width="2.95" height="2.82" fill="#59ffa6"/><rect x="324.11" y="400.24" width="2.95" height="2.82" fill="#66ff99"/><rect x="326.56" y="400.24" width="2.95" height="2.82" fill="#80ff80"/><rect x="329.02" y="400.24" width="2.95" height="2.82" fill="#8cff73"/><rect x="331.47" y="400.24" width="2.95" height="2.82" fill="#99ff66"/><rect x="333.93" y="400.24" width="2.95" height="2.82" fill="#a6ff59"/><rect x="336.38" y="400.24" width="2.95" height="2.82" fill="#b3ff4c"/><rect x="338.84" y="400.24" width="2.95" height="2.82" fill="#bfff40"/><rect x="341.29" y="400.24" width="5.41" height="2.82" fill="#ccff33"/><rect x="346.20" y="400.24" width="7.86" height="2.82" fill="#d9ff26"/><rect x="353.56" y="400.24" width="12.77" height="2.82" fill="#e5ff1a"/><rect x="365.83" y="400.24" width="7.86" height="2.82" fill="#d9ff26"/><rect x="373.19" y="400.24" width="7.86" height="2.82" fill="#ccff33"/><rect x="380.55" y="400.24" width="5.41" height="2.82" fill="#bfff40"/><rect x="385.46" y="400.24" width="12.77" height="2.82" fill="#b3ff4c"/><rect x="397.73" y="400.24" width="2.95" height="2.82" fill="#59ffa6"/><rect x="400.19" y="400.24" width="22.59" height="2.82" fill="#fff"/><rect x="422.27" y="400.24" width="2.95" height="2.82" fill="#4dffb3"/><rect x="424.73" y="400.24" width="20.13" height="2.82" fill="#b3ff4c"/><rect x="444.36" y="400.24" width="24.54" height="2.82" fill="#a6ff59"/><rect x="287.30" y="397.92" width="12.77" height="2.82" fill="#00bfff"/><rect x="299.57" y="397.92" width="2.95" height="2.82" fill="#00ccff"/><rect x="302.02" y="397.92" width="2.95" height="2.82" fill="#00d9ff"/><rect x="304.48" y="397.92" width="2.95" height="2.82" fill="#00e5ff"/><rect x="306.93" y="397.92" width="2.95" height="2.82" fill="#00f2ff"/><rect x="309.39" y="397.92" width="2.95" height="2.82" fill="#00ffff"/><rect x="311.84" y="397.92" width="2.95" height="2.82" fill="#0dfff2"/><rect x="314.29" y="397.92" width="2.95" height="2.82" fill="#26ffd9"/><rect x="316.75" y="397.92" width="2.95" height="2.82" fill="#33ffcc"/><rect x="319.20" y="397.92" width="2.95" height="2.82" fill="#4dffb3"/><rect x="321.66" y="397.92" width="2.95" height="2.82" fill="#59ffa6"/><rect x="324.11" y="397.92" width="2.95" height="2.82" fill="#73ff8c"/><rect x="326.56" y="397.92" width="2.95" height="2.82" fill="#80ff80"/><rect x="329.02" y="397.92" width="2.95" height="2.82" fill="#8cff73"/><rect x="331.47" y="397.92" width="2.95" height="2.82" fill="#99ff66"/><rect x="333.93" y="397.92" width="2.95" height="2.82" fill="#a6ff59"/><rect x="336.38" y="397.92" width="2.95" height="2.82" fill="#b3ff4c"/><rect x="338.84" y="397.92" width="2.95" height="2.82" fill="#bfff40"/><rect x="341.29" y="397.92" width="5.41" height="2.82" fill="#ccff33"/><rect x="346.20" y="397.92" width="7.86" height="2.82" fill="#d9ff26"/><rect x="353.56" y="397.92" width="10.32" height="2.82" fill="#e5ff1a"/><rect x="363.38" y="397.92" width="10.32" height="2.82" fill="#d9ff26"/><rect x="373.19" y="397.92" width="7.86" height="2.82" fill="#ccff33"/><rect x="380.55" y="397.92" width="7.86" height="2.82" fill="#bfff40"/><rect x="387.92" y="397.92" width="12.77" height="2.82" fill="#b3ff4c"/><rect x="400.19" y="397.92" width="2.95" height="2.82" fill="#59ffa6"/><rect x="402.64" y="397.92" width="22.59" height="2.82" fill="#fff"/><rect x="424.73" y="397.92" width="2.95" height="2.82" fill="#4dffb3"/><rect x="427.18" y="397.92" width="2.95" height="2.82" fill="#b3ff4c"/><rect x="429.64" y="397.92" width="39.26" height="2.82" fill="#a6ff59"/><rect x="287.30" y="395.60" width="5.41" height="2.82" fill="#00bfff"/><rect x="292.21" y="395.60" width="7.86" height="2.82" fill="#00ccff"/><rect x="299.57" y="395.60" width="2.95" height="2.82" fill="#00d9ff"/><rect x="302.02" y="395.60" width="2.95" height="2.82" fill="#00e5ff"/><rect x="304.48" y="395.60" width="2.95" height="2.82" fill="#00f2ff"/><rect x="306.93" y="395.60" width="2.95" height="2.82" fill="#00ffff"/><rect x="309.39" y="395.60" width="2.95" height="2.82" fill="#0dfff2"/><rect x="311.84" y="395.60" width="2.95" height="2.82" fill="#1affe5"/><rect x="314.29" y="395.60" width="2.95" height="2.82" fill="#26ffd9"/><rect x="316.75" y="395.60" width="2.95" height="2.82" fill="#40ffbf"/><rect x="319.20" y="395.60" width="2.95" height="2.82" fill="#4dffb3"/><rect x="321.66" y="395.60" width="2.95" height="2.82" fill="#66ff99"/><rect x="324.11" y="395.60" width="2.95" height="2.82" fill="#73ff8c"/><rect x="326.56" y="395.60" width="2.95" height="2.82" fill="#80ff80"/><rect x="329.02" y="395.60" width="2.95" height="2.82" fill="#8cff73"/><rect x="331.47" y="395.60" width="2.95" height="2.82" fill="#99ff66"/><rect x="333.93" y="395.60" width="2.95" height="2.82" fill="#a6ff59"/><rect x="336.38" y="395.60" width="2.95" height="2.82" fill="#b3ff4c"/><rect x="338.84" y="395.60" width="5.41" height="2.82" fill="#bfff40"/><rect x="343.74" y="395.60" width="5.41" height="2.82" fill="#ccff33"/><rect x="348.65" y="395.60" width="10.32" height="2.82" fill="#d9ff26"/><rect x="358.47" y="395.60" width="2.95" height="2.82" fill="#e5ff1a"/><rect x="360.92" y="395.60" width="12.77" height="2.82" fill="#d9ff26"/><rect x="373.19" y="395.60" width="7.86" height="2.82" fill="#ccff33"/><rect x="380.55" y="395.60" width="7.86" height="2.82" fill="#bfff40"/><rect x="387.92" y="395.60" width="15.22" height="2.82" fill="#b3ff4c"/><rect x="402.64" y="395.60" width="2.95" height="2.82" fill="#4dffb3"/><rect x="405.09" y="395.60" width="22.59" height="2.82" fill="#fff"/><rect x="427.18" y="395.60" width="2.95" height="2.82" fill="#4dffb3"/><rect x="429.64" y="395.60" width="39.26" height="2.82" fill="#a6ff59"/><rect x="287.30" y="393.28" width="5.41" height="2.82" fill="#00ccff"/><rect x="292.21" y="393.28" width="7.86" height="2.82" fill="#00d9ff"/><rect x="299.57" y="393.28" width="2.95" height="2.82" fill="#00e5ff"/><rect x="302.02" y="393.28" width="5.41" height="2.82" fill="#00f2ff"/><rect x="306.93" y="393.28" width="2.95" height="2.82" fill="#00ffff"/><rect x="309.39" y="393.28" width="2.95" height="2.82" fill="#0dfff2"/><rect x="311.84" y="393.28" width="2.95" height="2.82" fill="#26ffd9"/><rect x="314.29" y="393.28" width="2.95" height="2.82" fill="#33ffcc"/><rect x="316.75" y="393.28" width="2.95" height="2.82" fill="#40ffbf"/><rect x="319.20" y="393.28" width="2.95" height="2.82" fill="#59ffa6"/><rect x="321.66" y="393.28" width="2.95" height="2.82" fill="#66ff99"/><rect x="324.11" y="393.28" width="2.95" height="2.82" fill="#73ff8c"/><rect x="326.56" y="393.28" width="2.95" height="2.82" fill="#80ff80"/><rect x="329.02" y="393.28" width="2.95" height="2.82" fill="#8cff73"/><rect x="331.47" y="393.28" width="2.95" height="2.82" fill="#99ff66"/><rect x="333.93" y="393.28" width="2.95" height="2.82" fill="#a6ff59"/><rect x="336.38" y="393.28" width="2.95" height="2.82" fill="#b3ff4c"/><rect x="338.84" y="393.28" width="5.41" height="2.82" fill="#bfff40"/><rect x="343.74" y="393.28" width="5.41" height="2.82" fill="#ccff33"/><rect x="348.65" y="393.28" width="25.04" height="2.82" fill="#d9ff26"/><rect x="373.19" y="393.28" width="7.86" height="2.82" fill="#ccff33"/><rect x="380.55" y="393.28" width="7.86" height="2.82" fill="#bfff40"/><rect x="387.92" y="393.28" width="17.68" height="2.82" fill="#b3ff4c"/><rect x="405.09" y="393.28" width="2.95" height="2.82" fill="#4dffb3"/><rect x="407.55" y="393.28" width="22.59" height="2.82" fill="#fff"/><rect x="429.64" y="393.28" width="2.95" height="2.82" fill="#4dffb3"/><rect x="432.09" y="393.28" width="36.81" height="2.82" fill="#a6ff59"/><rect x="287.30" y="390.96" width="7.86" height="2.82" fill="#00d9ff"/><rect x="294.66" y="390.96" width="5.41" height="2.82" fill="#00e5ff"/><rect x="299.57" y="390.96" width="5.41" height="2.82" fill="#00f2ff"/><rect x="304.48" y="390.96" width="2.95" height="2.82" fill="#00ffff"/><rect x="306.93" y="390.96" width="2.95" height="2.82" fill="#0dfff2"/><rect x="309.39" y="390.96" width="2.95" height="2.82" fill="#1affe5"/><rect x="311.84" y="390.96" width="2.95" height="2.82" fill="#26ffd9"/><rect x="314.29" y="390.96" width="2.95" height="2.82" fill="#33ffcc"/><rect x="316.75" y="390.96" width="2.95" height="2.82" fill="#4dffb3"/><rect x="319.20" y="390.96" width="2.95" height="2.82" fill="#59ffa6"/><rect x="321.66" y="390.96" width="2.95" height="2.82" fill="#66ff99"/><rect x="324.11" y="390.96" width="2.95" height="2.82" fill="#73ff8c"/><rect x="326.56" y="390.96" width="2.95" height="2.82" fill="#80ff80"/><rect x="329.02" y="390.96" width="2.95" height="2.82" fill="#8cff73"/><rect x="331.47" y="390.96" width="2.95" height="2.82" fill="#99ff66"/><rect x="333.93" y="390.96" width="2.95" height="2.82" fill="#a6ff59"/><rect x="336.38" y="390.96" width="2.95" height="2.82" fill="#b3ff4c"/><rect x="338.84" y="390.96" width="5.41" height="2.82" fill="#bfff40"/><rect x="343.74" y="390.96" width="7.86" height="2.82" fill="#ccff33"/><rect x="351.11" y="390.96" width="20.13" height="2.82" fill="#d9ff26"/><rect x="370.74" y="390.96" width="10.32" height="2.82" fill="#ccff33"/><rect x="380.55" y="390.96" width="7.86" height="2.82" fill="#bfff40"/><rect x="387.92" y="390.96" width="20.13" height="2.82" fill="#b3ff4c"/><rect x="407.55" y="390.96" width="2.95" height="2.82" fill="#4dffb3"/><rect x="410.00" y="390.96" width="22.59" height="2.82" fill="#fff"/><rect x="432.09" y="390.96" width="2.95" height="2.82" fill="#4dffb3"/><rect x="434.54" y="390.96" width="34.36" height="2.82" fill="#a6ff59"/><rect x="287.30" y="388.64" width="7.86" height="2.82" fill="#00e5ff"/><rect x="294.66" y="388.64" width="7.86" height="2.82" fill="#00f2ff"/><rect x="302.02" y="388.64" width="2.95" height="2.82" fill="#00ffff"/><rect x="304.48" y="388.64" width="2.95" height="2.82" fill="#0dfff2"/><rect x="306.93" y="388.64" width="2.95" height="2.82" fill="#1affe5"/><rect x="309.39" y="388.64" width="2.95" height="2.82" fill="#26ffd9"/><rect x="311.84" y="388.64" width="2.95" height="2.82" fill="#33ffcc"/><rect x="314.29" y="388.64" width="2.95" height="2.82" fill="#40ffbf"/><rect x="316.75" y="388.64" width="2.95" height="2.82" fill="#4dffb3"/><rect x="319.20" y="388.64" width="2.95" height="2.82" fill="#59ffa6"/><rect x="321.66" y="388.64" width="2.95" height="2.82" fill="#66ff99"/><rect x="324.11" y="388.64" width="2.95" height="2.82" fill="#73ff8c"/><rect x="326.56" y="388.64" width="2.95" height="2.82" fill="#80ff80"/><rect x="329.02" y="388.64" width="2.95" height="2.82" fill="#8cff73"/><rect x="331.47" y="388.64" width="2.95" height="2.82" fill="#99ff66"/><rect x="333.93" y="388.64" width="2.95" height="2.82" fill="#a6ff59"/><rect x="336.38" y="388.64" width="5.41" height="2.82" fill="#b3ff4c"/><rect x="341.29" y="388.64" width="2.95" height="2.82" fill="#bfff40"/><rect x="343.74" y="388.64" width="7.86" height="2.82" fill="#ccff33"/><rect x="351.11" y="388.64" width="20.13" height="2.82" fill="#d9ff26"/><rect x="370.74" y="388.64" width="7.86" height="2.82" fill="#ccff33"/><rect x="378.10" y="388.64" width="10.32" height="2.82" fill="#bfff40"/><rect x="387.92" y="388.64" width="22.59" height="2.82" fill="#b3ff4c"/><rect x="410.00" y="388.64" width="2.95" height="2.82" fill="#4dffb3"/><rect x="412.46" y="388.64" width="22.59" height="2.82" fill="#fff"/><rect x="434.54" y="388.64" width="2.95" height="2.82" fill="#4dffb3"/><rect x="437.00" y="388.64" width="31.90" height="2.82" fill="#a6ff59"/><rect x="287.30" y="386.32" width="10.32" height="2.82" fill="#00f2ff"/><rect x="297.12" y="386.32" width="5.41" height="2.82" fill="#00ffff"/><rect x="302.02" y="386.32" width="2.95" height="2.82" fill="#0dfff2"/><rect x="304.48" y="386.32" width="5.41" height="2.82" fill="#1affe5"/><rect x="309.39" y="386.32" width="2.95" height="2.82" fill="#26ffd9"/><rect x="311.84" y="386.32" width="2.95" height="2.82" fill="#33ffcc"/><rect x="314.29" y="386.32" width="2.95" height="2.82" fill="#40ffbf"/><rect x="316.75" y="386.32" width="2.95" height="2.82" fill="#4dffb3"/><rect x="319.20" y="386.32" width="2.95" height="2.82" fill="#66ff99"/><rect x="321.66" y="386.32" width="2.95" height="2.82" fill="#73ff8c"/><rect x="324.11" y="386.32" width="2.95" height="2.82" fill="#80ff80"/><rect x="326.56" y="386.32" width="5.41" height="2.82" fill="#8cff73"/><rect x="331.47" y="386.32" width="2.95" height="2.82" fill="#99ff66"/><rect x="333.93" y="386.32" width="2.95" height="2.82" fill="#a6ff59"/><rect x="336.38" y="386.32" width="5.41" height="2.82" fill="#b3ff4c"/><rect x="341.29" y="386.32" width="5.41" height="2.82" fill="#bfff40"/><rect x="346.20" y="386.32" width="7.86" height="2.82" fill="#ccff33"/><rect x="353.56" y="386.32" width="15.22" height="2.82" fill="#d9ff26"/><rect x="368.28" y="386.32" width="10.32" height="2.82" fill="#ccff33"/><rect x="378.10" y="386.32" width="10.32" height="2.82" fill="#bfff40"/><rect x="387.92" y="386.32" width="25.04" height="2.82" fill="#b3ff4c"/><rect x="412.46" y="386.32" width="2.95" height="2.82" fill="#4dffb3"/><rect x="414.91" y="386.32" width="22.59" height="2.82" fill="#fff"/><rect x="437.00" y="386.32" width="2.95" height="2.82" fill="#4dffb3"/><rect x="439.45" y="386.32" width="29.45" height="2.82" fill="#a6ff59"/><rect x="287.30" y="384.00" width="12.77" height="2.82" fill="#00ffff"/><rect x="299.57" y="384.00" width="2.95" height="2.82" fill="#0dfff2"/><rect x="302.02" y="384.00" width="5.41" height="2.82" fill="#1affe5"/><rect x="306.93" y="384.00" width="2.95" height="2.82" fill="#26ffd9"/><rect x="309.39" y="384.00" width="2.95" height="2.82" fill="#33ffcc"/><rect x="311.84" y="384.00" width="2.95" height="2.82" fill="#40ffbf"/><rect x="314.29" y="384.00" width="2.95" height="2.82" fill="#4dffb3"/><rect x="316.75" y="384.00" width="2.95" height="2.82" fill="#59ffa6"/><rect x="319.20" y="384.00" width="2.95" height="2.82" fill="#66ff99"/><rect x="321.66" y="384.00" width="2.95" height="2.82" fill="#73ff8c"/><rect x="324.11" y="384.00" width="2.95" height="2.82" fill="#80ff80"/><rect x="326.56" y="384.00" width="2.95" height="2.82" fill="#8cff73"/><rect x="329.02" y="384.00" width="5.41" height="2.82" fill="#99ff66"/><rect x="333.93" y="384.00" width="2.95" height="2.82" fill="#a6ff59"/><rect x="336.38" y="384.00" width="5.41" height="2.82" fill="#b3ff4c"/><rect x="341.29" y="384.00" width="5.41" height="2.82" fill="#bfff40"/><rect x="346.20" y="384.00" width="10.32" height="2.82" fill="#ccff33"/><rect x="356.01" y="384.00" width="10.32" height="2.82" fill="#d9ff26"/><rect x="365.83" y="384.00" width="12.77" height="2.82" fill="#ccff33"/><rect x="378.10" y="384.00" width="10.32" height="2.82" fill="#bfff40"/><rect x="387.92" y="384.00" width="27.49" height="2.82" fill="#b3ff4c"/><rect x="414.91" y="384.00" width="2.95" height="2.82" fill="#4dffb3"/><rect x="417.36" y="384.00" width="22.59" height="2.82" fill="#fff"/><rect x="439.45" y="384.00" width="2.95" height="2.82" fill="#4dffb3"/><rect x="441.91" y="384.00" width="26.99" height="2.82" fill="#a6ff59"/><rect x="287.30" y="381.68" width="5.41" height="2.82" fill="#00ffff"/><rect x="292.21" y="381.68" width="7.86" height="2.82" fill="#0dfff2"/><rect x="299.57" y="381.68" width="5.41" height="2.82" fill="#1affe5"/><rect x="304.48" y="381.68" width="5.41" height="2.82" fill="#26ffd9"/><rect x="309.39" y="381.68" width="2.95" height="2.82" fill="#33ffcc"/><rect x="311.84" y="381.68" width="2.95" height="2.82" fill="#40ffbf"/><rect x="314.29" y="381.68" width="2.95" height="2.82" fill="#4dffb3"/><rect x="316.75" y="381.68" width="2.95" height="2.82" fill="#59ffa6"/><rect x="319.20" y="381.68" width="2.95" height="2.82" fill="#66ff99"/><rect x="321.66" y="381.68" width="2.95" height="2.82" fill="#73ff8c"/><rect x="324.11" y="381.68" width="2.95" height="2.82" fill="#80ff80"/><rect x="326.56" y="381.68" width="2.95" height="2.82" fill="#8cff73"/><rect x="329.02" y="381.68" width="5.41" height="2.82" fill="#99ff66"/><rect x="333.93" y="381.68" width="2.95" height="2.82" fill="#a6ff59"/><rect x="336.38" y="381.68" width="5.41" height="2.82" fill="#b3ff4c"/><rect x="341.29" y="381.68" width="5.41" height="2.82" fill="#bfff40"/><rect x="346.20" y="381.68" width="15.22" height="2.82" fill="#ccff33"/><rect x="360.92" y="381.68" width="2.95" height="2.82" fill="#d9ff26"/><rect x="363.38" y="381.68" width="12.77" height="2.82" fill="#ccff33"/><rect x="375.65" y="381.68" width="12.77" height="2.82" fill="#bfff40"/><rect x="387.92" y="381.68" width="25.04" height="2.82" fill="#b3ff4c"/><rect x="412.46" y="381.68" width="5.41" height="2.82" fill="#a6ff59"/><rect x="417.36" y="381.68" width="2.95" height="2.82" fill="#4dffb3"/><rect x="419.82" y="381.68" width="22.59" height="2.82" fill="#fff"/><rect x="441.91" y="381.68" width="2.95" height="2.82" fill="#4dffb3"/><rect x="444.36" y="381.68" width="24.54" height="2.82" fill="#a6ff59"/><rect x="287.30" y="379.36" width="10.32" height="2.82" fill="#0dfff2"/><rect x="297.12" y="379.36" width="5.41" height="2.82" fill="#1affe5"/><rect x="302.02" y="379.36" width="5.41" height="2.82" fill="#26ffd9"/><rect x="306.93" y="379.36" width="2.95" height="2.82" fill="#33ffcc"/><rect x="309.39" y="379.36" width="2.95" height="2.82" fill="#40ffbf"/><rect x="311.84" y="379.36" width="5.41" height="2.82" fill="#4dffb3"/><rect x="316.75" y="379.36" width="2.95" height="2.82" fill="#59ffa6"/><rect x="319.20" y="379.36" width="2.95" height="2.82" fill="#66ff99"/><rect x="321.66" y="379.36" width="2.95" height="2.82" fill="#73ff8c"/><rect x="324.11" y="379.36" width="2.95" height="2.82" fill="#80ff80"/><rect x="326.56" y="379.36" width="2.95" height="2.82" fill="#8cff73"/><rect x="329.02" y="379.36" width="5.41" height="2.82" fill="#99ff66"/><rect x="333.93" y="379.36" width="2.95" height="2.82" fill="#a6ff59"/><rect x="336.38" y="379.36" width="5.41" height="2.82" fill="#b3ff4c"/><rect x="341.29" y="379.36" width="7.86" height="2.82" fill="#bfff40"/><rect x="348.65" y="379.36" width="27.49" height="2.82" fill="#ccff33"/><rect x="375.65" y="379.36" width="10.32" height="2.82" fill="#bfff40"/><rect x="385.46" y="379.36" width="27.49" height="2.82" fill="#b3ff4c"/><rect x="412.46" y="379.36" width="7.86" height="2.82" fill="#a6ff59"/><rect x="419.82" y="379.36" width="2.95" height="2.82" fill="#4dffb3"/><rect x="422.27" y="379.36" width="22.59" height="2.82" fill="#fff"/><rect x="444.36" y="379.36" width="2.95" height="2.82" fill="#4dffb3"/><rect x="446.81" y="379.36" width="22.09" height="2.82" fill="#a6ff59"/><rect x="287.30" y="377.05" width="5.41" height="2.82" fill="#0dfff2"/><rect x="292.21" y="377.05" width="10.32" height="2.82" fill="#1affe5"/><rect x="302.02" y="377.05" width="2.95" height="2.82" fill="#26ffd9"/><rect x="304.48" y="377.05" width="5.41" height="2.82" fill="#33ffcc"/><rect x="309.39" y="377.05" width="2.95" height="2.82" fill="#40ffbf"/><rect x="311.84" y="377.05" width="2.95" height="2.82" fill="#4dffb3"/><rect x="314.29" y="377.05" width="2.95" height="2.82" fill="#59ffa6"/><rect x="316.75" y="377.05" width="5.41" height="2.82" fill="#66ff99"/><rect x="321.66" y="377.05" width="2.95" height="2.82" fill="#73ff8c"/><rect x="324.11" y="377.05" width="2.95" height="2.82" fill="#80ff80"/><rect x="326.56" y="377.05" width="2.95" height="2.82" fill="#8cff73"/><rect x="329.02" y="377.05" width="5.41" height="2.82" fill="#99ff66"/><rect x="333.93" y="377.05" width="2.95" height="2.82" fill="#a6ff59"/><rect x="336.38" y="377.05" width="7.86" height="2.82" fill="#b3ff4c"/><rect x="343.74" y="377.05" width="7.86" height="2.82" fill="#bfff40"/><rect x="351.11" y="377.05" width="22.59" height="2.82" fill="#ccff33"/><rect x="373.19" y="377.05" width="12.77" height="2.82" fill="#bfff40"/><rect x="385.46" y="377.05" width="27.49" height="2.82" fill="#b3ff4c"/><rect x="412.46" y="377.05" width="10.32" height="2.82" fill="#a6ff59"/><rect x="422.27" y="377.05" width="2.95" height="2.82" fill="#4dffb3"/><rect x="424.73" y="377.05" width="22.59" height="2.82" fill="#fff"/><rect x="446.81" y="377.05" width="2.95" height="2.82" fill="#4dffb3"/><rect x="449.27" y="377.05" width="19.63" height="2.82" fill="#a6ff59"/><rect x="287.30" y="374.73" width="12.77" height="2.82" fill="#1affe5"/><rect x="299.57" y="374.73" width="5.41" height="2.82" fill="#26ffd9"/><rect x="304.48" y="374.73" width="2.95" height="2.82" fill="#33ffcc"/><rect x="306.93" y="374.73" width="5.41" height="2.82" fill="#40ffbf"/><rect x="311.84" y="374.73" width="2.95" height="2.82" fill="#4dffb3"/><rect x="314.29" y="374.73" width="2.95" height="2.82" fill="#59ffa6"/><rect x="316.75" y="374.73" width="2.95" height="2.82" fill="#66ff99"/><rect x="319.20" y="374.73" width="5.41" height="2.82" fill="#73ff8c"/><rect x="324.11" y="374.73" width="2.95" height="2.82" fill="#80ff80"/><rect x="326.56" y="374.73" width="2.95" height="2.82" fill="#8cff73"/><rect x="329.02" y="374.73" width="5.41" height="2.82" fill="#99ff66"/><rect x="333.93" y="374.73" width="5.41" height="2.82" fill="#a6ff59"/><rect x="338.84" y="374.73" width="5.41" height="2.82" fill="#b3ff4c"/><rect x="343.74" y="374.73" width="7.86" height="2.82" fill="#bfff40"/><rect x="351.11" y="374.73" width="22.59" height="2.82" fill="#ccff33"/><rect x="373.19" y="374.73" width="12.77" height="2.82" fill="#bfff40"/><rect x="385.46" y="374.73" width="27.49" height="2.82" fill="#b3ff4c"/><rect x="412.46" y="374.73" width="12.77" height="2.82" fill="#a6ff59"/><rect x="424.73" y="374.73" width="2.95" height="2.82" fill="#4dffb3"/><rect x="427.18" y="374.73" width="22.59" height="2.82" fill="#fff"/><rect x="449.27" y="374.73" width="2.95" height="2.82" fill="#4dffb3"/><rect x="451.72" y="374.73" width="17.18" height="2.82" fill="#a6ff59"/><rect x="287.30" y="372.41" width="10.32" height="2.82" fill="#1affe5"/><rect x="297.12" y="372.41" width="5.41" height="2.82" fill="#26ffd9"/><rect x="302.02" y="372.41" width="5.41" height="2.82" fill="#33ffcc"/><rect x="306.93" y="372.41" width="5.41" height="2.82" fill="#40ffbf"/><rect x="311.84" y="372.41" width="2.95" height="2.82" fill="#4dffb3"/><rect x="314.29" y="372.41" width="2.95" height="2.82" fill="#59ffa6"/><rect x="316.75" y="372.41" width="2.95" height="2.82" fill="#66ff99"/><rect x="319.20" y="372.41" width="5.41" height="2.82" fill="#73ff8c"/><rect x="324.11" y="372.41" width="2.95" height="2.82" fill="#80ff80"/><rect x="326.56" y="372.41" width="2.95" height="2.82" fill="#8cff73"/><rect x="329.02" y="372.41" width="5.41" height="2.82" fill="#99ff66"/><rect x="333.93" y="372.41" width="5.41" height="2.82" fill="#a6ff59"/><rect x="338.84" y="372.41" width="5.41" height="2.82" fill="#b3ff4c"/><rect x="343.74" y="372.41" width="10.32" height="2.82" fill="#bfff40"/><rect x="353.56" y="372.41" width="17.68" height="2.82" fill="#ccff33"/><rect x="370.74" y="372.41" width="12.77" height="2.82" fill="#bfff40"/><rect x="383.01" y="372.41" width="29.95" height="2.82" fill="#b3ff4c"/><rect x="412.46" y="372.41" width="15.22" height="2.82" fill="#a6ff59"/><rect x="427.18" y="372.41" width="2.95" height="2.82" fill="#4dffb3"/><rect x="429.64" y="372.41" width="22.59" height="2.82" fill="#fff"/><rect x="451.72" y="372.41" width="2.95" height="2.82" fill="#4dffb3"/><rect x="454.18" y="372.41" width="14.72" height="2.82" fill="#a6ff59"/><rect x="287.30" y="370.09" width="7.86" height="2.82" fill="#1affe5"/><rect x="294.66" y="370.09" width="7.86" height="2.82" fill="#26ffd9"/><rect x="302.02" y="370.09" width="5.41" height="2.82" fill="#33ffcc"/><rect x="306.93" y="370.09" width="2.95" height="2.82" fill="#40ffbf"/><rect x="309.39" y="370.09" width="5.41" height="2.82" fill="#4dffb3"/><rect x="314.29" y="370.09" width="2.95" height="2.82" fill="#59ffa6"/><rect x="316.75" y="370.09" width="2.95" height="2.82" fill="#66ff99"/><rect x="319.20" y="370.09" width="2.95" height="2.82" fill="#73ff8c"/><rect x="321.66" y="370.09" width="5.41" height="2.82" fill="#80ff80"/><rect x="326.56" y="370.09" width="2.95" height="2.82" fill="#8cff73"/><rect x="329.02" y="370.09" width="5.41" height="2.82" fill="#99ff66"/><rect x="333.93" y="370.09" width="5.41" height="2.82" fill="#a6ff59"/><rect x="338.84" y="370.09" width="7.86" height="2.82" fill="#b3ff4c"/><rect x="346.20" y="370.09" width="12.77" height="2.82" fill="#bfff40"/><rect x="358.47" y="370.09" width="7.86" height="2.82" fill="#ccff33"/><rect x="365.83" y="370.09" width="17.68" height="2.82" fill="#bfff40"/><rect x="383.01" y="370.09" width="29.95" height="2.82" fill="#b3ff4c"/><rect x="412.46" y="370.09" width="17.68" height="2.82" fill="#a6ff59"/><rect x="429.64" y="370.09" width="2.95" height="2.82" fill="#4dffb3"/><rect x="432.09" y="370.09" width="22.59" height="2.82" fill="#fff"/><rect x="454.18" y="370.09" width="2.95" height="2.82" fill="#4dffb3"/><rect x="456.63" y="370.09" width="12.27" height="2.82" fill="#a6ff59"/><rect x="287.30" y="367.77" width="5.41" height="2.82" fill="#1affe5"/><rect x="292.21" y="367.77" width="10.32" height="2.82" fill="#26ffd9"/><rect x="302.02" y="367.77" width="5.41" height="2.82" fill="#33ffcc"/><rect x="306.93" y="367.77" width="2.95" height="2.82" fill="#40ffbf"/><rect x="309.39" y="367.77" width="5.41" height="2.82" fill="#4dffb3"/><rect x="314.29" y="367.77" width="2.95" height="2.82" fill="#59ffa6"/><rect x="316.75" y="367.77" width="2.95" height="2.82" fill="#66ff99"/><rect x="319.20" y="367.77" width="2.95" height="2.82" fill="#73ff8c"/><rect x="321.66" y="367.77" width="5.41" height="2.82" fill="#80ff80"/><rect x="326.56" y="367.77" width="2.95" height="2.82" fill="#8cff73"/><rect x="329.02" y="367.77" width="5.41" height="2.82" fill="#99ff66"/><rect x="333.93" y="367.77" width="5.41" height="2.82" fill="#a6ff59"/><rect x="338.84" y="367.77" width="7.86" height="2.82" fill="#b3ff4c"/><rect x="346.20" y="367.77" width="34.86" height="2.82" fill="#bfff40"/><rect x="380.55" y="367.77" width="29.95" height="2.82" fill="#b3ff4c"/><rect x="410.00" y="367.77" width="22.59" height="2.82" fill="#a6ff59"/><rect x="432.09" y="367.77" width="2.95" height="2.82" fill="#4dffb3"/><rect x="434.54" y="367.77" width="22.59" height="2.82" fill="#fff"/><rect x="456.63" y="367.77" width="2.95" height="2.82" fill="#4dffb3"/><rect x="459.08" y="367.77" width="9.82" height="2.82" fill="#a6ff59"/><rect x="287.30" y="365.45" width="12.77" height="2.82" fill="#26ffd9"/><rect x="299.57" y="365.45" width="7.86" height="2.82" fill="#33ffcc"/><rect x="306.93" y="365.45" width="2.95" height="2.82" fill="#40ffbf"/><rect x="309.39" y="365.45" width="2.95" height="2.82" fill="#4dffb3"/><rect x="311.84" y="365.45" width="5.41" height="2.82" fill="#59ffa6"/><rect x="316.75" y="365.45" width="2.95" height="2.82" fill="#66ff99"/><rect x="319.20" y="365.45" width="2.95" height="2.82" fill="#73ff8c"/><rect x="321.66" y="365.45" width="5.41" height="2.82" fill="#80ff80"/><rect x="326.56" y="365.45" width="2.95" height="2.82" fill="#8cff73"/><rect x="329.02" y="365.45" width="5.41" height="2.82" fill="#99ff66"/><rect x="333.93" y="365.45" width="5.41" height="2.82" fill="#a6ff59"/><rect x="338.84" y="365.45" width="10.32" height="2.82" fill="#b3ff4c"/><rect x="348.65" y="365.45" width="32.40" height="2.82" fill="#bfff40"/><rect x="380.55" y="365.45" width="29.95" height="2.82" fill="#b3ff4c"/><rect x="410.00" y="365.45" width="25.04" height="2.82" fill="#a6ff59"/><rect x="434.54" y="365.45" width="2.95" height="2.82" fill="#4dffb3"/><rect x="437.00" y="365.45" width="22.59" height="2.82" fill="#fff"/><rect x="459.08" y="365.45" width="2.95" height="2.82" fill="#4dffb3"/><rect x="461.54" y="365.45" width="7.36" height="2.82" fill="#a6ff59"/><rect x="287.30" y="363.13" width="12.77" height="2.82" fill="#26ffd9"/><rect x="299.57" y="363.13" width="5.41" height="2.82" fill="#33ffcc"/><rect x="304.48" y="363.13" width="5.41" height="2.82" fill="#40ffbf"/><rect x="309.39" y="363.13" width="2.95" height="2.82" fill="#4dffb3"/><rect x="311.84" y="363.13" width="5.41" height="2.82" fill="#59ffa6"/><rect x="316.75" y="363.13" width="2.95" height="2.82" fill="#66ff99"/><rect x="319.20" y="363.13" width="2.95" height="2.82" fill="#73ff8c"/><rect x="321.66" y="363.13" width="5.41" height="2.82" fill="#80ff80"/><rect x="326.56" y="363.13" width="2.95" height="2.82" fill="#8cff73"/><rect x="329.02" y="363.13" width="5.41" height="2.82" fill="#99ff66"/><rect x="333.93" y="363.13" width="7.86" height="2.82" fill="#a6ff59"/><rect x="341.29" y="363.13" width="7.86" height="2.82" fill="#b3ff4c"/><rect x="348.65" y="363.13" width="29.95" height="2.82" fill="#bfff40"/><rect x="378.10" y="363.13" width="32.40" height="2.82" fill="#b3ff4c"/><rect x="410.00" y="363.13" width="27.49" height="2.82" fill="#a6ff59"/><rect x="437.00" y="363.13" width="2.95" height="2.82" fill="#4dffb3"/><rect x="439.45" y="363.13" width="22.59" height="2.82" fill="#fff"/><rect x="461.54" y="363.13" width="2.95" height="2.82" fill="#4dffb3"/><rect x="463.99" y="363.13" width="4.91" height="2.82" fill="#a6ff59"/><rect x="287.30" y="360.81" width="12.77" height="2.82" fill="#26ffd9"/><rect x="299.57" y="360.81" width="5.41" height="2.82" fill="#33ffcc"/><rect x="304.48" y="360.81" width="5.41" height="2.82" fill="#40ffbf"/><rect x="309.39" y="360.81" width="2.95" height="2.82" fill="#4dffb3"/><rect x="311.84" y="360.81" width="5.41" height="2.82" fill="#59ffa6"/><rect x="316.75" y="360.81" width="2.95" height="2.82" fill="#66ff99"/><rect x="319.20" y="360.81" width="2.95" height="2.82" fill="#73ff8c"/><rect x="321.66" y="360.81" width="5.41" height="2.82" fill="#80ff80"/><rect x="326.56" y="360.81" width="2.95" height="2.82" fill="#8cff73"/><rect x="329.02" y="360.81" width="5.41" height="2.82" fill="#99ff66"/><rect x="333.93" y="360.81" width="7.86" height="2.82" fill="#a6ff59"/><rect x="341.29" y="360.81" width="10.32" height="2.82" fill="#b3ff4c"/><rect x="351.11" y="360.81" width="25.04" height="2.82" fill="#bfff40"/><rect x="375.65" y="360.81" width="34.86" height="2.82" fill="#b3ff4c"/><rect x="410.00" y="360.81" width="29.95" height="2.82" fill="#a6ff59"/><rect x="439.45" y="360.81" width="2.95" height="2.82" fill="#4dffb3"/><rect x="441.91" y="360.81" width="22.59" height="2.82" fill="#fff"/><rect x="463.99" y="360.81" width="2.95" height="2.82" fill="#4dffb3"/><rect x="466.45" y="360.81" width="2.45" height="2.82" fill="#a6ff59"/><rect x="287.30" y="358.49" width="12.77" height="2.82" fill="#26ffd9"/><rect x="299.57" y="358.49" width="5.41" height="2.82" fill="#33ffcc"/><rect x="304.48" y="358.49" width="5.41" height="2.82" fill="#40ffbf"/><rect x="309.39" y="358.49" width="2.95" height="2.82" fill="#4dffb3"/><rect x="311.84" y="358.49" width="5.41" height="2.82" fill="#59ffa6"/><rect x="316.75" y="358.49" width="2.95" height="2.82" fill="#66ff99"/><rect x="319.20" y="358.49" width="2.95" height="2.82" fill="#73ff8c"/><rect x="321.66" y="358.49" width="5.41" height="2.82" fill="#80ff80"/><rect x="326.56" y="358.49" width="2.95" height="2.82" fill="#8cff73"/><rect x="329.02" y="358.49" width="5.41" height="2.82" fill="#99ff66"/><rect x="333.93" y="358.49" width="7.86" height="2.82" fill="#a6ff59"/><rect x="341.29" y="358.49" width="12.77" height="2.82" fill="#b3ff4c"/><rect x="353.56" y="358.49" width="20.13" height="2.82" fill="#bfff40"/><rect x="373.19" y="358.49" width="34.86" height="2.82" fill="#b3ff4c"/><rect x="407.55" y="358.49" width="34.86" height="2.82" fill="#a6ff59"/><rect x="441.91" y="358.49" width="2.95" height="2.82" fill="#4dffb3"/><rect x="444.36" y="358.49" width="22.59" height="2.82" fill="#fff"/><rect x="466.45" y="358.49" width="2.45" height="2.82" fill="#4dffb3"/><rect x="287.30" y="356.18" width="12.77" height="2.82" fill="#26ffd9"/><rect x="299.57" y="356.18" width="5.41" height="2.82" fill="#33ffcc"/><rect x="304.48" y="356.18" width="5.41" height="2.82" fill="#40ffbf"/><rect x="309.39" y="356.18" width="2.95" height="2.82" fill="#4dffb3"/><rect x="311.84" y="356.18" width="5.41" height="2.82" fill="#59ffa6"/><rect x="316.75" y="356.18" width="2.95" height="2.82" fill="#66ff99"/><rect x="319.20" y="356.18" width="2.95" height="2.82" fill="#73ff8c"/><rect x="321.66" y="356.18" width="5.41" height="2.82" fill="#80ff80"/><rect x="326.56" y="356.18" width="2.95" height="2.82" fill="#8cff73"/><rect x="329.02" y="356.18" width="5.41" height="2.82" fill="#99ff66"/><rect x="333.93" y="356.18" width="7.86" height="2.82" fill="#a6ff59"/><rect x="341.29" y="356.18" width="17.68" height="2.82" fill="#b3ff4c"/><rect x="358.47" y="356.18" width="10.32" height="2.82" fill="#bfff40"/><rect x="368.28" y="356.18" width="39.76" height="2.82" fill="#b3ff4c"/><rect x="407.55" y="356.18" width="37.31" height="2.82" fill="#a6ff59"/><rect x="444.36" y="356.18" width="2.95" height="2.82" fill="#4dffb3"/><rect x="446.81" y="356.18" width="22.09" height="2.82" fill="#fff"/><rect x="287.30" y="353.86" width="12.77" height="2.82" fill="#26ffd9"/><rect x="299.57" y="353.86" width="5.41" height="2.82" fill="#33ffcc"/><rect x="304.48" y="353.86" width="5.41" height="2.82" fill="#40ffbf"/><rect x="309.39" y="353.86" width="2.95" height="2.82" fill="#4dffb3"/><rect x="311.84" y="353.86" width="5.41" height="2.82" fill="#59ffa6"/><rect x="316.75" y="353.86" width="2.95" height="2.82" fill="#66ff99"/><rect x="319.20" y="353.86" width="2.95" height="2.82" fill="#73ff8c"/><rect x="321.66" y="353.86" width="5.41" height="2.82" fill="#80ff80"/><rect x="326.56" y="353.86" width="2.95" height="2.82" fill="#8cff73"/><rect x="329.02" y="353.86" width="7.86" height="2.82" fill="#99ff66"/><rect x="336.38" y="353.86" width="7.86" height="2.82" fill="#a6ff59"/><rect x="343.74" y="353.86" width="64.31" height="2.82" fill="#b3ff4c"/><rect x="407.55" y="353.86" width="39.76" height="2.82" fill="#a6ff59"/><rect x="446.81" y="353.86" width="2.95" height="2.82" fill="#4dffb3"/><rect x="449.27" y="353.86" width="19.63" height="2.82" fill="#fff"/><rect x="287.30" y="351.54" width="12.77" height="2.82" fill="#26ffd9"/><rect x="299.57" y="351.54" width="5.41" height="2.82" fill="#33ffcc"/><rect x="304.48" y="351.54" width="5.41" height="2.82" fill="#40ffbf"/><rect x="309.39" y="351.54" width="2.95" height="2.82" fill="#4dffb3"/><rect x="311.84" y="351.54" width="5.41" height="2.82" fill="#59ffa6"/><rect x="316.75" y="351.54" width="2.95" height="2.82" fill="#66ff99"/><rect x="319.20" y="351.54" width="2.95" height="2.82" fill="#73ff8c"/><rect x="321.66" y="351.54" width="5.41" height="2.82" fill="#80ff80"/><rect x="326.56" y="351.54" width="5.41" height="2.82" fill="#8cff73"/><rect x="331.47" y="351.54" width="5.41" height="2.82" fill="#99ff66"/><rect x="336.38" y="351.54" width="7.86" height="2.82" fill="#a6ff59"/><rect x="343.74" y="351.54" width="61.85" height="2.82" fill="#b3ff4c"/><rect x="405.09" y="351.54" width="44.67" height="2.82" fill="#a6ff59"/><rect x="449.27" y="351.54" width="2.95" height="2.82" fill="#4dffb3"/><rect x="451.72" y="351.54" width="17.18" height="2.82" fill="#fff"/><rect x="287.30" y="349.22" width="12.77" height="2.82" fill="#26ffd9"/><rect x="299.57" y="349.22" width="5.41" height="2.82" fill="#33ffcc"/><rect x="304.48" y="349.22" width="5.41" height="2.82" fill="#40ffbf"/><rect x="309.39" y="349.22" width="2.95" height="2.82" fill="#4dffb3"/><rect x="311.84" y="349.22" width="5.41" height="2.82" fill="#59ffa6"/><rect x="316.75" y="349.22" width="2.95" height="2.82" fill="#66ff99"/><rect x="319.20" y="349.22" width="2.95" height="2.82" fill="#73ff8c"/><rect x="321.66" y="349.22" width="5.41" height="2.82" fill="#80ff80"/><rect x="326.56" y="349.22" width="5.41" height="2.82" fill="#8cff73"/><rect x="331.47" y="349.22" width="5.41" height="2.82" fill="#99ff66"/><rect x="336.38" y="349.22" width="7.86" height="2.82" fill="#a6ff59"/><rect x="343.74" y="349.22" width="61.85" height="2.82" fill="#b3ff4c"/><rect x="405.09" y="349.22" width="47.13" height="2.82" fill="#a6ff59"/><rect x="451.72" y="349.22" width="2.95" height="2.82" fill="#4dffb3"/><rect x="454.18" y="349.22" width="14.72" height="2.82" fill="#fff"/><rect x="287.30" y="347.40" width="12.77" height="2.32" fill="#26ffd9"/><rect x="299.57" y="347.40" width="5.41" height="2.32" fill="#33ffcc"/><rect x="304.48" y="347.40" width="5.41" height="2.32" fill="#40ffbf"/><rect x="309.39" y="347.40" width="2.95" height="2.32" fill="#4dffb3"/><rect x="311.84" y="347.40" width="5.41" height="2.32" fill="#59ffa6"/><rect x="316.75" y="347.40" width="2.95" height="2.32" fill="#66ff99"/><rect x="319.20" y="347.40" width="2.95" height="2.32" fill="#73ff8c"/><rect x="321.66" y="347.40" width="5.41" height="2.32" fill="#80ff80"/><rect x="326.56" y="347.40" width="5.41" height="2.32" fill="#8cff73"/><rect x="331.47" y="347.40" width="5.41" height="2.32" fill="#99ff66"/><rect x="336.38" y="347.40" width="10.32" height="2.32" fill="#a6ff59"/><rect x="346.20" y="347.40" width="56.94" height="2.32" fill="#b3ff4c"/><rect x="402.64" y="347.40" width="52.04" height="2.32" fill="#a6ff59"/><rect x="454.18" y="347.40" width="2.95" height="2.32" fill="#4dffb3"/><rect x="456.63" y="347.40" width="12.27" height="2.32" fill="#fff"/></g>
<rect x="287.3" y="347.4" width="181.59999999999997" height="171.60000000000002" fill="none" stroke="#3c3c3c" stroke-width="0.8"/>
<line x1="334.0" y1="519.0" x2="334.0" y2="514.5" stroke="#123" stroke-opacity="0.55" stroke-width="1"/>
<text transform="translate(334.0,530.0) scale(0.88,1)" font-size="11.0" text-anchor="middle" fill="#1c1c1c" >20</text>
<line x1="287.3" y1="475.0" x2="292.1" y2="475.0" stroke="#123" stroke-opacity="0.6" stroke-width="1"/>
<text transform="translate(285.2,479.0) scale(0.88,1)" font-size="11.0" text-anchor="end" fill="#1c1c1c" >20</text>
<line x1="382.9" y1="519.0" x2="382.9" y2="514.5" stroke="#123" stroke-opacity="0.55" stroke-width="1"/>
<text transform="translate(382.9,530.0) scale(0.88,1)" font-size="11.0" text-anchor="middle" fill="#1c1c1c" >40</text>
<line x1="287.3" y1="428.7" x2="292.1" y2="428.7" stroke="#123" stroke-opacity="0.6" stroke-width="1"/>
<text transform="translate(285.2,432.7) scale(0.88,1)" font-size="11.0" text-anchor="end" fill="#1c1c1c" >40</text>
<line x1="431.8" y1="519.0" x2="431.8" y2="514.5" stroke="#123" stroke-opacity="0.55" stroke-width="1"/>
<text transform="translate(431.8,530.0) scale(0.88,1)" font-size="11.0" text-anchor="middle" fill="#1c1c1c" >60</text>
<line x1="287.3" y1="382.3" x2="292.1" y2="382.3" stroke="#123" stroke-opacity="0.6" stroke-width="1"/>
<text transform="translate(285.2,386.3) scale(0.88,1)" font-size="11.0" text-anchor="end" fill="#1c1c1c" >60</text>
<text transform="translate(380.5,542.5) scale(0.905,1)" font-size="12.6" text-anchor="middle" fill="#1c1c1c" >residue index</text>
<text transform="translate(269.6,432.0) rotate(-90) scale(0.905,1)" font-size="12.6" text-anchor="middle" fill="#1c1c1c" >residue index</text>
<text transform="translate(265.0,346.0)" font-size="12" text-anchor="start" fill="#1c1c1c" >C</text>
<defs><linearGradient id="jet" x1="0" y1="1" x2="0" y2="0">
<stop offset="0" stop-color="#00008f"/><stop offset="0.125" stop-color="#0000ff"/><stop offset="0.375" stop-color="#00ffff"/>
<stop offset="0.625" stop-color="#ffff00"/><stop offset="0.875" stop-color="#ff0000"/><stop offset="1" stop-color="#800000"/>
</linearGradient></defs>
<rect x="473.8" y="347.6" width="9.3" height="171.4" fill="url(#jet)"/>
<line x1="481" y1="405.3" x2="482.7" y2="405.3" stroke="#333" stroke-width="0.8"/>
<text transform="translate(484.3,408.8) scale(0.88,1)" font-size="10.0" text-anchor="start" fill="#1c1c1c" >0.6</text>
<line x1="481" y1="462.2" x2="482.7" y2="462.2" stroke="#333" stroke-width="0.8"/>
<text transform="translate(484.3,465.7) scale(0.88,1)" font-size="10.0" text-anchor="start" fill="#1c1c1c" >0.5</text>
<text transform="translate(484.3,523.0) scale(0.88,1)" font-size="10.0" text-anchor="start" fill="#1c1c1c" >0.4</text>
</svg></body></html>
